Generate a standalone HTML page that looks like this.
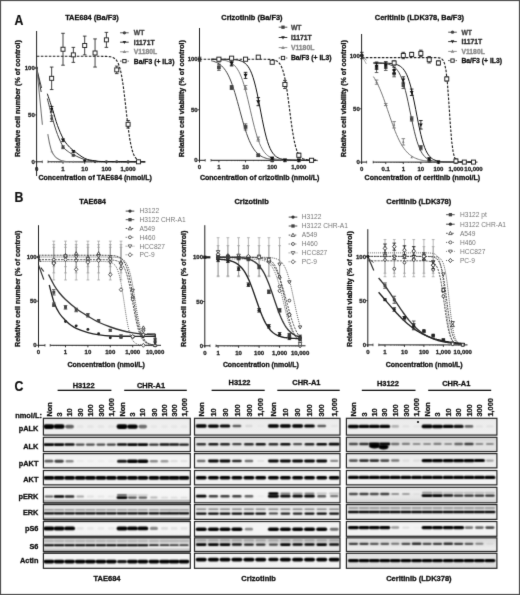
<!DOCTYPE html>
<html><head><meta charset="utf-8"><title>Figure</title>
<style>html,body{margin:0;padding:0;background:#fff;}svg{display:block;}</style>
</head><body>
<svg width="520" height="595" viewBox="0 0 520 595" font-family="'Liberation Sans', Arial, Helvetica, sans-serif">
<defs><filter id="bl" x="-20%" y="-50%" width="140%" height="200%" color-interpolation-filters="sRGB"><feConvolveMatrix order="3" kernelMatrix="0.04 0.12 0.04 0.12 0.36 0.12 0.04 0.12 0.04" edgeMode="none" preserveAlpha="false"/></filter><filter id="bl2" x="-20%" y="-50%" width="140%" height="200%"><feGaussianBlur stdDeviation="0.9"/></filter></defs>
<filter id="gb" color-interpolation-filters="sRGB" filterUnits="userSpaceOnUse" x="0" y="0" width="520" height="595"><feConvolveMatrix order="3" kernelMatrix="0.0081 0.0738 0.0081 0.0738 0.6724 0.0738 0.0081 0.0738 0.0081" edgeMode="duplicate" preserveAlpha="true"/></filter>
<g filter="url(#gb)">
<rect x="0" y="0" width="520" height="595" fill="#fff" stroke="none" stroke-width="0"/>
<text transform="translate(14.4 25) scale(0.86 1)" font-size="14.3" font-weight="bold" fill="#111" stroke="#111" stroke-width="0.2">A</text>
<text x="92" y="20.25" font-size="7.4" font-weight="bold" stroke="#111" stroke-width="0.3" text-anchor="middle" fill="#111">TAE684 (Ba/F3)</text>
<line x1="36.6" y1="31" x2="36.6" y2="176" stroke="#222" stroke-width="1"/>
<line x1="34.6" y1="161.8" x2="36.6" y2="161.8" stroke="#222" stroke-width="0.8"/>
<text x="34.8" y="163.96" font-size="6" font-weight="bold" stroke="#222" stroke-width="0.3" text-anchor="end" fill="#222">0</text>
<line x1="34.6" y1="114.9" x2="36.6" y2="114.9" stroke="#222" stroke-width="0.8"/>
<text x="34.8" y="117.06" font-size="6" font-weight="bold" stroke="#222" stroke-width="0.3" text-anchor="end" fill="#222">50</text>
<line x1="34.6" y1="68" x2="36.6" y2="68" stroke="#222" stroke-width="0.8"/>
<text x="34.8" y="70.16" font-size="6" font-weight="bold" stroke="#222" stroke-width="0.3" text-anchor="end" fill="#222">100</text>
<line x1="36.6" y1="161.8" x2="42.3" y2="161.8" stroke="#222" stroke-width="1"/>
<line x1="42.3" y1="160.5" x2="42.3" y2="163.1" stroke="#222" stroke-width="0.7"/>
<line x1="48" y1="161.8" x2="145.5" y2="161.8" stroke="#222" stroke-width="1"/>
<line x1="48" y1="160.5" x2="48" y2="163.1" stroke="#222" stroke-width="0.7"/>
<line x1="36.6" y1="161.8" x2="36.6" y2="163.4" stroke="#222" stroke-width="0.8"/>
<text x="36.6" y="170.96" font-size="6" font-weight="bold" stroke="#222" stroke-width="0.3" text-anchor="middle" fill="#222">0</text>
<line x1="63" y1="161.8" x2="63" y2="163.8" stroke="#222" stroke-width="0.9"/>
<text x="63" y="170.96" font-size="6" font-weight="bold" stroke="#222" stroke-width="0.3" text-anchor="middle" fill="#222">1</text>
<line x1="84.7" y1="161.8" x2="84.7" y2="163.8" stroke="#222" stroke-width="0.9"/>
<text x="84.7" y="170.96" font-size="6" font-weight="bold" stroke="#222" stroke-width="0.3" text-anchor="middle" fill="#222">10</text>
<line x1="106.4" y1="161.8" x2="106.4" y2="163.8" stroke="#222" stroke-width="0.9"/>
<text x="106.4" y="170.96" font-size="6" font-weight="bold" stroke="#222" stroke-width="0.3" text-anchor="middle" fill="#222">100</text>
<line x1="128.1" y1="161.8" x2="128.1" y2="163.8" stroke="#222" stroke-width="0.9"/>
<text x="128.1" y="170.96" font-size="6" font-weight="bold" stroke="#222" stroke-width="0.3" text-anchor="middle" fill="#222">1,000</text>
<line x1="51.65" y1="161.8" x2="51.65" y2="162.7" stroke="#222" stroke-width="0.4"/>
<line x1="54.36" y1="161.8" x2="54.36" y2="162.7" stroke="#222" stroke-width="0.4"/>
<line x1="56.47" y1="161.8" x2="56.47" y2="162.7" stroke="#222" stroke-width="0.4"/>
<line x1="58.19" y1="161.8" x2="58.19" y2="162.7" stroke="#222" stroke-width="0.4"/>
<line x1="59.64" y1="161.8" x2="59.64" y2="162.7" stroke="#222" stroke-width="0.4"/>
<line x1="60.9" y1="161.8" x2="60.9" y2="162.7" stroke="#222" stroke-width="0.4"/>
<line x1="62.01" y1="161.8" x2="62.01" y2="162.7" stroke="#222" stroke-width="0.4"/>
<line x1="69.53" y1="161.8" x2="69.53" y2="162.7" stroke="#222" stroke-width="0.4"/>
<line x1="73.35" y1="161.8" x2="73.35" y2="162.7" stroke="#222" stroke-width="0.4"/>
<line x1="76.06" y1="161.8" x2="76.06" y2="162.7" stroke="#222" stroke-width="0.4"/>
<line x1="78.17" y1="161.8" x2="78.17" y2="162.7" stroke="#222" stroke-width="0.4"/>
<line x1="79.89" y1="161.8" x2="79.89" y2="162.7" stroke="#222" stroke-width="0.4"/>
<line x1="81.34" y1="161.8" x2="81.34" y2="162.7" stroke="#222" stroke-width="0.4"/>
<line x1="82.6" y1="161.8" x2="82.6" y2="162.7" stroke="#222" stroke-width="0.4"/>
<line x1="83.71" y1="161.8" x2="83.71" y2="162.7" stroke="#222" stroke-width="0.4"/>
<line x1="91.23" y1="161.8" x2="91.23" y2="162.7" stroke="#222" stroke-width="0.4"/>
<line x1="95.05" y1="161.8" x2="95.05" y2="162.7" stroke="#222" stroke-width="0.4"/>
<line x1="97.76" y1="161.8" x2="97.76" y2="162.7" stroke="#222" stroke-width="0.4"/>
<line x1="99.87" y1="161.8" x2="99.87" y2="162.7" stroke="#222" stroke-width="0.4"/>
<line x1="101.59" y1="161.8" x2="101.59" y2="162.7" stroke="#222" stroke-width="0.4"/>
<line x1="103.04" y1="161.8" x2="103.04" y2="162.7" stroke="#222" stroke-width="0.4"/>
<line x1="104.3" y1="161.8" x2="104.3" y2="162.7" stroke="#222" stroke-width="0.4"/>
<line x1="105.41" y1="161.8" x2="105.41" y2="162.7" stroke="#222" stroke-width="0.4"/>
<line x1="112.93" y1="161.8" x2="112.93" y2="162.7" stroke="#222" stroke-width="0.4"/>
<line x1="116.75" y1="161.8" x2="116.75" y2="162.7" stroke="#222" stroke-width="0.4"/>
<line x1="119.46" y1="161.8" x2="119.46" y2="162.7" stroke="#222" stroke-width="0.4"/>
<line x1="121.57" y1="161.8" x2="121.57" y2="162.7" stroke="#222" stroke-width="0.4"/>
<line x1="123.29" y1="161.8" x2="123.29" y2="162.7" stroke="#222" stroke-width="0.4"/>
<line x1="124.74" y1="161.8" x2="124.74" y2="162.7" stroke="#222" stroke-width="0.4"/>
<line x1="126" y1="161.8" x2="126" y2="162.7" stroke="#222" stroke-width="0.4"/>
<line x1="127.11" y1="161.8" x2="127.11" y2="162.7" stroke="#222" stroke-width="0.4"/>
<line x1="134.63" y1="161.8" x2="134.63" y2="162.7" stroke="#222" stroke-width="0.4"/>
<line x1="138.45" y1="161.8" x2="138.45" y2="162.7" stroke="#222" stroke-width="0.4"/>
<line x1="141.16" y1="161.8" x2="141.16" y2="162.7" stroke="#222" stroke-width="0.4"/>
<line x1="143.27" y1="161.8" x2="143.27" y2="162.7" stroke="#222" stroke-width="0.4"/>
<line x1="144.99" y1="161.8" x2="144.99" y2="162.7" stroke="#222" stroke-width="0.4"/>
<text x="19.6" y="98.65" font-size="7.12" font-weight="bold" stroke="#111" stroke-width="0.3" text-anchor="middle" fill="#111" transform="rotate(-90 19.6 98.65)">Relative cell number (% of control)</text>
<text x="95.1" y="180" font-size="7.05" font-weight="bold" stroke="#111" stroke-width="0.3" text-anchor="middle" fill="#111">Concentration of TAE684 (nmol/L)</text>
<line x1="36.6" y1="68" x2="41.6" y2="88" stroke="#333" stroke-width="0.9"/>
<line x1="36.6" y1="68" x2="41.2" y2="92" stroke="#222" stroke-width="0.9"/>
<line x1="36.8" y1="68" x2="42.4" y2="124.7" stroke="#777" stroke-width="1.1"/>
<path d="M47.3 98.5 C48.17 101.85 50.8 112.6 52.5 118.6 C54.2 124.6 55.7 129.78 57.5 134.5 C59.3 139.22 61.47 144.02 63.3 146.9 C65.13 149.78 66.72 150.45 68.5 151.8 C70.28 153.15 71.28 153.7 74 155 C76.72 156.3 81.3 158.57 84.8 159.6 C88.3 160.63 91.47 160.85 95 161.2 C98.53 161.55 97.67 161.6 106 161.7 C114.33 161.8 138.5 161.78 145 161.8" stroke="#444" stroke-width="1" fill="none" stroke-linejoin="round"/>
<path d="M47.3 93.7 C48.17 96.28 50.8 103.9 52.5 109.2 C54.2 114.5 55.7 120.57 57.5 125.5 C59.3 130.43 61.47 135.38 63.3 138.8 C65.13 142.22 66.72 143.98 68.5 146 C70.28 148.02 71.28 148.83 74 150.9 C76.72 152.97 81.3 156.75 84.8 158.4 C88.3 160.05 91.47 160.27 95 160.8 C98.53 161.33 97.67 161.43 106 161.6 C114.33 161.77 138.5 161.77 145 161.8" stroke="#111" stroke-width="1" fill="none" stroke-linejoin="round"/>
<path d="M47.8 134.1 C48.13 135.83 49.13 141.6 49.8 144.5 C50.47 147.4 50.93 149.5 51.8 151.5 C52.67 153.5 53.87 155.22 55 156.5 C56.13 157.78 57.22 158.43 58.6 159.2 C59.98 159.97 61.4 160.68 63.3 161.1 C65.2 161.52 65.55 161.58 70 161.7 C74.45 161.82 86.67 161.78 90 161.8" stroke="#777" stroke-width="1.1" fill="none" stroke-linejoin="round"/>
<path d="M36.8 56.28 L38.09 56.28 L39.38 56.28 L40.67 56.28 L41.96 56.28 L43.25 56.28 L44.54 56.28 L45.83 56.28 L47.12 56.28 L48.41 56.28 L49.7 56.28 L50.99 56.28 L52.28 56.28 L53.57 56.28 L54.86 56.28 L56.15 56.28 L57.44 56.28 L58.73 56.28 L60.02 56.28 L61.31 56.28 L62.6 56.28 L63.89 56.28 L65.18 56.28 L66.47 56.28 L67.76 56.28 L69.05 56.28 L70.34 56.28 L71.63 56.28 L72.92 56.28 L74.21 56.28 L75.5 56.28 L76.79 56.28 L78.08 56.28 L79.37 56.28 L80.66 56.28 L81.95 56.28 L83.24 56.28 L84.53 56.28 L85.82 56.28 L87.11 56.28 L88.4 56.28 L89.69 56.28 L90.98 56.28 L92.27 56.28 L93.56 56.28 L94.85 56.28 L96.14 56.28 L97.43 56.28 L98.72 56.29 L100.01 56.29 L101.3 56.3 L102.59 56.31 L103.88 56.33 L105.17 56.36 L106.46 56.41 L107.75 56.49 L109.04 56.61 L110.33 56.79 L111.62 57.07 L112.91 57.5 L114.2 58.16 L115.49 59.17 L116.78 60.7 L118.07 62.97 L119.36 66.3 L120.65 71.04 L121.94 77.53 L123.23 85.93 L124.52 96.08 L125.81 107.36 L127.1 118.8 L128.39 129.37 L129.68 138.31 L130.97 145.34 L132.26 150.56 L133.55 154.26 L134.84 156.81 L136.13 158.52 L137.42 159.66 L138.71 160.41 L140 160.9" stroke="#222" stroke-width="1.15" fill="none" stroke-dasharray="2.6,1.4" stroke-linejoin="round"/>
<line x1="51.65" y1="115.84" x2="51.65" y2="121.47" stroke="#444" stroke-width="0.85"/>
<line x1="49.85" y1="115.84" x2="53.45" y2="115.84" stroke="#444" stroke-width="0.85"/>
<line x1="49.85" y1="121.47" x2="53.45" y2="121.47" stroke="#444" stroke-width="0.85"/>
<circle cx="51.65" cy="118.65" r="1.45" fill="#444"/>
<line x1="63" y1="145.85" x2="63" y2="148.67" stroke="#444" stroke-width="0.85"/>
<line x1="61.2" y1="145.85" x2="64.8" y2="145.85" stroke="#444" stroke-width="0.85"/>
<line x1="61.2" y1="148.67" x2="64.8" y2="148.67" stroke="#444" stroke-width="0.85"/>
<circle cx="63" cy="147.26" r="1.45" fill="#444"/>
<line x1="73.35" y1="154.3" x2="73.35" y2="156.17" stroke="#444" stroke-width="0.85"/>
<line x1="71.55" y1="154.3" x2="75.15" y2="154.3" stroke="#444" stroke-width="0.85"/>
<line x1="71.55" y1="156.17" x2="75.15" y2="156.17" stroke="#444" stroke-width="0.85"/>
<circle cx="73.35" cy="155.23" r="1.45" fill="#444"/>
<circle cx="84.7" cy="160.86" r="1.45" fill="#444"/>
<circle cx="95.05" cy="161.8" r="1.45" fill="#444"/>
<circle cx="106.4" cy="161.8" r="1.45" fill="#444"/>
<circle cx="116.75" cy="161.8" r="1.45" fill="#444"/>
<circle cx="128.1" cy="161.8" r="1.45" fill="#444"/>
<circle cx="138.45" cy="161.8" r="1.45" fill="#444"/>
<line x1="51.65" y1="106.46" x2="51.65" y2="112.09" stroke="#111" stroke-width="0.85"/>
<line x1="49.85" y1="106.46" x2="53.45" y2="106.46" stroke="#111" stroke-width="0.85"/>
<line x1="49.85" y1="112.09" x2="53.45" y2="112.09" stroke="#111" stroke-width="0.85"/>
<path d="M51.65 111L53.3 108.07L50 108.07Z" stroke="none" stroke-width="0" fill="#111"/>
<line x1="63" y1="138.82" x2="63" y2="141.63" stroke="#111" stroke-width="0.85"/>
<line x1="61.2" y1="138.82" x2="64.8" y2="138.82" stroke="#111" stroke-width="0.85"/>
<line x1="61.2" y1="141.63" x2="64.8" y2="141.63" stroke="#111" stroke-width="0.85"/>
<path d="M63 141.95L64.65 139.03L61.35 139.03Z" stroke="none" stroke-width="0" fill="#111"/>
<line x1="73.35" y1="150.54" x2="73.35" y2="152.42" stroke="#111" stroke-width="0.85"/>
<line x1="71.55" y1="150.54" x2="75.15" y2="150.54" stroke="#111" stroke-width="0.85"/>
<line x1="71.55" y1="152.42" x2="75.15" y2="152.42" stroke="#111" stroke-width="0.85"/>
<path d="M73.35 153.21L75 150.28L71.7 150.28Z" stroke="none" stroke-width="0" fill="#111"/>
<path d="M84.7 162.59L86.35 159.66L83.05 159.66Z" stroke="none" stroke-width="0" fill="#111"/>
<path d="M51.65 150.22L52.86 152.36L50.44 152.36Z" stroke="none" stroke-width="0" fill="#888"/>
<path d="M63 160.07L64.21 162.21L61.79 162.21Z" stroke="none" stroke-width="0" fill="#888"/>
<path d="M73.35 160.54L74.56 162.68L72.14 162.68Z" stroke="none" stroke-width="0" fill="#888"/>
<circle cx="36.6" cy="68" r="1.4" fill="#444"/>
<line x1="51.65" y1="67.06" x2="51.65" y2="89.57" stroke="#222" stroke-width="0.85"/>
<line x1="49.85" y1="67.06" x2="53.45" y2="67.06" stroke="#222" stroke-width="0.85"/>
<line x1="49.85" y1="89.57" x2="53.45" y2="89.57" stroke="#222" stroke-width="0.85"/>
<rect x="49.65" y="76.32" width="4" height="4" fill="#fff" stroke="#222" stroke-width="0.95"/>
<line x1="63" y1="33.29" x2="63" y2="65.19" stroke="#222" stroke-width="0.85"/>
<line x1="61.2" y1="33.29" x2="64.8" y2="33.29" stroke="#222" stroke-width="0.85"/>
<line x1="61.2" y1="65.19" x2="64.8" y2="65.19" stroke="#222" stroke-width="0.85"/>
<rect x="61" y="47.24" width="4" height="4" fill="#fff" stroke="#222" stroke-width="0.95"/>
<line x1="73.35" y1="47.36" x2="73.35" y2="62.37" stroke="#222" stroke-width="0.85"/>
<line x1="71.55" y1="47.36" x2="75.15" y2="47.36" stroke="#222" stroke-width="0.85"/>
<line x1="71.55" y1="62.37" x2="75.15" y2="62.37" stroke="#222" stroke-width="0.85"/>
<rect x="71.35" y="52.87" width="4" height="4" fill="#fff" stroke="#222" stroke-width="0.95"/>
<line x1="84.7" y1="36.11" x2="84.7" y2="54.87" stroke="#222" stroke-width="0.85"/>
<line x1="82.9" y1="36.11" x2="86.5" y2="36.11" stroke="#222" stroke-width="0.85"/>
<line x1="82.9" y1="54.87" x2="86.5" y2="54.87" stroke="#222" stroke-width="0.85"/>
<rect x="82.7" y="43.49" width="4" height="4" fill="#fff" stroke="#222" stroke-width="0.95"/>
<line x1="95.05" y1="38.92" x2="95.05" y2="67.06" stroke="#222" stroke-width="0.85"/>
<line x1="93.25" y1="38.92" x2="96.85" y2="38.92" stroke="#222" stroke-width="0.85"/>
<line x1="93.25" y1="67.06" x2="96.85" y2="67.06" stroke="#222" stroke-width="0.85"/>
<rect x="93.05" y="50.99" width="4" height="4" fill="#fff" stroke="#222" stroke-width="0.95"/>
<line x1="106.4" y1="32.36" x2="106.4" y2="47.36" stroke="#222" stroke-width="0.85"/>
<line x1="104.6" y1="32.36" x2="108.2" y2="32.36" stroke="#222" stroke-width="0.85"/>
<line x1="104.6" y1="47.36" x2="108.2" y2="47.36" stroke="#222" stroke-width="0.85"/>
<rect x="104.4" y="37.86" width="4" height="4" fill="#fff" stroke="#222" stroke-width="0.95"/>
<line x1="116.75" y1="66.12" x2="116.75" y2="73.63" stroke="#222" stroke-width="0.85"/>
<line x1="114.95" y1="66.12" x2="118.55" y2="66.12" stroke="#222" stroke-width="0.85"/>
<line x1="114.95" y1="73.63" x2="118.55" y2="73.63" stroke="#222" stroke-width="0.85"/>
<rect x="114.75" y="67.88" width="4" height="4" fill="#fff" stroke="#222" stroke-width="0.95"/>
<line x1="128.1" y1="120.53" x2="128.1" y2="128.03" stroke="#222" stroke-width="0.85"/>
<line x1="126.3" y1="120.53" x2="129.9" y2="120.53" stroke="#222" stroke-width="0.85"/>
<line x1="126.3" y1="128.03" x2="129.9" y2="128.03" stroke="#222" stroke-width="0.85"/>
<rect x="126.1" y="122.28" width="4" height="4" fill="#fff" stroke="#222" stroke-width="0.95"/>
<rect x="136.45" y="159.8" width="4" height="4" fill="#fff" stroke="#222" stroke-width="0.95"/>
<line x1="120.1" y1="32.8" x2="128.7" y2="32.8" stroke="#444" stroke-width="0.9"/>
<circle cx="124.4" cy="32.8" r="1.65" fill="#444"/>
<text x="133.8" y="35.25" font-size="6.8" font-weight="bold" stroke="#444" stroke-width="0.3" fill="#444">WT</text>
<line x1="120.1" y1="42.2" x2="128.7" y2="42.2" stroke="#222" stroke-width="0.9"/>
<path d="M124.4 44.1L126.22 40.88L122.59 40.88Z" stroke="none" stroke-width="0" fill="#222"/>
<text x="133.8" y="44.65" font-size="6.8" font-weight="bold" stroke="#2a2a2a" stroke-width="0.3" fill="#2a2a2a">I1171T</text>
<line x1="120.1" y1="51.8" x2="128.7" y2="51.8" stroke="#888" stroke-width="0.9"/>
<path d="M124.4 49.9L126.22 53.12L122.59 53.12Z" stroke="none" stroke-width="0" fill="#888"/>
<text x="133.8" y="54.25" font-size="6.8" font-weight="bold" stroke="#888" stroke-width="0.3" fill="#888">V1180L</text>
<line x1="120.1" y1="61.1" x2="128.7" y2="61.1" stroke="#222" stroke-width="0.9" stroke-dasharray="1.5,1"/>
<rect x="122.75" y="59.45" width="3.3" height="3.3" fill="#fff" stroke="#222" stroke-width="0.95"/>
<text x="133.8" y="63.55" font-size="6.8" font-weight="bold" stroke="#111" stroke-width="0.3" fill="#111">Ba/F3 (+ IL3)</text>
<text x="251.9" y="20.25" font-size="7.4" font-weight="bold" stroke="#111" stroke-width="0.3" text-anchor="middle" fill="#111">Crizotinib (Ba/F3)</text>
<line x1="199.5" y1="28" x2="199.5" y2="162.5" stroke="#222" stroke-width="1"/>
<line x1="197.5" y1="160.3" x2="199.5" y2="160.3" stroke="#222" stroke-width="0.8"/>
<text x="197.7" y="162.46" font-size="6" font-weight="bold" stroke="#222" stroke-width="0.3" text-anchor="end" fill="#222">0</text>
<line x1="197.5" y1="109.75" x2="199.5" y2="109.75" stroke="#222" stroke-width="0.8"/>
<text x="197.7" y="111.91" font-size="6" font-weight="bold" stroke="#222" stroke-width="0.3" text-anchor="end" fill="#222">50</text>
<line x1="197.5" y1="59.2" x2="199.5" y2="59.2" stroke="#222" stroke-width="0.8"/>
<text x="197.7" y="61.36" font-size="6" font-weight="bold" stroke="#222" stroke-width="0.3" text-anchor="end" fill="#222">100</text>
<line x1="199.5" y1="160.3" x2="205.2" y2="160.3" stroke="#222" stroke-width="1"/>
<line x1="205.2" y1="159" x2="205.2" y2="161.6" stroke="#222" stroke-width="0.7"/>
<line x1="211" y1="160.3" x2="317.5" y2="160.3" stroke="#222" stroke-width="1"/>
<line x1="211" y1="159" x2="211" y2="161.6" stroke="#222" stroke-width="0.7"/>
<line x1="199.5" y1="160.3" x2="199.5" y2="161.9" stroke="#222" stroke-width="0.8"/>
<text x="199.5" y="169.46" font-size="6" font-weight="bold" stroke="#222" stroke-width="0.3" text-anchor="middle" fill="#222">0</text>
<line x1="218.9" y1="160.3" x2="218.9" y2="162.3" stroke="#222" stroke-width="0.9"/>
<text x="218.9" y="169.46" font-size="6" font-weight="bold" stroke="#222" stroke-width="0.3" text-anchor="middle" fill="#222">1</text>
<line x1="245.55" y1="160.3" x2="245.55" y2="162.3" stroke="#222" stroke-width="0.9"/>
<text x="245.55" y="169.46" font-size="6" font-weight="bold" stroke="#222" stroke-width="0.3" text-anchor="middle" fill="#222">10</text>
<line x1="272.2" y1="160.3" x2="272.2" y2="162.3" stroke="#222" stroke-width="0.9"/>
<text x="272.2" y="169.46" font-size="6" font-weight="bold" stroke="#222" stroke-width="0.3" text-anchor="middle" fill="#222">100</text>
<line x1="298.85" y1="160.3" x2="298.85" y2="162.3" stroke="#222" stroke-width="0.9"/>
<text x="298.85" y="169.46" font-size="6" font-weight="bold" stroke="#222" stroke-width="0.3" text-anchor="middle" fill="#222">1,000</text>
<line x1="212.99" y1="160.3" x2="212.99" y2="161.2" stroke="#222" stroke-width="0.4"/>
<line x1="214.77" y1="160.3" x2="214.77" y2="161.2" stroke="#222" stroke-width="0.4"/>
<line x1="216.32" y1="160.3" x2="216.32" y2="161.2" stroke="#222" stroke-width="0.4"/>
<line x1="217.68" y1="160.3" x2="217.68" y2="161.2" stroke="#222" stroke-width="0.4"/>
<line x1="226.92" y1="160.3" x2="226.92" y2="161.2" stroke="#222" stroke-width="0.4"/>
<line x1="231.62" y1="160.3" x2="231.62" y2="161.2" stroke="#222" stroke-width="0.4"/>
<line x1="234.94" y1="160.3" x2="234.94" y2="161.2" stroke="#222" stroke-width="0.4"/>
<line x1="237.53" y1="160.3" x2="237.53" y2="161.2" stroke="#222" stroke-width="0.4"/>
<line x1="239.64" y1="160.3" x2="239.64" y2="161.2" stroke="#222" stroke-width="0.4"/>
<line x1="241.42" y1="160.3" x2="241.42" y2="161.2" stroke="#222" stroke-width="0.4"/>
<line x1="242.97" y1="160.3" x2="242.97" y2="161.2" stroke="#222" stroke-width="0.4"/>
<line x1="244.33" y1="160.3" x2="244.33" y2="161.2" stroke="#222" stroke-width="0.4"/>
<line x1="253.57" y1="160.3" x2="253.57" y2="161.2" stroke="#222" stroke-width="0.4"/>
<line x1="258.27" y1="160.3" x2="258.27" y2="161.2" stroke="#222" stroke-width="0.4"/>
<line x1="261.59" y1="160.3" x2="261.59" y2="161.2" stroke="#222" stroke-width="0.4"/>
<line x1="264.18" y1="160.3" x2="264.18" y2="161.2" stroke="#222" stroke-width="0.4"/>
<line x1="266.29" y1="160.3" x2="266.29" y2="161.2" stroke="#222" stroke-width="0.4"/>
<line x1="268.07" y1="160.3" x2="268.07" y2="161.2" stroke="#222" stroke-width="0.4"/>
<line x1="269.62" y1="160.3" x2="269.62" y2="161.2" stroke="#222" stroke-width="0.4"/>
<line x1="270.98" y1="160.3" x2="270.98" y2="161.2" stroke="#222" stroke-width="0.4"/>
<line x1="280.22" y1="160.3" x2="280.22" y2="161.2" stroke="#222" stroke-width="0.4"/>
<line x1="284.92" y1="160.3" x2="284.92" y2="161.2" stroke="#222" stroke-width="0.4"/>
<line x1="288.24" y1="160.3" x2="288.24" y2="161.2" stroke="#222" stroke-width="0.4"/>
<line x1="290.83" y1="160.3" x2="290.83" y2="161.2" stroke="#222" stroke-width="0.4"/>
<line x1="292.94" y1="160.3" x2="292.94" y2="161.2" stroke="#222" stroke-width="0.4"/>
<line x1="294.72" y1="160.3" x2="294.72" y2="161.2" stroke="#222" stroke-width="0.4"/>
<line x1="296.27" y1="160.3" x2="296.27" y2="161.2" stroke="#222" stroke-width="0.4"/>
<line x1="297.63" y1="160.3" x2="297.63" y2="161.2" stroke="#222" stroke-width="0.4"/>
<line x1="306.87" y1="160.3" x2="306.87" y2="161.2" stroke="#222" stroke-width="0.4"/>
<line x1="311.57" y1="160.3" x2="311.57" y2="161.2" stroke="#222" stroke-width="0.4"/>
<line x1="314.89" y1="160.3" x2="314.89" y2="161.2" stroke="#222" stroke-width="0.4"/>
<line x1="317.48" y1="160.3" x2="317.48" y2="161.2" stroke="#222" stroke-width="0.4"/>
<text x="184.4" y="98.65" font-size="7.1" font-weight="bold" stroke="#111" stroke-width="0.3" text-anchor="middle" fill="#111" transform="rotate(-90 184.4 98.65)">Relative cell viability (% of control)</text>
<text x="259.6" y="180" font-size="7.05" font-weight="bold" stroke="#111" stroke-width="0.3" text-anchor="middle" fill="#111">Concentration of crizotinib (nmol/L)</text>
<path d="M211.2 60.73 L212.51 61.05 L213.82 61.43 L215.13 61.89 L216.44 62.44 L217.75 63.1 L219.06 63.89 L220.37 64.83 L221.68 65.95 L222.99 67.27 L224.3 68.82 L225.61 70.62 L226.92 72.72 L228.23 75.14 L229.54 77.9 L230.85 81.01 L232.16 84.48 L233.47 88.3 L234.78 92.44 L236.09 96.87 L237.4 101.52 L238.71 106.31 L240.02 111.17 L241.33 116 L242.64 120.72 L243.95 125.24 L245.26 129.51 L246.57 133.47 L247.88 137.09 L249.19 140.35 L250.5 143.25 L251.81 145.81 L253.12 148.04 L254.43 149.96 L255.74 151.62 L257.05 153.03 L258.36 154.22 L259.67 155.24 L260.98 156.08 L262.29 156.8 L263.6 157.39 L264.91 157.89 L266.22 158.3 L267.53 158.65 L268.84 158.93 L270.15 159.17 L271.46 159.37 L272.77 159.53 L274.08 159.66 L275.39 159.77 L276.7 159.86 L278.01 159.94 L279.32 160 L280.63 160.06 L281.94 160.1 L283.25 160.13 L284.56 160.16 L285.87 160.19 L287.18 160.21 L288.49 160.22 L289.8 160.24 L291.11 160.25 L292.42 160.26 L293.73 160.26 L295.04 160.27 L296.35 160.28 L297.66 160.28 L298.97 160.28 L300.28 160.29 L301.59 160.29 L302.9 160.29 L304.21 160.29 L305.52 160.29 L306.83 160.29 L308.14 160.3 L309.45 160.3 L310.76 160.3 L312.07 160.3 L313.38 160.3 L314.69 160.3 L316 160.3" stroke="#444" stroke-width="1" fill="none" stroke-linejoin="round"/>
<path d="M211.2 59.32 L212.51 59.35 L213.82 59.39 L215.13 59.43 L216.44 59.49 L217.75 59.57 L219.06 59.66 L220.37 59.78 L221.68 59.92 L222.99 60.1 L224.3 60.33 L225.61 60.61 L226.92 60.97 L228.23 61.4 L229.54 61.95 L230.85 62.62 L232.16 63.46 L233.47 64.48 L234.78 65.74 L236.09 67.26 L237.4 69.11 L238.71 71.33 L240.02 73.96 L241.33 77.05 L242.64 80.62 L243.95 84.69 L245.26 89.24 L246.57 94.23 L247.88 99.57 L249.19 105.16 L250.5 110.87 L251.81 116.55 L253.12 122.06 L254.43 127.28 L255.74 132.1 L257.05 136.47 L258.36 140.34 L259.67 143.72 L260.98 146.63 L262.29 149.09 L263.6 151.16 L264.91 152.87 L266.22 154.29 L267.53 155.45 L268.84 156.39 L270.15 157.16 L271.46 157.78 L272.77 158.28 L274.08 158.68 L275.39 159.01 L276.7 159.27 L278.01 159.47 L279.32 159.64 L280.63 159.77 L281.94 159.88 L283.25 159.96 L284.56 160.03 L285.87 160.09 L287.18 160.13 L288.49 160.16 L289.8 160.19 L291.11 160.21 L292.42 160.23 L293.73 160.24 L295.04 160.26 L296.35 160.26 L297.66 160.27 L298.97 160.28 L300.28 160.28 L301.59 160.29 L302.9 160.29 L304.21 160.29 L305.52 160.29 L306.83 160.29 L308.14 160.3 L309.45 160.3 L310.76 160.3 L312.07 160.3 L313.38 160.3 L314.69 160.3 L316 160.3" stroke="#777" stroke-width="1" fill="none" stroke-linejoin="round"/>
<path d="M211.2 59.2 L212.51 59.2 L213.82 59.21 L215.13 59.21 L216.44 59.21 L217.75 59.21 L219.06 59.22 L220.37 59.23 L221.68 59.23 L222.99 59.24 L224.3 59.26 L225.61 59.27 L226.92 59.3 L228.23 59.33 L229.54 59.37 L230.85 59.42 L232.16 59.49 L233.47 59.58 L234.78 59.7 L236.09 59.85 L237.4 60.06 L238.71 60.32 L240.02 60.66 L241.33 61.11 L242.64 61.69 L243.95 62.45 L245.26 63.42 L246.57 64.66 L247.88 66.25 L249.19 68.25 L250.5 70.75 L251.81 73.84 L253.12 77.58 L254.43 82.02 L255.74 87.17 L257.05 92.98 L258.36 99.34 L259.67 106.06 L260.98 112.91 L262.29 119.65 L263.6 126.05 L264.91 131.91 L266.22 137.11 L267.53 141.61 L268.84 145.4 L270.15 148.53 L271.46 151.08 L272.77 153.11 L274.08 154.73 L275.39 156 L276.7 156.99 L278.01 157.76 L279.32 158.35 L280.63 158.81 L281.94 159.16 L283.25 159.43 L284.56 159.63 L285.87 159.79 L287.18 159.91 L288.49 160 L289.8 160.07 L291.11 160.13 L292.42 160.17 L293.73 160.2 L295.04 160.22 L296.35 160.24 L297.66 160.26 L298.97 160.27 L300.28 160.27 L301.59 160.28 L302.9 160.29 L304.21 160.29 L305.52 160.29 L306.83 160.29 L308.14 160.29 L309.45 160.3 L310.76 160.3 L312.07 160.3 L313.38 160.3 L314.69 160.3 L316 160.3" stroke="#111" stroke-width="1" fill="none" stroke-linejoin="round"/>
<path d="M199.6 59.2 L201.06 59.2 L202.51 59.2 L203.97 59.2 L205.42 59.2 L206.88 59.2 L208.33 59.2 L209.78 59.2 L211.24 59.2 L212.69 59.2 L214.15 59.2 L215.6 59.2 L217.06 59.2 L218.51 59.2 L219.97 59.2 L221.42 59.2 L222.88 59.2 L224.34 59.2 L225.79 59.2 L227.25 59.2 L228.7 59.2 L230.16 59.2 L231.61 59.2 L233.06 59.2 L234.52 59.2 L235.97 59.2 L237.43 59.2 L238.88 59.2 L240.34 59.2 L241.8 59.2 L243.25 59.2 L244.7 59.2 L246.16 59.2 L247.62 59.2 L249.07 59.2 L250.52 59.2 L251.98 59.2 L253.44 59.2 L254.89 59.2 L256.35 59.2 L257.8 59.21 L259.25 59.21 L260.71 59.21 L262.16 59.22 L263.62 59.23 L265.07 59.25 L266.53 59.28 L267.99 59.32 L269.44 59.39 L270.89 59.5 L272.35 59.67 L273.81 59.94 L275.26 60.35 L276.72 61 L278.17 62 L279.62 63.54 L281.08 65.86 L282.53 69.28 L283.99 74.2 L285.44 80.94 L286.9 89.64 L288.36 100.02 L289.81 111.34 L291.26 122.49 L292.72 132.47 L294.18 140.63 L295.63 146.83 L297.08 151.3 L298.54 154.38 L300 156.46 L301.45 157.82 L302.9 158.71 L304.36 159.28 L305.81 159.65 L307.27 159.89 L308.73 160.04 L310.18 160.13 L311.63 160.19 L313.09 160.23 L314.55 160.26 L316 160.27" stroke="#222" stroke-width="1.15" fill="none" stroke-dasharray="2.6,1.4" stroke-linejoin="round"/>
<line x1="218.9" y1="64.26" x2="218.9" y2="70.32" stroke="#444" stroke-width="0.85"/>
<line x1="217.1" y1="64.26" x2="220.7" y2="64.26" stroke="#444" stroke-width="0.85"/>
<line x1="217.1" y1="70.32" x2="220.7" y2="70.32" stroke="#444" stroke-width="0.85"/>
<rect x="217.05" y="65.44" width="3.7" height="3.7" fill="#444" stroke="none" stroke-width="0"/>
<line x1="231.62" y1="85.49" x2="231.62" y2="89.53" stroke="#444" stroke-width="0.85"/>
<line x1="229.82" y1="85.49" x2="233.42" y2="85.49" stroke="#444" stroke-width="0.85"/>
<line x1="229.82" y1="89.53" x2="233.42" y2="89.53" stroke="#444" stroke-width="0.85"/>
<rect x="229.77" y="85.66" width="3.7" height="3.7" fill="#444" stroke="none" stroke-width="0"/>
<line x1="245.55" y1="123.9" x2="245.55" y2="129.97" stroke="#444" stroke-width="0.85"/>
<line x1="243.75" y1="123.9" x2="247.35" y2="123.9" stroke="#444" stroke-width="0.85"/>
<line x1="243.75" y1="129.97" x2="247.35" y2="129.97" stroke="#444" stroke-width="0.85"/>
<rect x="243.7" y="125.09" width="3.7" height="3.7" fill="#444" stroke="none" stroke-width="0"/>
<line x1="258.27" y1="154.23" x2="258.27" y2="156.26" stroke="#444" stroke-width="0.85"/>
<line x1="256.47" y1="154.23" x2="260.07" y2="154.23" stroke="#444" stroke-width="0.85"/>
<line x1="256.47" y1="156.26" x2="260.07" y2="156.26" stroke="#444" stroke-width="0.85"/>
<rect x="256.42" y="153.4" width="3.7" height="3.7" fill="#444" stroke="none" stroke-width="0"/>
<rect x="270.35" y="158.45" width="3.7" height="3.7" fill="#444" stroke="none" stroke-width="0"/>
<rect x="283.07" y="158.45" width="3.7" height="3.7" fill="#444" stroke="none" stroke-width="0"/>
<rect x="297" y="158.45" width="3.7" height="3.7" fill="#444" stroke="none" stroke-width="0"/>
<rect x="309.72" y="158.45" width="3.7" height="3.7" fill="#444" stroke="none" stroke-width="0"/>
<line x1="218.9" y1="58.19" x2="218.9" y2="62.23" stroke="#777" stroke-width="0.85"/>
<line x1="217.1" y1="58.19" x2="220.7" y2="58.19" stroke="#777" stroke-width="0.85"/>
<line x1="217.1" y1="62.23" x2="220.7" y2="62.23" stroke="#777" stroke-width="0.85"/>
<path d="M218.9 58.37L220.66 61.49L217.14 61.49Z" stroke="none" stroke-width="0" fill="#777"/>
<line x1="231.62" y1="62.23" x2="231.62" y2="66.28" stroke="#777" stroke-width="0.85"/>
<line x1="229.82" y1="62.23" x2="233.42" y2="62.23" stroke="#777" stroke-width="0.85"/>
<line x1="229.82" y1="66.28" x2="233.42" y2="66.28" stroke="#777" stroke-width="0.85"/>
<path d="M231.62 62.42L233.38 65.54L229.86 65.54Z" stroke="none" stroke-width="0" fill="#777"/>
<line x1="245.55" y1="85.49" x2="245.55" y2="89.53" stroke="#777" stroke-width="0.85"/>
<line x1="243.75" y1="85.49" x2="247.35" y2="85.49" stroke="#777" stroke-width="0.85"/>
<line x1="243.75" y1="89.53" x2="247.35" y2="89.53" stroke="#777" stroke-width="0.85"/>
<path d="M245.55 85.67L247.31 88.79L243.79 88.79Z" stroke="none" stroke-width="0" fill="#777"/>
<line x1="258.27" y1="137.05" x2="258.27" y2="141.09" stroke="#777" stroke-width="0.85"/>
<line x1="256.47" y1="137.05" x2="260.07" y2="137.05" stroke="#777" stroke-width="0.85"/>
<line x1="256.47" y1="141.09" x2="260.07" y2="141.09" stroke="#777" stroke-width="0.85"/>
<path d="M258.27 137.23L260.03 140.35L256.51 140.35Z" stroke="none" stroke-width="0" fill="#777"/>
<path d="M272.2 156.44L273.96 159.56L270.44 159.56Z" stroke="none" stroke-width="0" fill="#777"/>
<path d="M284.92 158.46L286.68 161.58L283.16 161.58Z" stroke="none" stroke-width="0" fill="#777"/>
<line x1="218.9" y1="58.19" x2="218.9" y2="60.21" stroke="#111" stroke-width="0.85"/>
<line x1="217.1" y1="58.19" x2="220.7" y2="58.19" stroke="#111" stroke-width="0.85"/>
<line x1="217.1" y1="60.21" x2="220.7" y2="60.21" stroke="#111" stroke-width="0.85"/>
<path d="M218.9 61.39L220.99 57.68L216.81 57.68Z" stroke="none" stroke-width="0" fill="#111"/>
<line x1="231.62" y1="61.22" x2="231.62" y2="65.27" stroke="#111" stroke-width="0.85"/>
<line x1="229.82" y1="61.22" x2="233.42" y2="61.22" stroke="#111" stroke-width="0.85"/>
<line x1="229.82" y1="65.27" x2="233.42" y2="65.27" stroke="#111" stroke-width="0.85"/>
<path d="M231.62 65.43L233.71 61.72L229.53 61.72Z" stroke="none" stroke-width="0" fill="#111"/>
<line x1="245.55" y1="72.34" x2="245.55" y2="78.41" stroke="#111" stroke-width="0.85"/>
<line x1="243.75" y1="72.34" x2="247.35" y2="72.34" stroke="#111" stroke-width="0.85"/>
<line x1="243.75" y1="78.41" x2="247.35" y2="78.41" stroke="#111" stroke-width="0.85"/>
<path d="M245.55 77.56L247.64 73.86L243.46 73.86Z" stroke="none" stroke-width="0" fill="#111"/>
<line x1="258.27" y1="97.62" x2="258.27" y2="105.71" stroke="#111" stroke-width="0.85"/>
<line x1="256.47" y1="97.62" x2="260.07" y2="97.62" stroke="#111" stroke-width="0.85"/>
<line x1="256.47" y1="105.71" x2="260.07" y2="105.71" stroke="#111" stroke-width="0.85"/>
<path d="M258.27 103.85L260.36 100.14L256.18 100.14Z" stroke="none" stroke-width="0" fill="#111"/>
<line x1="272.2" y1="157.27" x2="272.2" y2="159.29" stroke="#111" stroke-width="0.85"/>
<line x1="270.4" y1="157.27" x2="274" y2="157.27" stroke="#111" stroke-width="0.85"/>
<line x1="270.4" y1="159.29" x2="274" y2="159.29" stroke="#111" stroke-width="0.85"/>
<path d="M272.2 160.46L274.29 156.76L270.11 156.76Z" stroke="none" stroke-width="0" fill="#111"/>
<path d="M284.92 162.49L287.01 158.78L282.83 158.78Z" stroke="none" stroke-width="0" fill="#111"/>
<path d="M298.85 162.49L300.94 158.78L296.76 158.78Z" stroke="none" stroke-width="0" fill="#111"/>
<path d="M311.57 162.49L313.66 158.78L309.48 158.78Z" stroke="none" stroke-width="0" fill="#111"/>
<rect x="216.85" y="57.15" width="4.1" height="4.1" fill="#fff" stroke="#222" stroke-width="0.95"/>
<rect x="229.57" y="56.14" width="4.1" height="4.1" fill="#fff" stroke="#222" stroke-width="0.95"/>
<rect x="243.5" y="57.15" width="4.1" height="4.1" fill="#fff" stroke="#222" stroke-width="0.95"/>
<rect x="256.22" y="55.13" width="4.1" height="4.1" fill="#fff" stroke="#222" stroke-width="0.95"/>
<rect x="270.15" y="60.18" width="4.1" height="4.1" fill="#fff" stroke="#222" stroke-width="0.95"/>
<line x1="284.92" y1="80.43" x2="284.92" y2="88.52" stroke="#222" stroke-width="0.85"/>
<line x1="283.12" y1="80.43" x2="286.72" y2="80.43" stroke="#222" stroke-width="0.85"/>
<line x1="283.12" y1="88.52" x2="286.72" y2="88.52" stroke="#222" stroke-width="0.85"/>
<rect x="282.87" y="82.43" width="4.1" height="4.1" fill="#fff" stroke="#222" stroke-width="0.95"/>
<line x1="298.85" y1="153.22" x2="298.85" y2="157.27" stroke="#222" stroke-width="0.85"/>
<line x1="297.05" y1="153.22" x2="300.65" y2="153.22" stroke="#222" stroke-width="0.85"/>
<line x1="297.05" y1="157.27" x2="300.65" y2="157.27" stroke="#222" stroke-width="0.85"/>
<rect x="296.8" y="153.19" width="4.1" height="4.1" fill="#fff" stroke="#222" stroke-width="0.95"/>
<rect x="309.52" y="158.25" width="4.1" height="4.1" fill="#fff" stroke="#222" stroke-width="0.95"/>
<line x1="199.6" y1="57.18" x2="199.6" y2="61.22" stroke="#333" stroke-width="0.85"/>
<line x1="197.8" y1="57.18" x2="201.4" y2="57.18" stroke="#333" stroke-width="0.85"/>
<line x1="197.8" y1="61.22" x2="201.4" y2="61.22" stroke="#333" stroke-width="0.85"/>
<rect x="198" y="57.6" width="3.2" height="3.2" fill="#333" stroke="none" stroke-width="0"/>
<line x1="278.7" y1="27.2" x2="287.3" y2="27.2" stroke="#444" stroke-width="0.9"/>
<rect x="281.35" y="25.55" width="3.3" height="3.3" fill="#444" stroke="none" stroke-width="0"/>
<text x="290.9" y="29.65" font-size="6.8" font-weight="bold" stroke="#444" stroke-width="0.3" fill="#444">WT</text>
<line x1="278.7" y1="37.5" x2="287.3" y2="37.5" stroke="#222" stroke-width="0.9"/>
<path d="M283 39.4L284.81 36.18L281.19 36.18Z" stroke="none" stroke-width="0" fill="#222"/>
<text x="290.9" y="39.95" font-size="6.8" font-weight="bold" stroke="#2a2a2a" stroke-width="0.3" fill="#2a2a2a">I1171T</text>
<line x1="278.7" y1="47.6" x2="287.3" y2="47.6" stroke="#888" stroke-width="0.9"/>
<path d="M283 45.7L284.81 48.92L281.19 48.92Z" stroke="none" stroke-width="0" fill="#888"/>
<text x="290.9" y="50.05" font-size="6.8" font-weight="bold" stroke="#888" stroke-width="0.3" fill="#888">V1180L</text>
<line x1="278.7" y1="58" x2="287.3" y2="58" stroke="#222" stroke-width="0.9" stroke-dasharray="1.5,1"/>
<rect x="281.35" y="56.35" width="3.3" height="3.3" fill="#fff" stroke="#222" stroke-width="0.95"/>
<text x="290.9" y="60.45" font-size="6.8" font-weight="bold" stroke="#111" stroke-width="0.3" fill="#111">Ba/F3 (+ IL3)</text>
<text x="419.4" y="20.25" font-size="7.45" font-weight="bold" stroke="#111" stroke-width="0.3" text-anchor="middle" fill="#111">Ceritinib (LDK378, Ba/F3)</text>
<line x1="361.6" y1="34" x2="361.6" y2="164" stroke="#222" stroke-width="1"/>
<line x1="359.6" y1="162.1" x2="361.6" y2="162.1" stroke="#222" stroke-width="0.8"/>
<text x="359.8" y="164.26" font-size="6" font-weight="bold" stroke="#222" stroke-width="0.3" text-anchor="end" fill="#222">0</text>
<line x1="359.6" y1="108.8" x2="361.6" y2="108.8" stroke="#222" stroke-width="0.8"/>
<text x="359.8" y="110.96" font-size="6" font-weight="bold" stroke="#222" stroke-width="0.3" text-anchor="end" fill="#222">50</text>
<line x1="359.6" y1="55.5" x2="361.6" y2="55.5" stroke="#222" stroke-width="0.8"/>
<text x="359.8" y="57.66" font-size="6" font-weight="bold" stroke="#222" stroke-width="0.3" text-anchor="end" fill="#222">100</text>
<line x1="361.6" y1="162.1" x2="366.6" y2="162.1" stroke="#222" stroke-width="1"/>
<line x1="366.6" y1="160.8" x2="366.6" y2="163.4" stroke="#222" stroke-width="0.7"/>
<line x1="373.2" y1="162.1" x2="477.5" y2="162.1" stroke="#222" stroke-width="1"/>
<line x1="373.2" y1="160.8" x2="373.2" y2="163.4" stroke="#222" stroke-width="0.7"/>
<line x1="361.6" y1="162.1" x2="361.6" y2="163.7" stroke="#222" stroke-width="0.8"/>
<text x="361.6" y="171.26" font-size="6" font-weight="bold" stroke="#222" stroke-width="0.3" text-anchor="middle" fill="#222">0</text>
<line x1="385.75" y1="162.1" x2="385.75" y2="164.1" stroke="#222" stroke-width="0.9"/>
<text x="385.75" y="171.26" font-size="6" font-weight="bold" stroke="#222" stroke-width="0.3" text-anchor="middle" fill="#222">0.1</text>
<line x1="403.3" y1="162.1" x2="403.3" y2="164.1" stroke="#222" stroke-width="0.9"/>
<text x="403.3" y="171.26" font-size="6" font-weight="bold" stroke="#222" stroke-width="0.3" text-anchor="middle" fill="#222">1</text>
<line x1="420.85" y1="162.1" x2="420.85" y2="164.1" stroke="#222" stroke-width="0.9"/>
<text x="420.85" y="171.26" font-size="6" font-weight="bold" stroke="#222" stroke-width="0.3" text-anchor="middle" fill="#222">10</text>
<line x1="438.4" y1="162.1" x2="438.4" y2="164.1" stroke="#222" stroke-width="0.9"/>
<text x="438.4" y="171.26" font-size="6" font-weight="bold" stroke="#222" stroke-width="0.3" text-anchor="middle" fill="#222">100</text>
<line x1="455.95" y1="162.1" x2="455.95" y2="164.1" stroke="#222" stroke-width="0.9"/>
<text x="455.95" y="171.26" font-size="6" font-weight="bold" stroke="#222" stroke-width="0.3" text-anchor="middle" fill="#222">1,000</text>
<line x1="473.5" y1="162.1" x2="473.5" y2="164.1" stroke="#222" stroke-width="0.9"/>
<text x="473.5" y="171.26" font-size="6" font-weight="bold" stroke="#222" stroke-width="0.3" text-anchor="middle" fill="#222">10,000</text>
<line x1="373.48" y1="162.1" x2="373.48" y2="163" stroke="#222" stroke-width="0.4"/>
<line x1="376.57" y1="162.1" x2="376.57" y2="163" stroke="#222" stroke-width="0.4"/>
<line x1="378.77" y1="162.1" x2="378.77" y2="163" stroke="#222" stroke-width="0.4"/>
<line x1="380.47" y1="162.1" x2="380.47" y2="163" stroke="#222" stroke-width="0.4"/>
<line x1="381.86" y1="162.1" x2="381.86" y2="163" stroke="#222" stroke-width="0.4"/>
<line x1="383.03" y1="162.1" x2="383.03" y2="163" stroke="#222" stroke-width="0.4"/>
<line x1="384.05" y1="162.1" x2="384.05" y2="163" stroke="#222" stroke-width="0.4"/>
<line x1="384.95" y1="162.1" x2="384.95" y2="163" stroke="#222" stroke-width="0.4"/>
<line x1="391.03" y1="162.1" x2="391.03" y2="163" stroke="#222" stroke-width="0.4"/>
<line x1="394.12" y1="162.1" x2="394.12" y2="163" stroke="#222" stroke-width="0.4"/>
<line x1="396.32" y1="162.1" x2="396.32" y2="163" stroke="#222" stroke-width="0.4"/>
<line x1="398.02" y1="162.1" x2="398.02" y2="163" stroke="#222" stroke-width="0.4"/>
<line x1="399.41" y1="162.1" x2="399.41" y2="163" stroke="#222" stroke-width="0.4"/>
<line x1="400.58" y1="162.1" x2="400.58" y2="163" stroke="#222" stroke-width="0.4"/>
<line x1="401.6" y1="162.1" x2="401.6" y2="163" stroke="#222" stroke-width="0.4"/>
<line x1="402.5" y1="162.1" x2="402.5" y2="163" stroke="#222" stroke-width="0.4"/>
<line x1="408.58" y1="162.1" x2="408.58" y2="163" stroke="#222" stroke-width="0.4"/>
<line x1="411.67" y1="162.1" x2="411.67" y2="163" stroke="#222" stroke-width="0.4"/>
<line x1="413.87" y1="162.1" x2="413.87" y2="163" stroke="#222" stroke-width="0.4"/>
<line x1="415.57" y1="162.1" x2="415.57" y2="163" stroke="#222" stroke-width="0.4"/>
<line x1="416.96" y1="162.1" x2="416.96" y2="163" stroke="#222" stroke-width="0.4"/>
<line x1="418.13" y1="162.1" x2="418.13" y2="163" stroke="#222" stroke-width="0.4"/>
<line x1="419.15" y1="162.1" x2="419.15" y2="163" stroke="#222" stroke-width="0.4"/>
<line x1="420.05" y1="162.1" x2="420.05" y2="163" stroke="#222" stroke-width="0.4"/>
<line x1="426.13" y1="162.1" x2="426.13" y2="163" stroke="#222" stroke-width="0.4"/>
<line x1="429.22" y1="162.1" x2="429.22" y2="163" stroke="#222" stroke-width="0.4"/>
<line x1="431.42" y1="162.1" x2="431.42" y2="163" stroke="#222" stroke-width="0.4"/>
<line x1="433.12" y1="162.1" x2="433.12" y2="163" stroke="#222" stroke-width="0.4"/>
<line x1="434.51" y1="162.1" x2="434.51" y2="163" stroke="#222" stroke-width="0.4"/>
<line x1="435.68" y1="162.1" x2="435.68" y2="163" stroke="#222" stroke-width="0.4"/>
<line x1="436.7" y1="162.1" x2="436.7" y2="163" stroke="#222" stroke-width="0.4"/>
<line x1="437.6" y1="162.1" x2="437.6" y2="163" stroke="#222" stroke-width="0.4"/>
<line x1="443.68" y1="162.1" x2="443.68" y2="163" stroke="#222" stroke-width="0.4"/>
<line x1="446.77" y1="162.1" x2="446.77" y2="163" stroke="#222" stroke-width="0.4"/>
<line x1="448.97" y1="162.1" x2="448.97" y2="163" stroke="#222" stroke-width="0.4"/>
<line x1="450.67" y1="162.1" x2="450.67" y2="163" stroke="#222" stroke-width="0.4"/>
<line x1="452.06" y1="162.1" x2="452.06" y2="163" stroke="#222" stroke-width="0.4"/>
<line x1="453.23" y1="162.1" x2="453.23" y2="163" stroke="#222" stroke-width="0.4"/>
<line x1="454.25" y1="162.1" x2="454.25" y2="163" stroke="#222" stroke-width="0.4"/>
<line x1="455.15" y1="162.1" x2="455.15" y2="163" stroke="#222" stroke-width="0.4"/>
<line x1="461.23" y1="162.1" x2="461.23" y2="163" stroke="#222" stroke-width="0.4"/>
<line x1="464.32" y1="162.1" x2="464.32" y2="163" stroke="#222" stroke-width="0.4"/>
<line x1="466.52" y1="162.1" x2="466.52" y2="163" stroke="#222" stroke-width="0.4"/>
<line x1="468.22" y1="162.1" x2="468.22" y2="163" stroke="#222" stroke-width="0.4"/>
<line x1="469.61" y1="162.1" x2="469.61" y2="163" stroke="#222" stroke-width="0.4"/>
<line x1="470.78" y1="162.1" x2="470.78" y2="163" stroke="#222" stroke-width="0.4"/>
<line x1="471.8" y1="162.1" x2="471.8" y2="163" stroke="#222" stroke-width="0.4"/>
<line x1="472.7" y1="162.1" x2="472.7" y2="163" stroke="#222" stroke-width="0.4"/>
<text x="346" y="98.65" font-size="7.1" font-weight="bold" stroke="#111" stroke-width="0.3" text-anchor="middle" fill="#111" transform="rotate(-90 346 98.65)">Relative cell viability (% of control)</text>
<text x="422.3" y="180" font-size="7.05" font-weight="bold" stroke="#111" stroke-width="0.3" text-anchor="middle" fill="#111">Concentration of ceritinib (nmol/L)</text>
<path d="M373.4 63.03 L374.68 63.05 L375.96 63.08 L377.25 63.11 L378.53 63.15 L379.81 63.21 L381.09 63.28 L382.38 63.37 L383.66 63.48 L384.94 63.63 L386.22 63.83 L387.51 64.07 L388.79 64.38 L390.07 64.78 L391.35 65.3 L392.64 65.95 L393.92 66.77 L395.2 67.81 L396.48 69.11 L397.77 70.74 L399.05 72.75 L400.33 75.22 L401.62 78.2 L402.9 81.74 L404.18 85.89 L405.46 90.63 L406.75 95.94 L408.03 101.7 L409.31 107.8 L410.59 114.04 L411.88 120.23 L413.16 126.19 L414.44 131.74 L415.72 136.79 L417 141.25 L418.29 145.1 L419.57 148.37 L420.85 151.09 L422.13 153.33 L423.42 155.15 L424.7 156.61 L425.98 157.78 L427.26 158.71 L428.55 159.45 L429.83 160.03 L431.11 160.48 L432.39 160.84 L433.68 161.12 L434.96 161.33 L436.24 161.5 L437.52 161.64 L438.81 161.74 L440.09 161.82 L441.37 161.88 L442.65 161.93 L443.94 161.97 L445.22 162 L446.5 162.02 L447.78 162.04 L449.07 162.05 L450.35 162.06 L451.63 162.07 L452.91 162.08 L454.2 162.08 L455.48 162.09 L456.76 162.09 L458.04 162.09 L459.33 162.09 L460.61 162.1 L461.89 162.1 L463.18 162.1 L464.46 162.1 L465.74 162.1 L467.02 162.1 L468.31 162.1 L469.59 162.1 L470.87 162.1 L472.15 162.1 L473.44 162.1 L474.72 162.1 L476 162.1" stroke="#444" stroke-width="1" fill="none" stroke-linejoin="round"/>
<path d="M373.4 62.97 L374.68 62.98 L375.96 62.98 L377.25 62.99 L378.53 63 L379.81 63.01 L381.09 63.02 L382.38 63.04 L383.66 63.07 L384.94 63.1 L386.22 63.14 L387.51 63.2 L388.79 63.27 L390.07 63.36 L391.35 63.49 L392.64 63.65 L393.92 63.86 L395.2 64.13 L396.48 64.49 L397.77 64.95 L399.05 65.55 L400.33 66.32 L401.62 67.31 L402.9 68.58 L404.18 70.19 L405.46 72.21 L406.75 74.73 L408.03 77.83 L409.31 81.56 L410.59 85.97 L411.88 91.06 L413.16 96.78 L414.44 103.01 L415.72 109.56 L417 116.23 L418.29 122.76 L419.57 128.94 L420.85 134.59 L422.13 139.61 L423.42 143.95 L424.7 147.61 L425.98 150.63 L427.26 153.09 L428.55 155.07 L429.83 156.64 L431.11 157.87 L432.39 158.84 L433.68 159.59 L434.96 160.17 L436.24 160.62 L437.52 160.96 L438.81 161.23 L440.09 161.43 L441.37 161.59 L442.65 161.71 L443.94 161.8 L445.22 161.87 L446.5 161.93 L447.78 161.97 L449.07 162 L450.35 162.02 L451.63 162.04 L452.91 162.05 L454.2 162.07 L455.48 162.07 L456.76 162.08 L458.04 162.08 L459.33 162.09 L460.61 162.09 L461.89 162.09 L463.18 162.09 L464.46 162.1 L465.74 162.1 L467.02 162.1 L468.31 162.1 L469.59 162.1 L470.87 162.1 L472.15 162.1 L473.44 162.1 L474.72 162.1 L476 162.1" stroke="#111" stroke-width="1" fill="none" stroke-linejoin="round"/>
<path d="M373.4 76.59 L374.68 78.59 L375.96 80.81 L377.25 83.24 L378.53 85.9 L379.81 88.77 L381.09 91.85 L382.38 95.12 L383.66 98.57 L384.94 102.15 L386.22 105.85 L387.51 109.61 L388.79 113.4 L390.07 117.18 L391.35 120.9 L392.64 124.51 L393.92 128 L395.2 131.32 L396.48 134.45 L397.77 137.38 L399.05 140.09 L400.33 142.58 L401.62 144.85 L402.9 146.91 L404.18 148.76 L405.46 150.41 L406.75 151.89 L408.03 153.2 L409.31 154.35 L410.59 155.37 L411.88 156.26 L413.16 157.04 L414.44 157.72 L415.72 158.31 L417 158.83 L418.29 159.27 L419.57 159.66 L420.85 160 L422.13 160.29 L423.42 160.54 L424.7 160.75 L425.98 160.94 L427.26 161.1 L428.55 161.24 L429.83 161.36 L431.11 161.46 L432.39 161.55 L433.68 161.63 L434.96 161.7 L436.24 161.75 L437.52 161.8 L438.81 161.84 L440.09 161.88 L441.37 161.91 L442.65 161.94 L443.94 161.96 L445.22 161.98 L446.5 162 L447.78 162.01 L449.07 162.02 L450.35 162.03 L451.63 162.04 L452.91 162.05 L454.2 162.06 L455.48 162.06 L456.76 162.07 L458.04 162.07 L459.33 162.08 L460.61 162.08 L461.89 162.08 L463.18 162.09 L464.46 162.09 L465.74 162.09 L467.02 162.09 L468.31 162.09 L469.59 162.09 L470.87 162.09 L472.15 162.09 L473.44 162.1 L474.72 162.1 L476 162.1" stroke="#777" stroke-width="1" fill="none" stroke-linejoin="round"/>
<path d="M361.8 57.63 L363.23 57.63 L364.66 57.63 L366.08 57.63 L367.51 57.63 L368.94 57.63 L370.37 57.63 L371.79 57.63 L373.22 57.63 L374.65 57.63 L376.07 57.63 L377.5 57.63 L378.93 57.63 L380.36 57.63 L381.79 57.63 L383.21 57.63 L384.64 57.63 L386.07 57.63 L387.5 57.63 L388.92 57.63 L390.35 57.63 L391.78 57.63 L393.2 57.63 L394.63 57.63 L396.06 57.63 L397.49 57.63 L398.92 57.63 L400.34 57.63 L401.77 57.63 L403.2 57.63 L404.62 57.63 L406.05 57.63 L407.48 57.63 L408.91 57.63 L410.34 57.63 L411.76 57.63 L413.19 57.63 L414.62 57.63 L416.05 57.63 L417.47 57.63 L418.9 57.63 L420.33 57.63 L421.75 57.63 L423.18 57.63 L424.61 57.63 L426.04 57.63 L427.47 57.63 L428.89 57.63 L430.32 57.63 L431.75 57.64 L433.18 57.64 L434.6 57.65 L436.03 57.67 L437.46 57.73 L438.88 57.85 L440.31 58.14 L441.74 58.8 L443.17 60.3 L444.6 63.62 L446.02 70.56 L447.45 83.44 L448.88 102.81 L450.31 124.38 L451.73 141.66 L453.16 152.2 L454.59 157.59 L456.01 160.11 L457.44 161.23 L458.87 161.73 L460.3 161.94 L461.73 162.03 L463.15 162.07 L464.58 162.09 L466.01 162.09 L467.44 162.1 L468.86 162.1 L470.29 162.1 L471.72 162.1 L473.14 162.1 L474.57 162.1 L476 162.1" stroke="#222" stroke-width="1.15" fill="none" stroke-dasharray="2.6,1.4" stroke-linejoin="round"/>
<line x1="361.6" y1="55.5" x2="366.4" y2="60" stroke="#444" stroke-width="0.7"/>
<line x1="361.6" y1="55.5" x2="366.4" y2="64" stroke="#888" stroke-width="0.7"/>
<line x1="376.57" y1="61.9" x2="376.57" y2="72.56" stroke="#444" stroke-width="0.85"/>
<line x1="374.77" y1="61.9" x2="378.37" y2="61.9" stroke="#444" stroke-width="0.85"/>
<line x1="374.77" y1="72.56" x2="378.37" y2="72.56" stroke="#444" stroke-width="0.85"/>
<rect x="374.87" y="65.53" width="3.4" height="3.4" fill="#444" stroke="none" stroke-width="0"/>
<line x1="385.75" y1="61.9" x2="385.75" y2="70.42" stroke="#444" stroke-width="0.85"/>
<line x1="383.95" y1="61.9" x2="387.55" y2="61.9" stroke="#444" stroke-width="0.85"/>
<line x1="383.95" y1="70.42" x2="387.55" y2="70.42" stroke="#444" stroke-width="0.85"/>
<rect x="384.05" y="64.46" width="3.4" height="3.4" fill="#444" stroke="none" stroke-width="0"/>
<line x1="394.12" y1="70.42" x2="394.12" y2="76.82" stroke="#444" stroke-width="0.85"/>
<line x1="392.32" y1="70.42" x2="395.92" y2="70.42" stroke="#444" stroke-width="0.85"/>
<line x1="392.32" y1="76.82" x2="395.92" y2="76.82" stroke="#444" stroke-width="0.85"/>
<rect x="392.42" y="71.92" width="3.4" height="3.4" fill="#444" stroke="none" stroke-width="0"/>
<line x1="403.3" y1="82.15" x2="403.3" y2="88.55" stroke="#444" stroke-width="0.85"/>
<line x1="401.5" y1="82.15" x2="405.1" y2="82.15" stroke="#444" stroke-width="0.85"/>
<line x1="401.5" y1="88.55" x2="405.1" y2="88.55" stroke="#444" stroke-width="0.85"/>
<rect x="401.6" y="83.65" width="3.4" height="3.4" fill="#444" stroke="none" stroke-width="0"/>
<line x1="411.67" y1="116.79" x2="411.67" y2="121.06" stroke="#444" stroke-width="0.85"/>
<line x1="409.87" y1="116.79" x2="413.47" y2="116.79" stroke="#444" stroke-width="0.85"/>
<line x1="409.87" y1="121.06" x2="413.47" y2="121.06" stroke="#444" stroke-width="0.85"/>
<rect x="409.97" y="117.23" width="3.4" height="3.4" fill="#444" stroke="none" stroke-width="0"/>
<line x1="420.85" y1="145.58" x2="420.85" y2="149.84" stroke="#444" stroke-width="0.85"/>
<line x1="419.05" y1="145.58" x2="422.65" y2="145.58" stroke="#444" stroke-width="0.85"/>
<line x1="419.05" y1="149.84" x2="422.65" y2="149.84" stroke="#444" stroke-width="0.85"/>
<rect x="419.15" y="146.01" width="3.4" height="3.4" fill="#444" stroke="none" stroke-width="0"/>
<rect x="427.52" y="159.33" width="3.4" height="3.4" fill="#444" stroke="none" stroke-width="0"/>
<rect x="436.7" y="160.4" width="3.4" height="3.4" fill="#444" stroke="none" stroke-width="0"/>
<line x1="376.57" y1="62.96" x2="376.57" y2="69.36" stroke="#111" stroke-width="0.85"/>
<line x1="374.77" y1="62.96" x2="378.37" y2="62.96" stroke="#111" stroke-width="0.85"/>
<line x1="374.77" y1="69.36" x2="378.37" y2="69.36" stroke="#111" stroke-width="0.85"/>
<path d="M376.57 68.17L378.5 64.76L374.65 64.76Z" stroke="none" stroke-width="0" fill="#111"/>
<line x1="385.75" y1="61.9" x2="385.75" y2="68.29" stroke="#111" stroke-width="0.85"/>
<line x1="383.95" y1="61.9" x2="387.55" y2="61.9" stroke="#111" stroke-width="0.85"/>
<line x1="383.95" y1="68.29" x2="387.55" y2="68.29" stroke="#111" stroke-width="0.85"/>
<path d="M385.75 67.11L387.68 63.69L383.82 63.69Z" stroke="none" stroke-width="0" fill="#111"/>
<line x1="394.12" y1="67.23" x2="394.12" y2="73.62" stroke="#111" stroke-width="0.85"/>
<line x1="392.32" y1="67.23" x2="395.92" y2="67.23" stroke="#111" stroke-width="0.85"/>
<line x1="392.32" y1="73.62" x2="395.92" y2="73.62" stroke="#111" stroke-width="0.85"/>
<path d="M394.12 72.44L396.05 69.02L392.2 69.02Z" stroke="none" stroke-width="0" fill="#111"/>
<line x1="403.3" y1="76.82" x2="403.3" y2="83.22" stroke="#111" stroke-width="0.85"/>
<line x1="401.5" y1="76.82" x2="405.1" y2="76.82" stroke="#111" stroke-width="0.85"/>
<line x1="401.5" y1="83.22" x2="405.1" y2="83.22" stroke="#111" stroke-width="0.85"/>
<path d="M403.3 82.03L405.23 78.62L401.38 78.62Z" stroke="none" stroke-width="0" fill="#111"/>
<line x1="411.67" y1="89.08" x2="411.67" y2="95.47" stroke="#111" stroke-width="0.85"/>
<line x1="409.87" y1="89.08" x2="413.47" y2="89.08" stroke="#111" stroke-width="0.85"/>
<line x1="409.87" y1="95.47" x2="413.47" y2="95.47" stroke="#111" stroke-width="0.85"/>
<path d="M411.67 94.29L413.6 90.88L409.75 90.88Z" stroke="none" stroke-width="0" fill="#111"/>
<line x1="420.85" y1="120.53" x2="420.85" y2="129.05" stroke="#111" stroke-width="0.85"/>
<line x1="419.05" y1="120.53" x2="422.65" y2="120.53" stroke="#111" stroke-width="0.85"/>
<line x1="419.05" y1="129.05" x2="422.65" y2="129.05" stroke="#111" stroke-width="0.85"/>
<path d="M420.85 126.8L422.78 123.39L418.93 123.39Z" stroke="none" stroke-width="0" fill="#111"/>
<line x1="429.22" y1="157.84" x2="429.22" y2="159.97" stroke="#111" stroke-width="0.85"/>
<line x1="427.42" y1="157.84" x2="431.02" y2="157.84" stroke="#111" stroke-width="0.85"/>
<line x1="427.42" y1="159.97" x2="431.02" y2="159.97" stroke="#111" stroke-width="0.85"/>
<path d="M429.22 160.91L431.15 157.5L427.3 157.5Z" stroke="none" stroke-width="0" fill="#111"/>
<path d="M438.4 164.11L440.33 160.7L436.48 160.7Z" stroke="none" stroke-width="0" fill="#111"/>
<line x1="376.57" y1="80.02" x2="376.57" y2="84.28" stroke="#777" stroke-width="0.85"/>
<line x1="374.77" y1="80.02" x2="378.37" y2="80.02" stroke="#777" stroke-width="0.85"/>
<line x1="374.77" y1="84.28" x2="378.37" y2="84.28" stroke="#777" stroke-width="0.85"/>
<path d="M376.57 80.88L377.78 83.03L375.36 83.03Z" stroke="none" stroke-width="0" fill="#777"/>
<line x1="385.75" y1="103.47" x2="385.75" y2="105.6" stroke="#777" stroke-width="0.85"/>
<line x1="383.95" y1="103.47" x2="387.55" y2="103.47" stroke="#777" stroke-width="0.85"/>
<line x1="383.95" y1="105.6" x2="387.55" y2="105.6" stroke="#777" stroke-width="0.85"/>
<path d="M385.75 103.27L386.96 105.42L384.54 105.42Z" stroke="none" stroke-width="0" fill="#777"/>
<line x1="394.12" y1="121.59" x2="394.12" y2="127.99" stroke="#777" stroke-width="0.85"/>
<line x1="392.32" y1="121.59" x2="395.92" y2="121.59" stroke="#777" stroke-width="0.85"/>
<line x1="392.32" y1="127.99" x2="395.92" y2="127.99" stroke="#777" stroke-width="0.85"/>
<path d="M394.12 123.52L395.33 125.67L392.91 125.67Z" stroke="none" stroke-width="0" fill="#777"/>
<line x1="403.3" y1="138.65" x2="403.3" y2="145.04" stroke="#777" stroke-width="0.85"/>
<line x1="401.5" y1="138.65" x2="405.1" y2="138.65" stroke="#777" stroke-width="0.85"/>
<line x1="401.5" y1="145.04" x2="405.1" y2="145.04" stroke="#777" stroke-width="0.85"/>
<path d="M403.3 140.58L404.51 142.73L402.09 142.73Z" stroke="none" stroke-width="0" fill="#777"/>
<path d="M411.67 156.04L412.88 158.18L410.46 158.18Z" stroke="none" stroke-width="0" fill="#777"/>
<line x1="394.12" y1="60.83" x2="394.12" y2="65.09" stroke="#222" stroke-width="0.85"/>
<line x1="392.32" y1="60.83" x2="395.92" y2="60.83" stroke="#222" stroke-width="0.85"/>
<line x1="392.32" y1="65.09" x2="395.92" y2="65.09" stroke="#222" stroke-width="0.85"/>
<rect x="392.12" y="60.96" width="4" height="4" fill="#fff" stroke="#222" stroke-width="0.95"/>
<line x1="403.3" y1="52.3" x2="403.3" y2="58.7" stroke="#222" stroke-width="0.85"/>
<line x1="401.5" y1="52.3" x2="405.1" y2="52.3" stroke="#222" stroke-width="0.85"/>
<line x1="401.5" y1="58.7" x2="405.1" y2="58.7" stroke="#222" stroke-width="0.85"/>
<rect x="401.3" y="53.5" width="4" height="4" fill="#fff" stroke="#222" stroke-width="0.95"/>
<line x1="411.67" y1="52.3" x2="411.67" y2="56.57" stroke="#222" stroke-width="0.85"/>
<line x1="409.87" y1="52.3" x2="413.47" y2="52.3" stroke="#222" stroke-width="0.85"/>
<line x1="409.87" y1="56.57" x2="413.47" y2="56.57" stroke="#222" stroke-width="0.85"/>
<rect x="409.67" y="52.43" width="4" height="4" fill="#fff" stroke="#222" stroke-width="0.95"/>
<line x1="420.85" y1="50.17" x2="420.85" y2="56.57" stroke="#222" stroke-width="0.85"/>
<line x1="419.05" y1="50.17" x2="422.65" y2="50.17" stroke="#222" stroke-width="0.85"/>
<line x1="419.05" y1="56.57" x2="422.65" y2="56.57" stroke="#222" stroke-width="0.85"/>
<rect x="418.85" y="51.37" width="4" height="4" fill="#fff" stroke="#222" stroke-width="0.95"/>
<line x1="429.22" y1="56.57" x2="429.22" y2="62.96" stroke="#222" stroke-width="0.85"/>
<line x1="427.42" y1="56.57" x2="431.02" y2="56.57" stroke="#222" stroke-width="0.85"/>
<line x1="427.42" y1="62.96" x2="431.02" y2="62.96" stroke="#222" stroke-width="0.85"/>
<rect x="427.22" y="57.76" width="4" height="4" fill="#fff" stroke="#222" stroke-width="0.95"/>
<line x1="438.4" y1="60.83" x2="438.4" y2="65.09" stroke="#222" stroke-width="0.85"/>
<line x1="436.6" y1="60.83" x2="440.2" y2="60.83" stroke="#222" stroke-width="0.85"/>
<line x1="436.6" y1="65.09" x2="440.2" y2="65.09" stroke="#222" stroke-width="0.85"/>
<rect x="436.4" y="60.96" width="4" height="4" fill="#fff" stroke="#222" stroke-width="0.95"/>
<line x1="446.77" y1="76.82" x2="446.77" y2="81.08" stroke="#222" stroke-width="0.85"/>
<line x1="444.97" y1="76.82" x2="448.57" y2="76.82" stroke="#222" stroke-width="0.85"/>
<line x1="444.97" y1="81.08" x2="448.57" y2="81.08" stroke="#222" stroke-width="0.85"/>
<rect x="444.77" y="76.95" width="4" height="4" fill="#fff" stroke="#222" stroke-width="0.95"/>
<line x1="455.95" y1="158.9" x2="455.95" y2="163.17" stroke="#222" stroke-width="0.85"/>
<line x1="454.15" y1="158.9" x2="457.75" y2="158.9" stroke="#222" stroke-width="0.85"/>
<line x1="454.15" y1="163.17" x2="457.75" y2="163.17" stroke="#222" stroke-width="0.85"/>
<rect x="453.95" y="159.03" width="4" height="4" fill="#fff" stroke="#222" stroke-width="0.95"/>
<rect x="462.32" y="160.1" width="4" height="4" fill="#fff" stroke="#222" stroke-width="0.95"/>
<rect x="471.5" y="160.1" width="4" height="4" fill="#fff" stroke="#222" stroke-width="0.95"/>
<line x1="361.8" y1="52.3" x2="361.8" y2="58.7" stroke="#222" stroke-width="0.85"/>
<line x1="360" y1="52.3" x2="363.6" y2="52.3" stroke="#222" stroke-width="0.85"/>
<line x1="360" y1="58.7" x2="363.6" y2="58.7" stroke="#222" stroke-width="0.85"/>
<circle cx="361.8" cy="55.5" r="1.9" fill="#222"/>
<line x1="448.2" y1="32.2" x2="456.8" y2="32.2" stroke="#444" stroke-width="0.9"/>
<circle cx="452.5" cy="32.2" r="1.65" fill="#444"/>
<text x="461.4" y="34.65" font-size="6.8" font-weight="bold" stroke="#444" stroke-width="0.3" fill="#444">WT</text>
<line x1="448.2" y1="41.6" x2="456.8" y2="41.6" stroke="#222" stroke-width="0.9"/>
<path d="M452.5 43.5L454.31 40.28L450.69 40.28Z" stroke="none" stroke-width="0" fill="#222"/>
<text x="461.4" y="44.05" font-size="6.8" font-weight="bold" stroke="#2a2a2a" stroke-width="0.3" fill="#2a2a2a">I1171T</text>
<line x1="448.2" y1="51.4" x2="456.8" y2="51.4" stroke="#888" stroke-width="0.9"/>
<path d="M452.5 49.5L454.31 52.72L450.69 52.72Z" stroke="none" stroke-width="0" fill="#888"/>
<text x="461.4" y="53.85" font-size="6.8" font-weight="bold" stroke="#888" stroke-width="0.3" fill="#888">V1180L</text>
<line x1="448.2" y1="60.6" x2="456.8" y2="60.6" stroke="#222" stroke-width="0.9" stroke-dasharray="1.5,1"/>
<rect x="450.85" y="58.95" width="3.3" height="3.3" fill="#fff" stroke="#222" stroke-width="0.95"/>
<text x="461.4" y="63.05" font-size="6.8" font-weight="bold" stroke="#111" stroke-width="0.3" fill="#111">Ba/F3 (+ IL3)</text>
<text transform="translate(14.6 201.6) scale(0.86 1)" font-size="14.3" font-weight="bold" fill="#111" stroke="#111" stroke-width="0.2">B</text>
<text x="92.6" y="204.1" font-size="7.45" font-weight="bold" stroke="#111" stroke-width="0.3" text-anchor="middle" fill="#111">TAE684</text>
<line x1="38.5" y1="225.2" x2="38.5" y2="347.5" stroke="#222" stroke-width="1"/>
<line x1="36.5" y1="345.3" x2="38.5" y2="345.3" stroke="#222" stroke-width="0.8"/>
<text x="36.7" y="347.46" font-size="6" font-weight="bold" stroke="#222" stroke-width="0.3" text-anchor="end" fill="#222">0</text>
<line x1="36.5" y1="301.15" x2="38.5" y2="301.15" stroke="#222" stroke-width="0.8"/>
<text x="36.7" y="303.31" font-size="6" font-weight="bold" stroke="#222" stroke-width="0.3" text-anchor="end" fill="#222">50</text>
<line x1="36.5" y1="257" x2="38.5" y2="257" stroke="#222" stroke-width="0.8"/>
<text x="36.7" y="259.16" font-size="6" font-weight="bold" stroke="#222" stroke-width="0.3" text-anchor="end" fill="#222">100</text>
<line x1="38.5" y1="345.3" x2="45" y2="345.3" stroke="#222" stroke-width="1"/>
<line x1="45" y1="344" x2="45" y2="346.6" stroke="#222" stroke-width="0.7"/>
<line x1="50.2" y1="345.3" x2="161" y2="345.3" stroke="#222" stroke-width="1"/>
<line x1="50.2" y1="344" x2="50.2" y2="346.6" stroke="#222" stroke-width="0.7"/>
<line x1="38.5" y1="345.3" x2="38.5" y2="346.9" stroke="#222" stroke-width="0.8"/>
<text x="38.5" y="354.46" font-size="6" font-weight="bold" stroke="#222" stroke-width="0.3" text-anchor="middle" fill="#222">0</text>
<line x1="65.5" y1="345.3" x2="65.5" y2="347.3" stroke="#222" stroke-width="0.9"/>
<text x="65.5" y="354.46" font-size="6" font-weight="bold" stroke="#222" stroke-width="0.3" text-anchor="middle" fill="#222">1</text>
<line x1="87.9" y1="345.3" x2="87.9" y2="347.3" stroke="#222" stroke-width="0.9"/>
<text x="87.9" y="354.46" font-size="6" font-weight="bold" stroke="#222" stroke-width="0.3" text-anchor="middle" fill="#222">10</text>
<line x1="110.3" y1="345.3" x2="110.3" y2="347.3" stroke="#222" stroke-width="0.9"/>
<text x="110.3" y="354.46" font-size="6" font-weight="bold" stroke="#222" stroke-width="0.3" text-anchor="middle" fill="#222">100</text>
<line x1="132.7" y1="345.3" x2="132.7" y2="347.3" stroke="#222" stroke-width="0.9"/>
<text x="132.7" y="354.46" font-size="6" font-weight="bold" stroke="#222" stroke-width="0.3" text-anchor="middle" fill="#222">1,000</text>
<line x1="155.1" y1="345.3" x2="155.1" y2="347.3" stroke="#222" stroke-width="0.9"/>
<text x="155.1" y="354.46" font-size="6" font-weight="bold" stroke="#222" stroke-width="0.3" text-anchor="middle" fill="#222">10,000</text>
<line x1="53.79" y1="345.3" x2="53.79" y2="346.2" stroke="#222" stroke-width="0.4"/>
<line x1="56.59" y1="345.3" x2="56.59" y2="346.2" stroke="#222" stroke-width="0.4"/>
<line x1="58.76" y1="345.3" x2="58.76" y2="346.2" stroke="#222" stroke-width="0.4"/>
<line x1="60.53" y1="345.3" x2="60.53" y2="346.2" stroke="#222" stroke-width="0.4"/>
<line x1="62.03" y1="345.3" x2="62.03" y2="346.2" stroke="#222" stroke-width="0.4"/>
<line x1="63.33" y1="345.3" x2="63.33" y2="346.2" stroke="#222" stroke-width="0.4"/>
<line x1="64.48" y1="345.3" x2="64.48" y2="346.2" stroke="#222" stroke-width="0.4"/>
<line x1="72.24" y1="345.3" x2="72.24" y2="346.2" stroke="#222" stroke-width="0.4"/>
<line x1="76.19" y1="345.3" x2="76.19" y2="346.2" stroke="#222" stroke-width="0.4"/>
<line x1="78.99" y1="345.3" x2="78.99" y2="346.2" stroke="#222" stroke-width="0.4"/>
<line x1="81.16" y1="345.3" x2="81.16" y2="346.2" stroke="#222" stroke-width="0.4"/>
<line x1="82.93" y1="345.3" x2="82.93" y2="346.2" stroke="#222" stroke-width="0.4"/>
<line x1="84.43" y1="345.3" x2="84.43" y2="346.2" stroke="#222" stroke-width="0.4"/>
<line x1="85.73" y1="345.3" x2="85.73" y2="346.2" stroke="#222" stroke-width="0.4"/>
<line x1="86.88" y1="345.3" x2="86.88" y2="346.2" stroke="#222" stroke-width="0.4"/>
<line x1="94.64" y1="345.3" x2="94.64" y2="346.2" stroke="#222" stroke-width="0.4"/>
<line x1="98.59" y1="345.3" x2="98.59" y2="346.2" stroke="#222" stroke-width="0.4"/>
<line x1="101.39" y1="345.3" x2="101.39" y2="346.2" stroke="#222" stroke-width="0.4"/>
<line x1="103.56" y1="345.3" x2="103.56" y2="346.2" stroke="#222" stroke-width="0.4"/>
<line x1="105.33" y1="345.3" x2="105.33" y2="346.2" stroke="#222" stroke-width="0.4"/>
<line x1="106.83" y1="345.3" x2="106.83" y2="346.2" stroke="#222" stroke-width="0.4"/>
<line x1="108.13" y1="345.3" x2="108.13" y2="346.2" stroke="#222" stroke-width="0.4"/>
<line x1="109.28" y1="345.3" x2="109.28" y2="346.2" stroke="#222" stroke-width="0.4"/>
<line x1="117.04" y1="345.3" x2="117.04" y2="346.2" stroke="#222" stroke-width="0.4"/>
<line x1="120.99" y1="345.3" x2="120.99" y2="346.2" stroke="#222" stroke-width="0.4"/>
<line x1="123.79" y1="345.3" x2="123.79" y2="346.2" stroke="#222" stroke-width="0.4"/>
<line x1="125.96" y1="345.3" x2="125.96" y2="346.2" stroke="#222" stroke-width="0.4"/>
<line x1="127.73" y1="345.3" x2="127.73" y2="346.2" stroke="#222" stroke-width="0.4"/>
<line x1="129.23" y1="345.3" x2="129.23" y2="346.2" stroke="#222" stroke-width="0.4"/>
<line x1="130.53" y1="345.3" x2="130.53" y2="346.2" stroke="#222" stroke-width="0.4"/>
<line x1="131.68" y1="345.3" x2="131.68" y2="346.2" stroke="#222" stroke-width="0.4"/>
<line x1="139.44" y1="345.3" x2="139.44" y2="346.2" stroke="#222" stroke-width="0.4"/>
<line x1="143.39" y1="345.3" x2="143.39" y2="346.2" stroke="#222" stroke-width="0.4"/>
<line x1="146.19" y1="345.3" x2="146.19" y2="346.2" stroke="#222" stroke-width="0.4"/>
<line x1="148.36" y1="345.3" x2="148.36" y2="346.2" stroke="#222" stroke-width="0.4"/>
<line x1="150.13" y1="345.3" x2="150.13" y2="346.2" stroke="#222" stroke-width="0.4"/>
<line x1="151.63" y1="345.3" x2="151.63" y2="346.2" stroke="#222" stroke-width="0.4"/>
<line x1="152.93" y1="345.3" x2="152.93" y2="346.2" stroke="#222" stroke-width="0.4"/>
<line x1="154.08" y1="345.3" x2="154.08" y2="346.2" stroke="#222" stroke-width="0.4"/>
<text x="20" y="288.8" font-size="7.07" font-weight="bold" stroke="#111" stroke-width="0.3" text-anchor="middle" fill="#111" transform="rotate(-90 20 288.8)">Relative cell number (% of control)</text>
<text x="106.2" y="367.4" font-size="7.05" font-weight="bold" stroke="#111" stroke-width="0.3" text-anchor="middle" fill="#111">Concentration (nmol/L)</text>
<line x1="53.79" y1="244.64" x2="53.79" y2="272.89" stroke="#999" stroke-width="0.7"/>
<line x1="52.39" y1="244.64" x2="55.19" y2="244.64" stroke="#999" stroke-width="0.7"/>
<line x1="52.39" y1="272.89" x2="55.19" y2="272.89" stroke="#999" stroke-width="0.7"/>
<circle cx="53.79" cy="258.77" r="0.01" fill="#999"/>
<line x1="53.79" y1="241.11" x2="53.79" y2="279.96" stroke="#999" stroke-width="0.7"/>
<line x1="52.39" y1="241.11" x2="55.19" y2="241.11" stroke="#999" stroke-width="0.7"/>
<line x1="52.39" y1="279.96" x2="55.19" y2="279.96" stroke="#999" stroke-width="0.7"/>
<circle cx="53.79" cy="260.53" r="0.01" fill="#999"/>
<line x1="53.79" y1="247.29" x2="53.79" y2="266.71" stroke="#999" stroke-width="0.7"/>
<line x1="52.39" y1="247.29" x2="55.19" y2="247.29" stroke="#999" stroke-width="0.7"/>
<line x1="52.39" y1="266.71" x2="55.19" y2="266.71" stroke="#999" stroke-width="0.7"/>
<circle cx="53.79" cy="257" r="0.01" fill="#999"/>
<line x1="65.5" y1="244.64" x2="65.5" y2="272.89" stroke="#999" stroke-width="0.7"/>
<line x1="64.1" y1="244.64" x2="66.9" y2="244.64" stroke="#999" stroke-width="0.7"/>
<line x1="64.1" y1="272.89" x2="66.9" y2="272.89" stroke="#999" stroke-width="0.7"/>
<circle cx="65.5" cy="258.77" r="0.01" fill="#999"/>
<line x1="65.5" y1="241.11" x2="65.5" y2="279.96" stroke="#999" stroke-width="0.7"/>
<line x1="64.1" y1="241.11" x2="66.9" y2="241.11" stroke="#999" stroke-width="0.7"/>
<line x1="64.1" y1="279.96" x2="66.9" y2="279.96" stroke="#999" stroke-width="0.7"/>
<circle cx="65.5" cy="260.53" r="0.01" fill="#999"/>
<line x1="65.5" y1="247.29" x2="65.5" y2="266.71" stroke="#999" stroke-width="0.7"/>
<line x1="64.1" y1="247.29" x2="66.9" y2="247.29" stroke="#999" stroke-width="0.7"/>
<line x1="64.1" y1="266.71" x2="66.9" y2="266.71" stroke="#999" stroke-width="0.7"/>
<circle cx="65.5" cy="257" r="0.01" fill="#999"/>
<line x1="76.19" y1="244.64" x2="76.19" y2="272.89" stroke="#999" stroke-width="0.7"/>
<line x1="74.79" y1="244.64" x2="77.59" y2="244.64" stroke="#999" stroke-width="0.7"/>
<line x1="74.79" y1="272.89" x2="77.59" y2="272.89" stroke="#999" stroke-width="0.7"/>
<circle cx="76.19" cy="258.77" r="0.01" fill="#999"/>
<line x1="76.19" y1="241.11" x2="76.19" y2="279.96" stroke="#999" stroke-width="0.7"/>
<line x1="74.79" y1="241.11" x2="77.59" y2="241.11" stroke="#999" stroke-width="0.7"/>
<line x1="74.79" y1="279.96" x2="77.59" y2="279.96" stroke="#999" stroke-width="0.7"/>
<circle cx="76.19" cy="260.53" r="0.01" fill="#999"/>
<line x1="76.19" y1="247.29" x2="76.19" y2="266.71" stroke="#999" stroke-width="0.7"/>
<line x1="74.79" y1="247.29" x2="77.59" y2="247.29" stroke="#999" stroke-width="0.7"/>
<line x1="74.79" y1="266.71" x2="77.59" y2="266.71" stroke="#999" stroke-width="0.7"/>
<circle cx="76.19" cy="257" r="0.01" fill="#999"/>
<line x1="87.9" y1="244.64" x2="87.9" y2="272.89" stroke="#999" stroke-width="0.7"/>
<line x1="86.5" y1="244.64" x2="89.3" y2="244.64" stroke="#999" stroke-width="0.7"/>
<line x1="86.5" y1="272.89" x2="89.3" y2="272.89" stroke="#999" stroke-width="0.7"/>
<circle cx="87.9" cy="258.77" r="0.01" fill="#999"/>
<line x1="87.9" y1="241.11" x2="87.9" y2="279.96" stroke="#999" stroke-width="0.7"/>
<line x1="86.5" y1="241.11" x2="89.3" y2="241.11" stroke="#999" stroke-width="0.7"/>
<line x1="86.5" y1="279.96" x2="89.3" y2="279.96" stroke="#999" stroke-width="0.7"/>
<circle cx="87.9" cy="260.53" r="0.01" fill="#999"/>
<line x1="87.9" y1="247.29" x2="87.9" y2="266.71" stroke="#999" stroke-width="0.7"/>
<line x1="86.5" y1="247.29" x2="89.3" y2="247.29" stroke="#999" stroke-width="0.7"/>
<line x1="86.5" y1="266.71" x2="89.3" y2="266.71" stroke="#999" stroke-width="0.7"/>
<circle cx="87.9" cy="257" r="0.01" fill="#999"/>
<line x1="98.59" y1="244.64" x2="98.59" y2="272.89" stroke="#999" stroke-width="0.7"/>
<line x1="97.19" y1="244.64" x2="99.99" y2="244.64" stroke="#999" stroke-width="0.7"/>
<line x1="97.19" y1="272.89" x2="99.99" y2="272.89" stroke="#999" stroke-width="0.7"/>
<circle cx="98.59" cy="258.77" r="0.01" fill="#999"/>
<line x1="98.59" y1="241.11" x2="98.59" y2="279.96" stroke="#999" stroke-width="0.7"/>
<line x1="97.19" y1="241.11" x2="99.99" y2="241.11" stroke="#999" stroke-width="0.7"/>
<line x1="97.19" y1="279.96" x2="99.99" y2="279.96" stroke="#999" stroke-width="0.7"/>
<circle cx="98.59" cy="260.53" r="0.01" fill="#999"/>
<line x1="98.59" y1="247.29" x2="98.59" y2="266.71" stroke="#999" stroke-width="0.7"/>
<line x1="97.19" y1="247.29" x2="99.99" y2="247.29" stroke="#999" stroke-width="0.7"/>
<line x1="97.19" y1="266.71" x2="99.99" y2="266.71" stroke="#999" stroke-width="0.7"/>
<circle cx="98.59" cy="257" r="0.01" fill="#999"/>
<line x1="110.3" y1="244.64" x2="110.3" y2="272.89" stroke="#999" stroke-width="0.7"/>
<line x1="108.9" y1="244.64" x2="111.7" y2="244.64" stroke="#999" stroke-width="0.7"/>
<line x1="108.9" y1="272.89" x2="111.7" y2="272.89" stroke="#999" stroke-width="0.7"/>
<circle cx="110.3" cy="258.77" r="0.01" fill="#999"/>
<line x1="110.3" y1="241.11" x2="110.3" y2="279.96" stroke="#999" stroke-width="0.7"/>
<line x1="108.9" y1="241.11" x2="111.7" y2="241.11" stroke="#999" stroke-width="0.7"/>
<line x1="108.9" y1="279.96" x2="111.7" y2="279.96" stroke="#999" stroke-width="0.7"/>
<circle cx="110.3" cy="260.53" r="0.01" fill="#999"/>
<line x1="110.3" y1="247.29" x2="110.3" y2="266.71" stroke="#999" stroke-width="0.7"/>
<line x1="108.9" y1="247.29" x2="111.7" y2="247.29" stroke="#999" stroke-width="0.7"/>
<line x1="108.9" y1="266.71" x2="111.7" y2="266.71" stroke="#999" stroke-width="0.7"/>
<circle cx="110.3" cy="257" r="0.01" fill="#999"/>
<line x1="120.99" y1="244.64" x2="120.99" y2="272.89" stroke="#999" stroke-width="0.7"/>
<line x1="119.59" y1="244.64" x2="122.39" y2="244.64" stroke="#999" stroke-width="0.7"/>
<line x1="119.59" y1="272.89" x2="122.39" y2="272.89" stroke="#999" stroke-width="0.7"/>
<circle cx="120.99" cy="258.77" r="0.01" fill="#999"/>
<line x1="120.99" y1="241.11" x2="120.99" y2="279.96" stroke="#999" stroke-width="0.7"/>
<line x1="119.59" y1="241.11" x2="122.39" y2="241.11" stroke="#999" stroke-width="0.7"/>
<line x1="119.59" y1="279.96" x2="122.39" y2="279.96" stroke="#999" stroke-width="0.7"/>
<circle cx="120.99" cy="260.53" r="0.01" fill="#999"/>
<line x1="120.99" y1="247.29" x2="120.99" y2="266.71" stroke="#999" stroke-width="0.7"/>
<line x1="119.59" y1="247.29" x2="122.39" y2="247.29" stroke="#999" stroke-width="0.7"/>
<line x1="119.59" y1="266.71" x2="122.39" y2="266.71" stroke="#999" stroke-width="0.7"/>
<circle cx="120.99" cy="257" r="0.01" fill="#999"/>
<path d="M38.6 255.23 L40.07 255.23 L41.54 255.23 L43 255.23 L44.47 255.23 L45.94 255.23 L47.41 255.23 L48.87 255.23 L50.34 255.23 L51.81 255.23 L53.28 255.23 L54.74 255.23 L56.21 255.23 L57.68 255.23 L59.15 255.23 L60.61 255.23 L62.08 255.23 L63.55 255.23 L65.02 255.23 L66.48 255.23 L67.95 255.23 L69.42 255.23 L70.89 255.23 L72.35 255.23 L73.82 255.23 L75.29 255.23 L76.75 255.23 L78.22 255.23 L79.69 255.23 L81.16 255.23 L82.62 255.23 L84.09 255.23 L85.56 255.23 L87.03 255.23 L88.5 255.23 L89.96 255.23 L91.43 255.24 L92.9 255.24 L94.37 255.24 L95.83 255.24 L97.3 255.24 L98.77 255.24 L100.24 255.25 L101.7 255.25 L103.17 255.26 L104.64 255.27 L106.11 255.29 L107.57 255.32 L109.04 255.36 L110.51 255.42 L111.97 255.51 L113.44 255.64 L114.91 255.84 L116.38 256.12 L117.84 256.54 L119.31 257.16 L120.78 258.05 L122.25 259.34 L123.72 261.18 L125.18 263.77 L126.65 267.32 L128.12 272.04 L129.59 278.06 L131.05 285.36 L132.52 293.65 L133.99 302.43 L135.46 311.05 L136.92 318.91 L138.39 325.6 L139.86 330.97 L141.32 335.09 L142.79 338.14 L144.26 340.34 L145.73 341.89 L147.19 342.96 L148.66 343.71 L150.13 344.22 L151.6 344.57 L153.06 344.8 L154.53 344.96 L156 345.07" stroke="#333" stroke-width="0.9" fill="none" stroke-dasharray="2,1" stroke-linejoin="round"/>
<path d="M38.6 259.65 L40.07 259.65 L41.54 259.65 L43 259.65 L44.47 259.65 L45.94 259.65 L47.41 259.65 L48.87 259.65 L50.34 259.65 L51.81 259.65 L53.28 259.65 L54.74 259.65 L56.21 259.65 L57.68 259.65 L59.15 259.65 L60.61 259.65 L62.08 259.65 L63.55 259.65 L65.02 259.65 L66.48 259.65 L67.95 259.65 L69.42 259.65 L70.89 259.65 L72.35 259.65 L73.82 259.65 L75.29 259.65 L76.75 259.65 L78.22 259.65 L79.69 259.65 L81.16 259.65 L82.62 259.65 L84.09 259.65 L85.56 259.65 L87.03 259.65 L88.5 259.65 L89.96 259.65 L91.43 259.65 L92.9 259.65 L94.37 259.65 L95.83 259.65 L97.3 259.66 L98.77 259.66 L100.24 259.66 L101.7 259.67 L103.17 259.68 L104.64 259.7 L106.11 259.72 L107.57 259.75 L109.04 259.8 L110.51 259.88 L111.97 259.98 L113.44 260.14 L114.91 260.38 L116.38 260.73 L117.84 261.24 L119.31 261.98 L120.78 263.05 L122.25 264.59 L123.72 266.76 L125.18 269.78 L126.65 273.84 L128.12 279.1 L129.59 285.61 L131.05 293.2 L132.52 301.44 L133.99 309.77 L135.46 317.57 L136.92 324.36 L138.39 329.94 L139.86 334.28 L141.32 337.53 L142.79 339.89 L144.26 341.57 L145.73 342.74 L147.19 343.56 L148.66 344.11 L150.13 344.5 L151.6 344.75 L153.06 344.93 L154.53 345.05 L156 345.13" stroke="#444" stroke-width="0.9" fill="none" stroke-dasharray="2.2,1" stroke-linejoin="round"/>
<path d="M38.6 257 L40.07 257 L41.54 257 L43 257 L44.47 257 L45.94 257 L47.41 257 L48.87 257 L50.34 257 L51.81 257 L53.28 257 L54.74 257 L56.21 257 L57.68 257 L59.15 257 L60.61 257 L62.08 257 L63.55 257 L65.02 257 L66.48 257 L67.95 257 L69.42 257 L70.89 257 L72.35 257 L73.82 257 L75.29 257 L76.75 257 L78.22 257 L79.69 257 L81.16 257 L82.62 257 L84.09 257 L85.56 257 L87.03 257 L88.5 257 L89.96 257 L91.43 257 L92.9 257 L94.37 257 L95.83 257 L97.3 257 L98.77 257 L100.24 257 L101.7 257.01 L103.17 257.01 L104.64 257.01 L106.11 257.02 L107.57 257.03 L109.04 257.05 L110.51 257.07 L111.97 257.11 L113.44 257.17 L114.91 257.25 L116.38 257.38 L117.84 257.59 L119.31 257.89 L120.78 258.35 L122.25 259.04 L123.72 260.08 L125.18 261.61 L126.65 263.85 L128.12 267.04 L129.59 271.45 L131.05 277.3 L132.52 284.63 L133.99 293.2 L135.46 302.44 L136.92 311.56 L138.39 319.83 L139.86 326.77 L141.32 332.2 L142.79 336.25 L144.26 339.15 L145.73 341.17 L147.19 342.55 L148.66 343.48 L150.13 344.1 L151.6 344.51 L153.06 344.78 L154.53 344.96 L156 345.08" stroke="#444" stroke-width="0.9" fill="none" stroke-dasharray="1,1" stroke-linejoin="round"/>
<path d="M38.6 261.42 L40.07 261.42 L41.54 261.42 L43 261.42 L44.47 261.42 L45.94 261.42 L47.41 261.42 L48.87 261.42 L50.34 261.42 L51.81 261.42 L53.28 261.42 L54.74 261.42 L56.21 261.42 L57.68 261.42 L59.15 261.42 L60.61 261.42 L62.08 261.42 L63.55 261.42 L65.02 261.42 L66.48 261.42 L67.95 261.42 L69.42 261.42 L70.89 261.42 L72.35 261.42 L73.82 261.42 L75.29 261.42 L76.75 261.42 L78.22 261.42 L79.69 261.42 L81.16 261.42 L82.62 261.42 L84.09 261.42 L85.56 261.42 L87.03 261.42 L88.5 261.42 L89.96 261.42 L91.43 261.42 L92.9 261.42 L94.37 261.42 L95.83 261.42 L97.3 261.43 L98.77 261.43 L100.24 261.45 L101.7 261.47 L103.17 261.5 L104.64 261.55 L106.11 261.63 L107.57 261.76 L109.04 261.97 L110.51 262.32 L111.97 262.86 L113.44 263.74 L114.91 265.12 L116.38 267.25 L117.84 270.48 L119.31 275.18 L120.78 281.67 L122.25 289.96 L123.72 299.6 L125.18 309.67 L126.65 319.04 L128.12 326.89 L129.59 332.9 L131.05 337.19 L132.52 340.1 L133.99 342.01 L135.46 343.24 L136.92 344.02 L138.39 344.5 L139.86 344.81 L141.32 344.99 L142.79 345.11 L144.26 345.18 L145.73 345.23 L147.19 345.26 L148.66 345.27 L150.13 345.28 L151.6 345.29 L153.06 345.29 L154.53 345.3 L156 345.3" stroke="#555" stroke-width="0.9" fill="none" stroke-dasharray="1,1" stroke-linejoin="round"/>
<path d="M49.25 285 C50.08 288 52.54 298.25 54.25 303 C55.96 307.75 57.62 310.58 59.5 313.5 C61.38 316.42 63.58 318.53 65.5 320.5 C67.42 322.47 69.12 323.95 71 325.3 C72.88 326.65 73.92 327.38 76.75 328.6 C79.58 329.82 84.25 331.55 88 332.6 C91.75 333.65 95.5 334.33 99.25 334.9 C103 335.47 104.88 335.77 110.5 336 C116.12 336.23 125.42 336.25 133 336.3 C140.58 336.35 152.17 336.3 156 336.3" stroke="#222" stroke-width="1.35" fill="none" stroke-linejoin="round"/>
<path d="M48.5 274.5 C49.46 276.33 52.42 282.42 54.25 285.5 C56.08 288.58 57.62 290.67 59.5 293 C61.38 295.33 62.62 296.83 65.5 299.5 C68.38 302.17 73 306.21 76.75 309 C80.5 311.79 84.25 314 88 316.25 C91.75 318.5 95.5 320.71 99.25 322.5 C103 324.29 106.75 325.67 110.5 327 C114.25 328.33 118 329.53 121.75 330.5 C125.5 331.47 129.29 332.18 133 332.8 C136.71 333.42 140.17 333.83 144 334.2 C147.83 334.57 154 334.87 156 335" stroke="#333" stroke-width="1.35" fill="none" stroke-linejoin="round"/>
<line x1="38.5" y1="265" x2="43.8" y2="279.6" stroke="#333" stroke-width="1.2"/>
<line x1="40.8" y1="267.7" x2="43.8" y2="271.5" stroke="#333" stroke-width="1.2"/>
<line x1="38.5" y1="257" x2="40.5" y2="262" stroke="#333" stroke-width="1"/>
<circle cx="53.79" cy="305.12" r="1.45" fill="#222"/>
<circle cx="65.5" cy="321.46" r="1.45" fill="#222"/>
<circle cx="76.19" cy="325.87" r="1.45" fill="#222"/>
<circle cx="87.9" cy="329.41" r="1.45" fill="#222"/>
<circle cx="98.59" cy="333.82" r="1.45" fill="#222"/>
<circle cx="110.3" cy="337.79" r="1.45" fill="#222"/>
<circle cx="120.99" cy="337.35" r="1.45" fill="#222"/>
<circle cx="132.7" cy="337.35" r="1.45" fill="#222"/>
<circle cx="143.39" cy="336.47" r="1.45" fill="#222"/>
<circle cx="155.1" cy="342.65" r="1.45" fill="#222"/>
<line x1="53.79" y1="289.67" x2="53.79" y2="294.97" stroke="#444" stroke-width="0.85"/>
<line x1="51.99" y1="289.67" x2="55.59" y2="289.67" stroke="#444" stroke-width="0.85"/>
<line x1="51.99" y1="294.97" x2="55.59" y2="294.97" stroke="#444" stroke-width="0.85"/>
<rect x="52.34" y="290.87" width="2.9" height="2.9" fill="#444" stroke="none" stroke-width="0"/>
<line x1="53.79" y1="302.92" x2="53.79" y2="306.45" stroke="#444" stroke-width="0.85"/>
<line x1="51.99" y1="302.92" x2="55.59" y2="302.92" stroke="#444" stroke-width="0.85"/>
<line x1="51.99" y1="306.45" x2="55.59" y2="306.45" stroke="#444" stroke-width="0.85"/>
<rect x="52.34" y="303.23" width="2.9" height="2.9" fill="#444" stroke="none" stroke-width="0"/>
<line x1="65.5" y1="305.56" x2="65.5" y2="309.1" stroke="#444" stroke-width="0.85"/>
<line x1="63.7" y1="305.56" x2="67.3" y2="305.56" stroke="#444" stroke-width="0.85"/>
<line x1="63.7" y1="309.1" x2="67.3" y2="309.1" stroke="#444" stroke-width="0.85"/>
<rect x="64.05" y="305.88" width="2.9" height="2.9" fill="#444" stroke="none" stroke-width="0"/>
<line x1="76.19" y1="308.21" x2="76.19" y2="311.75" stroke="#444" stroke-width="0.85"/>
<line x1="74.39" y1="308.21" x2="77.99" y2="308.21" stroke="#444" stroke-width="0.85"/>
<line x1="74.39" y1="311.75" x2="77.99" y2="311.75" stroke="#444" stroke-width="0.85"/>
<rect x="74.74" y="308.53" width="2.9" height="2.9" fill="#444" stroke="none" stroke-width="0"/>
<line x1="87.9" y1="313.51" x2="87.9" y2="317.04" stroke="#444" stroke-width="0.85"/>
<line x1="86.1" y1="313.51" x2="89.7" y2="313.51" stroke="#444" stroke-width="0.85"/>
<line x1="86.1" y1="317.04" x2="89.7" y2="317.04" stroke="#444" stroke-width="0.85"/>
<rect x="86.45" y="313.83" width="2.9" height="2.9" fill="#444" stroke="none" stroke-width="0"/>
<line x1="98.59" y1="319.69" x2="98.59" y2="321.46" stroke="#444" stroke-width="0.85"/>
<line x1="96.79" y1="319.69" x2="100.39" y2="319.69" stroke="#444" stroke-width="0.85"/>
<line x1="96.79" y1="321.46" x2="100.39" y2="321.46" stroke="#444" stroke-width="0.85"/>
<rect x="97.14" y="319.13" width="2.9" height="2.9" fill="#444" stroke="none" stroke-width="0"/>
<line x1="110.3" y1="329.41" x2="110.3" y2="331.17" stroke="#444" stroke-width="0.85"/>
<line x1="108.5" y1="329.41" x2="112.1" y2="329.41" stroke="#444" stroke-width="0.85"/>
<line x1="108.5" y1="331.17" x2="112.1" y2="331.17" stroke="#444" stroke-width="0.85"/>
<rect x="108.85" y="328.84" width="2.9" height="2.9" fill="#444" stroke="none" stroke-width="0"/>
<line x1="120.99" y1="334.7" x2="120.99" y2="338.24" stroke="#444" stroke-width="0.85"/>
<line x1="119.19" y1="334.7" x2="122.79" y2="334.7" stroke="#444" stroke-width="0.85"/>
<line x1="119.19" y1="338.24" x2="122.79" y2="338.24" stroke="#444" stroke-width="0.85"/>
<rect x="119.54" y="335.02" width="2.9" height="2.9" fill="#444" stroke="none" stroke-width="0"/>
<line x1="132.7" y1="335.59" x2="132.7" y2="337.35" stroke="#444" stroke-width="0.85"/>
<line x1="130.9" y1="335.59" x2="134.5" y2="335.59" stroke="#444" stroke-width="0.85"/>
<line x1="130.9" y1="337.35" x2="134.5" y2="337.35" stroke="#444" stroke-width="0.85"/>
<rect x="131.25" y="335.02" width="2.9" height="2.9" fill="#444" stroke="none" stroke-width="0"/>
<line x1="143.39" y1="334.7" x2="143.39" y2="336.47" stroke="#444" stroke-width="0.85"/>
<line x1="141.59" y1="334.7" x2="145.19" y2="334.7" stroke="#444" stroke-width="0.85"/>
<line x1="141.59" y1="336.47" x2="145.19" y2="336.47" stroke="#444" stroke-width="0.85"/>
<rect x="141.94" y="334.14" width="2.9" height="2.9" fill="#444" stroke="none" stroke-width="0"/>
<line x1="155.1" y1="338.24" x2="155.1" y2="341.77" stroke="#444" stroke-width="0.85"/>
<line x1="153.3" y1="338.24" x2="156.9" y2="338.24" stroke="#444" stroke-width="0.85"/>
<line x1="153.3" y1="341.77" x2="156.9" y2="341.77" stroke="#444" stroke-width="0.85"/>
<rect x="153.65" y="338.55" width="2.9" height="2.9" fill="#444" stroke="none" stroke-width="0"/>
<path d="M53.79 259.63L55.49 262.65L52.08 262.65Z" stroke="#333" stroke-width="0.85" fill="#fff"/>
<path d="M65.5 253.45L67.2 256.47L63.8 256.47Z" stroke="#333" stroke-width="0.85" fill="#fff"/>
<path d="M76.19 251.69L77.89 254.71L74.48 254.71Z" stroke="#333" stroke-width="0.85" fill="#fff"/>
<path d="M87.9 255.22L89.61 258.24L86.2 258.24Z" stroke="#333" stroke-width="0.85" fill="#fff"/>
<path d="M98.59 251.69L100.29 254.71L96.88 254.71Z" stroke="#333" stroke-width="0.85" fill="#fff"/>
<path d="M110.3 255.22L112 258.24L108.59 258.24Z" stroke="#333" stroke-width="0.85" fill="#fff"/>
<path d="M120.99 260.52L122.69 263.54L119.28 263.54Z" stroke="#333" stroke-width="0.85" fill="#fff"/>
<path d="M132.7 294.95L134.41 297.98L130.99 297.98Z" stroke="#333" stroke-width="0.85" fill="#fff"/>
<path d="M143.39 325.86L145.09 328.88L141.68 328.88Z" stroke="#333" stroke-width="0.85" fill="#fff"/>
<path d="M155.1 343.52L156.81 346.54L153.39 346.54Z" stroke="#333" stroke-width="0.85" fill="#fff"/>
<circle cx="53.79" cy="259.65" r="1.4" fill="#fff" stroke="#333" stroke-width="0.85"/>
<circle cx="65.5" cy="257" r="1.4" fill="#fff" stroke="#333" stroke-width="0.85"/>
<circle cx="76.19" cy="260.53" r="1.4" fill="#fff" stroke="#333" stroke-width="0.85"/>
<circle cx="87.9" cy="258.77" r="1.4" fill="#fff" stroke="#333" stroke-width="0.85"/>
<circle cx="98.59" cy="259.65" r="1.4" fill="#fff" stroke="#333" stroke-width="0.85"/>
<circle cx="110.3" cy="258.77" r="1.4" fill="#fff" stroke="#333" stroke-width="0.85"/>
<circle cx="120.99" cy="268.48" r="1.4" fill="#fff" stroke="#333" stroke-width="0.85"/>
<circle cx="132.7" cy="299.38" r="1.4" fill="#fff" stroke="#333" stroke-width="0.85"/>
<circle cx="143.39" cy="334.7" r="1.4" fill="#fff" stroke="#333" stroke-width="0.85"/>
<circle cx="155.1" cy="345.3" r="1.4" fill="#fff" stroke="#333" stroke-width="0.85"/>
<path d="M53.79 265.85L55.49 262.82L52.08 262.82Z" stroke="#3a3a3a" stroke-width="0.85" fill="#fff"/>
<path d="M65.5 257.9L67.2 254.88L63.8 254.88Z" stroke="#3a3a3a" stroke-width="0.85" fill="#fff"/>
<path d="M76.19 258.78L77.89 255.76L74.48 255.76Z" stroke="#3a3a3a" stroke-width="0.85" fill="#fff"/>
<path d="M87.9 263.2L89.61 260.17L86.2 260.17Z" stroke="#3a3a3a" stroke-width="0.85" fill="#fff"/>
<path d="M98.59 257.9L100.29 254.88L96.88 254.88Z" stroke="#3a3a3a" stroke-width="0.85" fill="#fff"/>
<path d="M110.3 264.08L112 261.06L108.59 261.06Z" stroke="#3a3a3a" stroke-width="0.85" fill="#fff"/>
<path d="M120.99 265.85L122.69 262.82L119.28 262.82Z" stroke="#3a3a3a" stroke-width="0.85" fill="#fff"/>
<path d="M132.7 292.34L134.41 289.31L130.99 289.31Z" stroke="#3a3a3a" stroke-width="0.85" fill="#fff"/>
<path d="M143.39 332.95L145.09 329.93L141.68 329.93Z" stroke="#3a3a3a" stroke-width="0.85" fill="#fff"/>
<path d="M53.79 261.17L55.49 263.18L53.79 265.2L52.08 263.18Z" stroke="#3a3a3a" stroke-width="0.85" fill="#fff"/>
<path d="M65.5 257.63L67.2 259.65L65.5 261.66L63.8 259.65Z" stroke="#3a3a3a" stroke-width="0.85" fill="#fff"/>
<path d="M76.19 267.35L77.89 269.36L76.19 271.38L74.48 269.36Z" stroke="#3a3a3a" stroke-width="0.85" fill="#fff"/>
<path d="M87.9 260.28L89.61 262.3L87.9 264.31L86.2 262.3Z" stroke="#3a3a3a" stroke-width="0.85" fill="#fff"/>
<path d="M98.59 258.52L100.29 260.53L98.59 262.55L96.88 260.53Z" stroke="#3a3a3a" stroke-width="0.85" fill="#fff"/>
<path d="M110.3 272.64L112 274.66L110.3 276.67L108.59 274.66Z" stroke="#3a3a3a" stroke-width="0.85" fill="#fff"/>
<path d="M120.99 287.66L122.69 289.67L120.99 291.69L119.28 289.67Z" stroke="#3a3a3a" stroke-width="0.85" fill="#fff"/>
<path d="M132.7 334.46L134.41 336.47L132.7 338.49L130.99 336.47Z" stroke="#3a3a3a" stroke-width="0.85" fill="#fff"/>
<path d="M143.39 343.29L145.09 345.3L143.39 347.31L141.68 345.3Z" stroke="#3a3a3a" stroke-width="0.85" fill="#fff"/>
<line x1="155.2" y1="333.8" x2="155.2" y2="345.3" stroke="#333" stroke-width="1.2"/>
<line x1="147" y1="333.8" x2="155.2" y2="333.8" stroke="#444" stroke-width="1"/>
<circle cx="38.5" cy="257" r="1.5" fill="#333"/>
<line x1="125.7" y1="211.1" x2="134.3" y2="211.1" stroke="#333" stroke-width="0.9"/>
<circle cx="130" cy="211.1" r="1.65" fill="#333"/>
<text x="139.5" y="213.49" font-size="6.65" fill="#777">H3122</text>
<line x1="125.7" y1="219.7" x2="134.3" y2="219.7" stroke="#444" stroke-width="0.9"/>
<rect x="128.35" y="218.05" width="3.3" height="3.3" fill="#444" stroke="none" stroke-width="0"/>
<text x="139.5" y="222.09" font-size="6.65" fill="#777">H3122 CHR-A1</text>
<line x1="125.7" y1="228.5" x2="134.3" y2="228.5" stroke="#444" stroke-width="0.9" stroke-dasharray="1.6,1.4"/>
<path d="M130 226.6L131.81 229.82L128.19 229.82Z" stroke="#444" stroke-width="0.85" fill="#fff"/>
<text x="139.5" y="230.89" font-size="6.65" fill="#777">A549</text>
<line x1="125.7" y1="237.3" x2="134.3" y2="237.3" stroke="#444" stroke-width="0.9" stroke-dasharray="1,1.2"/>
<circle cx="130" cy="237.3" r="1.48" fill="#fff" stroke="#444" stroke-width="0.85"/>
<text x="139.5" y="239.69" font-size="6.65" fill="#777">H460</text>
<line x1="125.7" y1="246.2" x2="134.3" y2="246.2" stroke="#555" stroke-width="0.9" stroke-dasharray="0.8,1.2"/>
<path d="M130 248.1L131.81 244.88L128.19 244.88Z" stroke="#555" stroke-width="0.85" fill="#fff"/>
<text x="139.5" y="248.59" font-size="6.65" fill="#777">HCC827</text>
<line x1="125.7" y1="254.8" x2="134.3" y2="254.8" stroke="#555" stroke-width="0.9" stroke-dasharray="0.8,1.4"/>
<path d="M130 252.66L131.81 254.8L130 256.94L128.19 254.8Z" stroke="#555" stroke-width="0.85" fill="#fff"/>
<text x="139.5" y="257.19" font-size="6.65" fill="#777">PC-9</text>
<text x="251.6" y="203.9" font-size="7.45" font-weight="bold" stroke="#111" stroke-width="0.3" text-anchor="middle" fill="#111">Crizotinib</text>
<line x1="204.8" y1="225.2" x2="204.8" y2="347.5" stroke="#222" stroke-width="1"/>
<line x1="202.8" y1="345.8" x2="204.8" y2="345.8" stroke="#222" stroke-width="0.8"/>
<text x="203" y="347.96" font-size="6" font-weight="bold" stroke="#222" stroke-width="0.3" text-anchor="end" fill="#222">0</text>
<line x1="202.8" y1="301.5" x2="204.8" y2="301.5" stroke="#222" stroke-width="0.8"/>
<text x="203" y="303.66" font-size="6" font-weight="bold" stroke="#222" stroke-width="0.3" text-anchor="end" fill="#222">50</text>
<line x1="202.8" y1="257.2" x2="204.8" y2="257.2" stroke="#222" stroke-width="0.8"/>
<text x="203" y="259.36" font-size="6" font-weight="bold" stroke="#222" stroke-width="0.3" text-anchor="end" fill="#222">100</text>
<line x1="204.8" y1="345.8" x2="210" y2="345.8" stroke="#222" stroke-width="1"/>
<line x1="210" y1="344.5" x2="210" y2="347.1" stroke="#222" stroke-width="0.7"/>
<line x1="216" y1="345.8" x2="305.5" y2="345.8" stroke="#222" stroke-width="1"/>
<line x1="216" y1="344.5" x2="216" y2="347.1" stroke="#222" stroke-width="0.7"/>
<line x1="204.8" y1="345.8" x2="204.8" y2="347.4" stroke="#222" stroke-width="0.8"/>
<text x="204.8" y="354.96" font-size="6" font-weight="bold" stroke="#222" stroke-width="0.3" text-anchor="middle" fill="#222">0</text>
<line x1="218.1" y1="345.8" x2="218.1" y2="347.8" stroke="#222" stroke-width="0.9"/>
<text x="218.1" y="354.96" font-size="6" font-weight="bold" stroke="#222" stroke-width="0.3" text-anchor="middle" fill="#222">1</text>
<line x1="238.6" y1="345.8" x2="238.6" y2="347.8" stroke="#222" stroke-width="0.9"/>
<text x="238.6" y="354.96" font-size="6" font-weight="bold" stroke="#222" stroke-width="0.3" text-anchor="middle" fill="#222">10</text>
<line x1="259.1" y1="345.8" x2="259.1" y2="347.8" stroke="#222" stroke-width="0.9"/>
<text x="259.1" y="354.96" font-size="6" font-weight="bold" stroke="#222" stroke-width="0.3" text-anchor="middle" fill="#222">100</text>
<line x1="279.6" y1="345.8" x2="279.6" y2="347.8" stroke="#222" stroke-width="0.9"/>
<text x="279.6" y="354.96" font-size="6" font-weight="bold" stroke="#222" stroke-width="0.3" text-anchor="middle" fill="#222">1,000</text>
<line x1="300.1" y1="345.8" x2="300.1" y2="347.8" stroke="#222" stroke-width="0.9"/>
<text x="300.1" y="354.96" font-size="6" font-weight="bold" stroke="#222" stroke-width="0.3" text-anchor="middle" fill="#222">10,000</text>
<line x1="216.11" y1="345.8" x2="216.11" y2="346.7" stroke="#222" stroke-width="0.4"/>
<line x1="217.16" y1="345.8" x2="217.16" y2="346.7" stroke="#222" stroke-width="0.4"/>
<line x1="224.27" y1="345.8" x2="224.27" y2="346.7" stroke="#222" stroke-width="0.4"/>
<line x1="227.88" y1="345.8" x2="227.88" y2="346.7" stroke="#222" stroke-width="0.4"/>
<line x1="230.44" y1="345.8" x2="230.44" y2="346.7" stroke="#222" stroke-width="0.4"/>
<line x1="232.43" y1="345.8" x2="232.43" y2="346.7" stroke="#222" stroke-width="0.4"/>
<line x1="234.05" y1="345.8" x2="234.05" y2="346.7" stroke="#222" stroke-width="0.4"/>
<line x1="235.42" y1="345.8" x2="235.42" y2="346.7" stroke="#222" stroke-width="0.4"/>
<line x1="236.61" y1="345.8" x2="236.61" y2="346.7" stroke="#222" stroke-width="0.4"/>
<line x1="237.66" y1="345.8" x2="237.66" y2="346.7" stroke="#222" stroke-width="0.4"/>
<line x1="244.77" y1="345.8" x2="244.77" y2="346.7" stroke="#222" stroke-width="0.4"/>
<line x1="248.38" y1="345.8" x2="248.38" y2="346.7" stroke="#222" stroke-width="0.4"/>
<line x1="250.94" y1="345.8" x2="250.94" y2="346.7" stroke="#222" stroke-width="0.4"/>
<line x1="252.93" y1="345.8" x2="252.93" y2="346.7" stroke="#222" stroke-width="0.4"/>
<line x1="254.55" y1="345.8" x2="254.55" y2="346.7" stroke="#222" stroke-width="0.4"/>
<line x1="255.92" y1="345.8" x2="255.92" y2="346.7" stroke="#222" stroke-width="0.4"/>
<line x1="257.11" y1="345.8" x2="257.11" y2="346.7" stroke="#222" stroke-width="0.4"/>
<line x1="258.16" y1="345.8" x2="258.16" y2="346.7" stroke="#222" stroke-width="0.4"/>
<line x1="265.27" y1="345.8" x2="265.27" y2="346.7" stroke="#222" stroke-width="0.4"/>
<line x1="268.88" y1="345.8" x2="268.88" y2="346.7" stroke="#222" stroke-width="0.4"/>
<line x1="271.44" y1="345.8" x2="271.44" y2="346.7" stroke="#222" stroke-width="0.4"/>
<line x1="273.43" y1="345.8" x2="273.43" y2="346.7" stroke="#222" stroke-width="0.4"/>
<line x1="275.05" y1="345.8" x2="275.05" y2="346.7" stroke="#222" stroke-width="0.4"/>
<line x1="276.42" y1="345.8" x2="276.42" y2="346.7" stroke="#222" stroke-width="0.4"/>
<line x1="277.61" y1="345.8" x2="277.61" y2="346.7" stroke="#222" stroke-width="0.4"/>
<line x1="278.66" y1="345.8" x2="278.66" y2="346.7" stroke="#222" stroke-width="0.4"/>
<line x1="285.77" y1="345.8" x2="285.77" y2="346.7" stroke="#222" stroke-width="0.4"/>
<line x1="289.38" y1="345.8" x2="289.38" y2="346.7" stroke="#222" stroke-width="0.4"/>
<line x1="291.94" y1="345.8" x2="291.94" y2="346.7" stroke="#222" stroke-width="0.4"/>
<line x1="293.93" y1="345.8" x2="293.93" y2="346.7" stroke="#222" stroke-width="0.4"/>
<line x1="295.55" y1="345.8" x2="295.55" y2="346.7" stroke="#222" stroke-width="0.4"/>
<line x1="296.92" y1="345.8" x2="296.92" y2="346.7" stroke="#222" stroke-width="0.4"/>
<line x1="298.11" y1="345.8" x2="298.11" y2="346.7" stroke="#222" stroke-width="0.4"/>
<line x1="299.16" y1="345.8" x2="299.16" y2="346.7" stroke="#222" stroke-width="0.4"/>
<text x="186.4" y="288.8" font-size="7.07" font-weight="bold" stroke="#111" stroke-width="0.3" text-anchor="middle" fill="#111" transform="rotate(-90 186.4 288.8)">Relative cell number (% of control)</text>
<text x="260.8" y="367.4" font-size="6.9" font-weight="bold" stroke="#111" stroke-width="0.3" text-anchor="middle" fill="#111">Concentration (nmol/L)</text>
<line x1="218.1" y1="237.71" x2="218.1" y2="276.69" stroke="#999" stroke-width="0.7"/>
<line x1="216.7" y1="237.71" x2="219.5" y2="237.71" stroke="#999" stroke-width="0.7"/>
<line x1="216.7" y1="276.69" x2="219.5" y2="276.69" stroke="#999" stroke-width="0.7"/>
<circle cx="218.1" cy="257.2" r="0.01" fill="#999"/>
<line x1="218.1" y1="245.68" x2="218.1" y2="275.81" stroke="#999" stroke-width="0.7"/>
<line x1="216.7" y1="245.68" x2="219.5" y2="245.68" stroke="#999" stroke-width="0.7"/>
<line x1="216.7" y1="275.81" x2="219.5" y2="275.81" stroke="#999" stroke-width="0.7"/>
<circle cx="218.1" cy="260.74" r="0.01" fill="#999"/>
<line x1="227.88" y1="237.71" x2="227.88" y2="276.69" stroke="#999" stroke-width="0.7"/>
<line x1="226.48" y1="237.71" x2="229.28" y2="237.71" stroke="#999" stroke-width="0.7"/>
<line x1="226.48" y1="276.69" x2="229.28" y2="276.69" stroke="#999" stroke-width="0.7"/>
<circle cx="227.88" cy="257.2" r="0.01" fill="#999"/>
<line x1="227.88" y1="245.68" x2="227.88" y2="275.81" stroke="#999" stroke-width="0.7"/>
<line x1="226.48" y1="245.68" x2="229.28" y2="245.68" stroke="#999" stroke-width="0.7"/>
<line x1="226.48" y1="275.81" x2="229.28" y2="275.81" stroke="#999" stroke-width="0.7"/>
<circle cx="227.88" cy="260.74" r="0.01" fill="#999"/>
<line x1="238.6" y1="237.71" x2="238.6" y2="276.69" stroke="#999" stroke-width="0.7"/>
<line x1="237.2" y1="237.71" x2="240" y2="237.71" stroke="#999" stroke-width="0.7"/>
<line x1="237.2" y1="276.69" x2="240" y2="276.69" stroke="#999" stroke-width="0.7"/>
<circle cx="238.6" cy="257.2" r="0.01" fill="#999"/>
<line x1="238.6" y1="245.68" x2="238.6" y2="275.81" stroke="#999" stroke-width="0.7"/>
<line x1="237.2" y1="245.68" x2="240" y2="245.68" stroke="#999" stroke-width="0.7"/>
<line x1="237.2" y1="275.81" x2="240" y2="275.81" stroke="#999" stroke-width="0.7"/>
<circle cx="238.6" cy="260.74" r="0.01" fill="#999"/>
<line x1="248.38" y1="237.71" x2="248.38" y2="276.69" stroke="#999" stroke-width="0.7"/>
<line x1="246.98" y1="237.71" x2="249.78" y2="237.71" stroke="#999" stroke-width="0.7"/>
<line x1="246.98" y1="276.69" x2="249.78" y2="276.69" stroke="#999" stroke-width="0.7"/>
<circle cx="248.38" cy="257.2" r="0.01" fill="#999"/>
<line x1="248.38" y1="245.68" x2="248.38" y2="275.81" stroke="#999" stroke-width="0.7"/>
<line x1="246.98" y1="245.68" x2="249.78" y2="245.68" stroke="#999" stroke-width="0.7"/>
<line x1="246.98" y1="275.81" x2="249.78" y2="275.81" stroke="#999" stroke-width="0.7"/>
<circle cx="248.38" cy="260.74" r="0.01" fill="#999"/>
<line x1="259.1" y1="237.71" x2="259.1" y2="276.69" stroke="#999" stroke-width="0.7"/>
<line x1="257.7" y1="237.71" x2="260.5" y2="237.71" stroke="#999" stroke-width="0.7"/>
<line x1="257.7" y1="276.69" x2="260.5" y2="276.69" stroke="#999" stroke-width="0.7"/>
<circle cx="259.1" cy="257.2" r="0.01" fill="#999"/>
<line x1="259.1" y1="245.68" x2="259.1" y2="275.81" stroke="#999" stroke-width="0.7"/>
<line x1="257.7" y1="245.68" x2="260.5" y2="245.68" stroke="#999" stroke-width="0.7"/>
<line x1="257.7" y1="275.81" x2="260.5" y2="275.81" stroke="#999" stroke-width="0.7"/>
<circle cx="259.1" cy="260.74" r="0.01" fill="#999"/>
<line x1="268.88" y1="237.71" x2="268.88" y2="276.69" stroke="#999" stroke-width="0.7"/>
<line x1="267.48" y1="237.71" x2="270.28" y2="237.71" stroke="#999" stroke-width="0.7"/>
<line x1="267.48" y1="276.69" x2="270.28" y2="276.69" stroke="#999" stroke-width="0.7"/>
<circle cx="268.88" cy="257.2" r="0.01" fill="#999"/>
<line x1="268.88" y1="245.68" x2="268.88" y2="275.81" stroke="#999" stroke-width="0.7"/>
<line x1="267.48" y1="245.68" x2="270.28" y2="245.68" stroke="#999" stroke-width="0.7"/>
<line x1="267.48" y1="275.81" x2="270.28" y2="275.81" stroke="#999" stroke-width="0.7"/>
<circle cx="268.88" cy="260.74" r="0.01" fill="#999"/>
<line x1="279.6" y1="237.71" x2="279.6" y2="276.69" stroke="#999" stroke-width="0.7"/>
<line x1="278.2" y1="237.71" x2="281" y2="237.71" stroke="#999" stroke-width="0.7"/>
<line x1="278.2" y1="276.69" x2="281" y2="276.69" stroke="#999" stroke-width="0.7"/>
<circle cx="279.6" cy="257.2" r="0.01" fill="#999"/>
<line x1="279.6" y1="245.68" x2="279.6" y2="275.81" stroke="#999" stroke-width="0.7"/>
<line x1="278.2" y1="245.68" x2="281" y2="245.68" stroke="#999" stroke-width="0.7"/>
<line x1="278.2" y1="275.81" x2="281" y2="275.81" stroke="#999" stroke-width="0.7"/>
<circle cx="279.6" cy="260.74" r="0.01" fill="#999"/>
<path d="M216.3 257.2 L217.35 257.2 L218.39 257.2 L219.44 257.2 L220.49 257.2 L221.53 257.2 L222.58 257.2 L223.62 257.2 L224.67 257.2 L225.72 257.2 L226.76 257.2 L227.81 257.2 L228.86 257.2 L229.9 257.2 L230.95 257.2 L231.99 257.2 L233.04 257.2 L234.09 257.2 L235.13 257.2 L236.18 257.2 L237.23 257.2 L238.27 257.2 L239.32 257.2 L240.36 257.2 L241.41 257.2 L242.46 257.21 L243.5 257.21 L244.55 257.21 L245.59 257.21 L246.64 257.22 L247.69 257.22 L248.73 257.23 L249.78 257.23 L250.83 257.24 L251.87 257.25 L252.92 257.27 L253.97 257.28 L255.01 257.31 L256.06 257.33 L257.1 257.37 L258.15 257.41 L259.2 257.47 L260.24 257.54 L261.29 257.63 L262.33 257.75 L263.38 257.89 L264.43 258.07 L265.47 258.3 L266.52 258.58 L267.57 258.94 L268.61 259.39 L269.66 259.95 L270.7 260.65 L271.75 261.52 L272.8 262.59 L273.84 263.91 L274.89 265.52 L275.94 267.46 L276.98 269.78 L278.03 272.52 L279.07 275.7 L280.12 279.34 L281.17 283.42 L282.21 287.88 L283.26 292.66 L284.31 297.63 L285.35 302.68 L286.4 307.65 L287.44 312.43 L288.49 316.9 L289.54 320.98 L290.58 324.62 L291.63 327.81 L292.68 330.55 L293.72 332.87 L294.77 334.81 L295.81 336.42 L296.86 337.74 L297.91 338.81 L298.95 339.68 L300 340.39" stroke="#333" stroke-width="0.9" fill="none" stroke-dasharray="2,1" stroke-linejoin="round"/>
<path d="M216.3 257.2 L217.35 257.2 L218.39 257.2 L219.44 257.2 L220.49 257.2 L221.53 257.2 L222.58 257.2 L223.62 257.2 L224.67 257.2 L225.72 257.2 L226.76 257.2 L227.81 257.2 L228.86 257.21 L229.9 257.21 L230.95 257.21 L231.99 257.21 L233.04 257.21 L234.09 257.21 L235.13 257.22 L236.18 257.22 L237.23 257.22 L238.27 257.23 L239.32 257.23 L240.36 257.24 L241.41 257.24 L242.46 257.25 L243.5 257.26 L244.55 257.27 L245.59 257.29 L246.64 257.31 L247.69 257.33 L248.73 257.35 L249.78 257.38 L250.83 257.41 L251.87 257.45 L252.92 257.5 L253.97 257.56 L255.01 257.63 L256.06 257.71 L257.1 257.81 L258.15 257.93 L259.2 258.06 L260.24 258.23 L261.29 258.42 L262.33 258.66 L263.38 258.93 L264.43 259.26 L265.47 259.64 L266.52 260.1 L267.57 260.64 L268.61 261.27 L269.66 262.01 L270.7 262.88 L271.75 263.89 L272.8 265.06 L273.84 266.42 L274.89 267.98 L275.94 269.77 L276.98 271.79 L278.03 274.07 L279.07 276.61 L280.12 279.41 L281.17 282.47 L282.21 285.77 L283.26 289.29 L284.31 292.97 L285.35 296.79 L286.4 300.68 L287.44 304.58 L288.49 308.43 L289.54 312.17 L290.58 315.77 L291.63 319.16 L292.68 322.33 L293.72 325.24 L294.77 327.89 L295.81 330.28 L296.86 332.41 L297.91 334.29 L298.95 335.94 L300 337.39" stroke="#444" stroke-width="0.9" fill="none" stroke-dasharray="2.2,1" stroke-linejoin="round"/>
<path d="M216.3 257.2 L217.35 257.2 L218.39 257.2 L219.44 257.2 L220.49 257.2 L221.53 257.2 L222.58 257.2 L223.62 257.2 L224.67 257.2 L225.72 257.2 L226.76 257.2 L227.81 257.2 L228.86 257.2 L229.9 257.2 L230.95 257.2 L231.99 257.2 L233.04 257.2 L234.09 257.2 L235.13 257.2 L236.18 257.2 L237.23 257.2 L238.27 257.2 L239.32 257.2 L240.36 257.2 L241.41 257.2 L242.46 257.2 L243.5 257.2 L244.55 257.2 L245.59 257.2 L246.64 257.2 L247.69 257.2 L248.73 257.2 L249.78 257.2 L250.83 257.21 L251.87 257.21 L252.92 257.21 L253.97 257.21 L255.01 257.21 L256.06 257.22 L257.1 257.22 L258.15 257.23 L259.2 257.24 L260.24 257.24 L261.29 257.26 L262.33 257.27 L263.38 257.29 L264.43 257.31 L265.47 257.34 L266.52 257.38 L267.57 257.43 L268.61 257.49 L269.66 257.57 L270.7 257.66 L271.75 257.79 L272.8 257.94 L273.84 258.13 L274.89 258.38 L275.94 258.68 L276.98 259.07 L278.03 259.55 L279.07 260.15 L280.12 260.9 L281.17 261.83 L282.21 262.97 L283.26 264.37 L284.31 266.07 L285.35 268.13 L286.4 270.57 L287.44 273.44 L288.49 276.77 L289.54 280.54 L290.58 284.74 L291.63 289.32 L292.68 294.16 L293.72 299.18 L294.77 304.21 L295.81 309.14 L296.86 313.83 L297.91 318.19 L298.95 322.14 L300 325.64" stroke="#444" stroke-width="0.9" fill="none" stroke-dasharray="1,1" stroke-linejoin="round"/>
<path d="M216.3 258.97 L217.35 258.97 L218.39 258.97 L219.44 258.97 L220.49 258.97 L221.53 258.97 L222.58 258.97 L223.62 258.97 L224.67 258.97 L225.72 258.97 L226.76 258.97 L227.81 258.97 L228.86 258.97 L229.9 258.97 L230.95 258.97 L231.99 258.97 L233.04 258.98 L234.09 258.98 L235.13 258.98 L236.18 258.98 L237.23 258.98 L238.27 258.98 L239.32 258.98 L240.36 258.99 L241.41 258.99 L242.46 258.99 L243.5 259 L244.55 259.01 L245.59 259.01 L246.64 259.02 L247.69 259.04 L248.73 259.05 L249.78 259.07 L250.83 259.09 L251.87 259.12 L252.92 259.16 L253.97 259.2 L255.01 259.25 L256.06 259.32 L257.1 259.4 L258.15 259.5 L259.2 259.62 L260.24 259.77 L261.29 259.96 L262.33 260.19 L263.38 260.47 L264.43 260.82 L265.47 261.24 L266.52 261.76 L267.57 262.39 L268.61 263.15 L269.66 264.08 L270.7 265.19 L271.75 266.53 L272.8 268.11 L273.84 269.98 L274.89 272.17 L275.94 274.7 L276.98 277.59 L278.03 280.83 L279.07 284.42 L280.12 288.33 L281.17 292.49 L282.21 296.83 L283.26 301.27 L284.31 305.7 L285.35 310.03 L286.4 314.17 L287.44 318.05 L288.49 321.61 L289.54 324.82 L290.58 327.67 L291.63 330.17 L292.68 332.32 L293.72 334.17 L294.77 335.73 L295.81 337.04 L296.86 338.13 L297.91 339.04 L298.95 339.79 L300 340.41" stroke="#555" stroke-width="0.9" fill="none" stroke-dasharray="1,1" stroke-linejoin="round"/>
<path d="M216.3 259.22 L217.35 259.26 L218.39 259.3 L219.44 259.36 L220.49 259.42 L221.53 259.49 L222.58 259.58 L223.62 259.68 L224.67 259.79 L225.72 259.93 L226.76 260.08 L227.81 260.27 L228.86 260.47 L229.9 260.72 L230.95 261 L231.99 261.32 L233.04 261.7 L234.09 262.13 L235.13 262.63 L236.18 263.2 L237.23 263.85 L238.27 264.6 L239.32 265.45 L240.36 266.42 L241.41 267.52 L242.46 268.76 L243.5 270.15 L244.55 271.7 L245.59 273.42 L246.64 275.32 L247.69 277.39 L248.73 279.64 L249.78 282.07 L250.83 284.65 L251.87 287.38 L252.92 290.23 L253.97 293.18 L255.01 296.19 L256.06 299.23 L257.1 302.27 L258.15 305.26 L259.2 308.19 L260.24 311.01 L261.29 313.7 L262.33 316.25 L263.38 318.63 L264.43 320.84 L265.47 322.87 L266.52 324.72 L267.57 326.39 L268.61 327.9 L269.66 329.25 L270.7 330.45 L271.75 331.52 L272.8 332.46 L273.84 333.28 L274.89 334.01 L275.94 334.64 L276.98 335.19 L278.03 335.67 L279.07 336.09 L280.12 336.45 L281.17 336.76 L282.21 337.03 L283.26 337.27 L284.31 337.47 L285.35 337.64 L286.4 337.79 L287.44 337.92 L288.49 338.03 L289.54 338.13 L290.58 338.21 L291.63 338.28 L292.68 338.34 L293.72 338.39 L294.77 338.44 L295.81 338.48 L296.86 338.51 L297.91 338.54 L298.95 338.56 L300 338.58" stroke="#222" stroke-width="1.35" fill="none" stroke-linejoin="round"/>
<path d="M216.3 257.22 L217.35 257.22 L218.39 257.23 L219.44 257.23 L220.49 257.23 L221.53 257.24 L222.58 257.25 L223.62 257.25 L224.67 257.26 L225.72 257.27 L226.76 257.28 L227.81 257.3 L228.86 257.32 L229.9 257.33 L230.95 257.36 L231.99 257.38 L233.04 257.41 L234.09 257.45 L235.13 257.49 L236.18 257.54 L237.23 257.59 L238.27 257.65 L239.32 257.73 L240.36 257.82 L241.41 257.92 L242.46 258.03 L243.5 258.17 L244.55 258.33 L245.59 258.51 L246.64 258.72 L247.69 258.97 L248.73 259.25 L249.78 259.58 L250.83 259.96 L251.87 260.4 L252.92 260.9 L253.97 261.48 L255.01 262.14 L256.06 262.9 L257.1 263.77 L258.15 264.75 L259.2 265.86 L260.24 267.12 L261.29 268.53 L262.33 270.1 L263.38 271.85 L264.43 273.78 L265.47 275.89 L266.52 278.18 L267.57 280.64 L268.61 283.28 L269.66 286.06 L270.7 288.96 L271.75 291.97 L272.8 295.04 L273.84 298.15 L274.89 301.26 L275.94 304.33 L276.98 307.32 L278.03 310.21 L279.07 312.98 L280.12 315.59 L281.17 318.03 L282.21 320.3 L283.26 322.39 L284.31 324.29 L285.35 326.02 L286.4 327.57 L287.44 328.96 L288.49 330.2 L289.54 331.29 L290.58 332.26 L291.63 333.11 L292.68 333.86 L293.72 334.51 L294.77 335.08 L295.81 335.57 L296.86 336 L297.91 336.38 L298.95 336.7 L300 336.98" stroke="#333" stroke-width="1.35" fill="none" stroke-linejoin="round"/>
<path d="M218.1 251.87L219.81 254.9L216.39 254.9Z" stroke="#333" stroke-width="0.85" fill="#fff"/>
<path d="M227.88 253.65L229.59 256.67L226.18 256.67Z" stroke="#333" stroke-width="0.85" fill="#fff"/>
<path d="M238.6 254.53L240.31 257.55L236.89 257.55Z" stroke="#333" stroke-width="0.85" fill="#fff"/>
<path d="M248.38 255.42L250.09 258.44L246.68 258.44Z" stroke="#333" stroke-width="0.85" fill="#fff"/>
<path d="M259.1 255.42L260.81 258.44L257.4 258.44Z" stroke="#333" stroke-width="0.85" fill="#fff"/>
<path d="M268.88 258.96L270.59 261.98L267.18 261.98Z" stroke="#333" stroke-width="0.85" fill="#fff"/>
<path d="M279.6 274.91L281.31 277.93L277.9 277.93Z" stroke="#333" stroke-width="0.85" fill="#fff"/>
<path d="M289.38 312.12L291.09 315.14L287.68 315.14Z" stroke="#333" stroke-width="0.85" fill="#fff"/>
<path d="M300.1 339.59L301.81 342.61L298.4 342.61Z" stroke="#333" stroke-width="0.85" fill="#fff"/>
<circle cx="218.1" cy="256.31" r="1.4" fill="#fff" stroke="#333" stroke-width="0.85"/>
<circle cx="227.88" cy="257.2" r="1.4" fill="#fff" stroke="#333" stroke-width="0.85"/>
<circle cx="238.6" cy="257.2" r="1.4" fill="#fff" stroke="#333" stroke-width="0.85"/>
<circle cx="248.38" cy="258.09" r="1.4" fill="#fff" stroke="#333" stroke-width="0.85"/>
<circle cx="259.1" cy="257.2" r="1.4" fill="#fff" stroke="#333" stroke-width="0.85"/>
<circle cx="268.88" cy="261.63" r="1.4" fill="#fff" stroke="#333" stroke-width="0.85"/>
<circle cx="279.6" cy="286.44" r="1.4" fill="#fff" stroke="#333" stroke-width="0.85"/>
<circle cx="289.38" cy="300.61" r="1.4" fill="#fff" stroke="#333" stroke-width="0.85"/>
<circle cx="300.1" cy="345.8" r="1.4" fill="#fff" stroke="#333" stroke-width="0.85"/>
<path d="M218.1 253.67L219.81 250.64L216.39 250.64Z" stroke="#3a3a3a" stroke-width="0.85" fill="#fff"/>
<path d="M227.88 258.1L229.59 255.07L226.18 255.07Z" stroke="#3a3a3a" stroke-width="0.85" fill="#fff"/>
<path d="M238.6 257.21L240.31 254.19L236.89 254.19Z" stroke="#3a3a3a" stroke-width="0.85" fill="#fff"/>
<path d="M248.38 258.98L250.09 255.96L246.68 255.96Z" stroke="#3a3a3a" stroke-width="0.85" fill="#fff"/>
<path d="M259.1 258.1L260.81 255.07L257.4 255.07Z" stroke="#3a3a3a" stroke-width="0.85" fill="#fff"/>
<path d="M268.88 260.75L270.59 257.73L267.18 257.73Z" stroke="#3a3a3a" stroke-width="0.85" fill="#fff"/>
<path d="M279.6 266.07L281.31 263.05L277.9 263.05Z" stroke="#3a3a3a" stroke-width="0.85" fill="#fff"/>
<path d="M289.38 283.79L291.09 280.77L287.68 280.77Z" stroke="#3a3a3a" stroke-width="0.85" fill="#fff"/>
<path d="M300.1 328.98L301.81 325.95L298.4 325.95Z" stroke="#3a3a3a" stroke-width="0.85" fill="#fff"/>
<path d="M218.1 252.53L219.81 254.54L218.1 256.56L216.39 254.54Z" stroke="#3a3a3a" stroke-width="0.85" fill="#fff"/>
<path d="M227.88 256.07L229.59 258.09L227.88 260.1L226.18 258.09Z" stroke="#3a3a3a" stroke-width="0.85" fill="#fff"/>
<path d="M238.6 256.07L240.31 258.09L238.6 260.1L236.89 258.09Z" stroke="#3a3a3a" stroke-width="0.85" fill="#fff"/>
<path d="M248.38 254.3L250.09 256.31L248.38 258.33L246.68 256.31Z" stroke="#3a3a3a" stroke-width="0.85" fill="#fff"/>
<path d="M259.1 255.19L260.81 257.2L259.1 259.21L257.4 257.2Z" stroke="#3a3a3a" stroke-width="0.85" fill="#fff"/>
<path d="M268.88 257.84L270.59 259.86L268.88 261.87L267.18 259.86Z" stroke="#3a3a3a" stroke-width="0.85" fill="#fff"/>
<path d="M279.6 288.85L281.31 290.87L279.6 292.88L277.9 290.87Z" stroke="#3a3a3a" stroke-width="0.85" fill="#fff"/>
<path d="M289.38 312.78L291.09 314.79L289.38 316.81L287.68 314.79Z" stroke="#3a3a3a" stroke-width="0.85" fill="#fff"/>
<path d="M300.1 342.01L301.81 344.03L300.1 346.04L298.4 344.03Z" stroke="#3a3a3a" stroke-width="0.85" fill="#fff"/>
<line x1="204.8" y1="257.3" x2="210.4" y2="257.3" stroke="#222" stroke-width="2.2"/>
<line x1="218.1" y1="258.09" x2="218.1" y2="261.63" stroke="#222" stroke-width="0.85"/>
<line x1="216.3" y1="258.09" x2="219.9" y2="258.09" stroke="#222" stroke-width="0.85"/>
<line x1="216.3" y1="261.63" x2="219.9" y2="261.63" stroke="#222" stroke-width="0.85"/>
<circle cx="218.1" cy="259.86" r="1.6" fill="#222"/>
<line x1="227.88" y1="258.97" x2="227.88" y2="262.52" stroke="#222" stroke-width="0.85"/>
<line x1="226.08" y1="258.97" x2="229.68" y2="258.97" stroke="#222" stroke-width="0.85"/>
<line x1="226.08" y1="262.52" x2="229.68" y2="262.52" stroke="#222" stroke-width="0.85"/>
<circle cx="227.88" cy="260.74" r="1.6" fill="#222"/>
<line x1="238.6" y1="266.95" x2="238.6" y2="270.49" stroke="#222" stroke-width="0.85"/>
<line x1="236.8" y1="266.95" x2="240.4" y2="266.95" stroke="#222" stroke-width="0.85"/>
<line x1="236.8" y1="270.49" x2="240.4" y2="270.49" stroke="#222" stroke-width="0.85"/>
<circle cx="238.6" cy="268.72" r="1.6" fill="#222"/>
<line x1="248.38" y1="282.89" x2="248.38" y2="286.44" stroke="#222" stroke-width="0.85"/>
<line x1="246.58" y1="282.89" x2="250.18" y2="282.89" stroke="#222" stroke-width="0.85"/>
<line x1="246.58" y1="286.44" x2="250.18" y2="286.44" stroke="#222" stroke-width="0.85"/>
<circle cx="248.38" cy="284.67" r="1.6" fill="#222"/>
<line x1="259.1" y1="308.59" x2="259.1" y2="312.13" stroke="#222" stroke-width="0.85"/>
<line x1="257.3" y1="308.59" x2="260.9" y2="308.59" stroke="#222" stroke-width="0.85"/>
<line x1="257.3" y1="312.13" x2="260.9" y2="312.13" stroke="#222" stroke-width="0.85"/>
<circle cx="259.1" cy="310.36" r="1.6" fill="#222"/>
<line x1="268.88" y1="324.54" x2="268.88" y2="328.08" stroke="#222" stroke-width="0.85"/>
<line x1="267.08" y1="324.54" x2="270.68" y2="324.54" stroke="#222" stroke-width="0.85"/>
<line x1="267.08" y1="328.08" x2="270.68" y2="328.08" stroke="#222" stroke-width="0.85"/>
<circle cx="268.88" cy="326.31" r="1.6" fill="#222"/>
<line x1="279.6" y1="332.51" x2="279.6" y2="336.05" stroke="#222" stroke-width="0.85"/>
<line x1="277.8" y1="332.51" x2="281.4" y2="332.51" stroke="#222" stroke-width="0.85"/>
<line x1="277.8" y1="336.05" x2="281.4" y2="336.05" stroke="#222" stroke-width="0.85"/>
<circle cx="279.6" cy="334.28" r="1.6" fill="#222"/>
<line x1="289.38" y1="336.05" x2="289.38" y2="339.6" stroke="#222" stroke-width="0.85"/>
<line x1="287.58" y1="336.05" x2="291.18" y2="336.05" stroke="#222" stroke-width="0.85"/>
<line x1="287.58" y1="339.6" x2="291.18" y2="339.6" stroke="#222" stroke-width="0.85"/>
<circle cx="289.38" cy="337.83" r="1.6" fill="#222"/>
<line x1="300.1" y1="335.17" x2="300.1" y2="338.71" stroke="#222" stroke-width="0.85"/>
<line x1="298.3" y1="335.17" x2="301.9" y2="335.17" stroke="#222" stroke-width="0.85"/>
<line x1="298.3" y1="338.71" x2="301.9" y2="338.71" stroke="#222" stroke-width="0.85"/>
<circle cx="300.1" cy="336.94" r="1.6" fill="#222"/>
<line x1="218.1" y1="255.43" x2="218.1" y2="258.97" stroke="#3a3a3a" stroke-width="0.85"/>
<line x1="216.3" y1="255.43" x2="219.9" y2="255.43" stroke="#3a3a3a" stroke-width="0.85"/>
<line x1="216.3" y1="258.97" x2="219.9" y2="258.97" stroke="#3a3a3a" stroke-width="0.85"/>
<rect x="216.4" y="255.5" width="3.4" height="3.4" fill="#3a3a3a" stroke="none" stroke-width="0"/>
<line x1="227.88" y1="255.43" x2="227.88" y2="258.97" stroke="#3a3a3a" stroke-width="0.85"/>
<line x1="226.08" y1="255.43" x2="229.68" y2="255.43" stroke="#3a3a3a" stroke-width="0.85"/>
<line x1="226.08" y1="258.97" x2="229.68" y2="258.97" stroke="#3a3a3a" stroke-width="0.85"/>
<rect x="226.18" y="255.5" width="3.4" height="3.4" fill="#3a3a3a" stroke="none" stroke-width="0"/>
<line x1="238.6" y1="256.31" x2="238.6" y2="259.86" stroke="#3a3a3a" stroke-width="0.85"/>
<line x1="236.8" y1="256.31" x2="240.4" y2="256.31" stroke="#3a3a3a" stroke-width="0.85"/>
<line x1="236.8" y1="259.86" x2="240.4" y2="259.86" stroke="#3a3a3a" stroke-width="0.85"/>
<rect x="236.9" y="256.39" width="3.4" height="3.4" fill="#3a3a3a" stroke="none" stroke-width="0"/>
<line x1="248.38" y1="257.2" x2="248.38" y2="260.74" stroke="#3a3a3a" stroke-width="0.85"/>
<line x1="246.58" y1="257.2" x2="250.18" y2="257.2" stroke="#3a3a3a" stroke-width="0.85"/>
<line x1="246.58" y1="260.74" x2="250.18" y2="260.74" stroke="#3a3a3a" stroke-width="0.85"/>
<rect x="246.68" y="257.27" width="3.4" height="3.4" fill="#3a3a3a" stroke="none" stroke-width="0"/>
<line x1="259.1" y1="265.17" x2="259.1" y2="268.72" stroke="#3a3a3a" stroke-width="0.85"/>
<line x1="257.3" y1="265.17" x2="260.9" y2="265.17" stroke="#3a3a3a" stroke-width="0.85"/>
<line x1="257.3" y1="268.72" x2="260.9" y2="268.72" stroke="#3a3a3a" stroke-width="0.85"/>
<rect x="257.4" y="265.25" width="3.4" height="3.4" fill="#3a3a3a" stroke="none" stroke-width="0"/>
<line x1="268.88" y1="289.98" x2="268.88" y2="293.53" stroke="#3a3a3a" stroke-width="0.85"/>
<line x1="267.08" y1="289.98" x2="270.68" y2="289.98" stroke="#3a3a3a" stroke-width="0.85"/>
<line x1="267.08" y1="293.53" x2="270.68" y2="293.53" stroke="#3a3a3a" stroke-width="0.85"/>
<rect x="267.18" y="290.05" width="3.4" height="3.4" fill="#3a3a3a" stroke="none" stroke-width="0"/>
<line x1="279.6" y1="308.59" x2="279.6" y2="312.13" stroke="#3a3a3a" stroke-width="0.85"/>
<line x1="277.8" y1="308.59" x2="281.4" y2="308.59" stroke="#3a3a3a" stroke-width="0.85"/>
<line x1="277.8" y1="312.13" x2="281.4" y2="312.13" stroke="#3a3a3a" stroke-width="0.85"/>
<rect x="277.9" y="308.66" width="3.4" height="3.4" fill="#3a3a3a" stroke="none" stroke-width="0"/>
<line x1="289.38" y1="333.4" x2="289.38" y2="336.94" stroke="#3a3a3a" stroke-width="0.85"/>
<line x1="287.58" y1="333.4" x2="291.18" y2="333.4" stroke="#3a3a3a" stroke-width="0.85"/>
<line x1="287.58" y1="336.94" x2="291.18" y2="336.94" stroke="#3a3a3a" stroke-width="0.85"/>
<rect x="287.68" y="333.47" width="3.4" height="3.4" fill="#3a3a3a" stroke="none" stroke-width="0"/>
<line x1="300.1" y1="336.94" x2="300.1" y2="340.48" stroke="#3a3a3a" stroke-width="0.85"/>
<line x1="298.3" y1="336.94" x2="301.9" y2="336.94" stroke="#3a3a3a" stroke-width="0.85"/>
<line x1="298.3" y1="340.48" x2="301.9" y2="340.48" stroke="#3a3a3a" stroke-width="0.85"/>
<rect x="298.4" y="337.01" width="3.4" height="3.4" fill="#3a3a3a" stroke="none" stroke-width="0"/>
<rect x="203.2" y="255.6" width="3.2" height="3.2" fill="#222" stroke="none" stroke-width="0"/>
<line x1="288.7" y1="217.1" x2="297.3" y2="217.1" stroke="#333" stroke-width="0.9"/>
<circle cx="293" cy="217.1" r="1.65" fill="#333"/>
<text x="301.8" y="219.49" font-size="6.65" fill="#777">H3122</text>
<line x1="288.7" y1="226" x2="297.3" y2="226" stroke="#444" stroke-width="0.9"/>
<rect x="291.35" y="224.35" width="3.3" height="3.3" fill="#444" stroke="none" stroke-width="0"/>
<text x="301.8" y="228.39" font-size="6.65" fill="#777">H3122 CHR-A1</text>
<line x1="288.7" y1="235.1" x2="297.3" y2="235.1" stroke="#444" stroke-width="0.9" stroke-dasharray="1.6,1.4"/>
<path d="M293 233.2L294.81 236.42L291.19 236.42Z" stroke="#444" stroke-width="0.85" fill="#fff"/>
<text x="301.8" y="237.49" font-size="6.65" fill="#777">A549</text>
<line x1="288.7" y1="244" x2="297.3" y2="244" stroke="#444" stroke-width="0.9" stroke-dasharray="1,1.2"/>
<circle cx="293" cy="244" r="1.48" fill="#fff" stroke="#444" stroke-width="0.85"/>
<text x="301.8" y="246.39" font-size="6.65" fill="#777">H460</text>
<line x1="288.7" y1="252.9" x2="297.3" y2="252.9" stroke="#555" stroke-width="0.9" stroke-dasharray="0.8,1.2"/>
<path d="M293 254.8L294.81 251.58L291.19 251.58Z" stroke="#555" stroke-width="0.85" fill="#fff"/>
<text x="301.8" y="255.29" font-size="6.65" fill="#777">HCC827</text>
<line x1="288.7" y1="261.8" x2="297.3" y2="261.8" stroke="#555" stroke-width="0.9" stroke-dasharray="0.8,1.4"/>
<path d="M293 259.66L294.81 261.8L293 263.94L291.19 261.8Z" stroke="#555" stroke-width="0.85" fill="#fff"/>
<text x="301.8" y="264.19" font-size="6.65" fill="#777">PC-9</text>
<text x="418.8" y="204.3" font-size="7.45" font-weight="bold" stroke="#111" stroke-width="0.3" text-anchor="middle" fill="#111">Ceritinib (LDK378)</text>
<line x1="367.8" y1="229.2" x2="367.8" y2="347" stroke="#222" stroke-width="1"/>
<line x1="365.8" y1="344.9" x2="367.8" y2="344.9" stroke="#222" stroke-width="0.8"/>
<text x="366" y="347.06" font-size="6" font-weight="bold" stroke="#222" stroke-width="0.3" text-anchor="end" fill="#222">0</text>
<line x1="365.8" y1="300.65" x2="367.8" y2="300.65" stroke="#222" stroke-width="0.8"/>
<text x="366" y="302.81" font-size="6" font-weight="bold" stroke="#222" stroke-width="0.3" text-anchor="end" fill="#222">50</text>
<line x1="365.8" y1="256.4" x2="367.8" y2="256.4" stroke="#222" stroke-width="0.8"/>
<text x="366" y="258.56" font-size="6" font-weight="bold" stroke="#222" stroke-width="0.3" text-anchor="end" fill="#222">100</text>
<line x1="367.8" y1="344.9" x2="373" y2="344.9" stroke="#222" stroke-width="1"/>
<line x1="373" y1="343.6" x2="373" y2="346.2" stroke="#222" stroke-width="0.7"/>
<line x1="378.8" y1="344.9" x2="467.5" y2="344.9" stroke="#222" stroke-width="1"/>
<line x1="378.8" y1="343.6" x2="378.8" y2="346.2" stroke="#222" stroke-width="0.7"/>
<line x1="367.8" y1="344.9" x2="367.8" y2="346.5" stroke="#222" stroke-width="0.8"/>
<text x="367.8" y="354.06" font-size="6" font-weight="bold" stroke="#222" stroke-width="0.3" text-anchor="middle" fill="#222">0</text>
<line x1="385" y1="344.9" x2="385" y2="346.9" stroke="#222" stroke-width="0.9"/>
<text x="385" y="354.06" font-size="6" font-weight="bold" stroke="#222" stroke-width="0.3" text-anchor="middle" fill="#222">1</text>
<line x1="404.45" y1="344.9" x2="404.45" y2="346.9" stroke="#222" stroke-width="0.9"/>
<text x="404.45" y="354.06" font-size="6" font-weight="bold" stroke="#222" stroke-width="0.3" text-anchor="middle" fill="#222">10</text>
<line x1="423.9" y1="344.9" x2="423.9" y2="346.9" stroke="#222" stroke-width="0.9"/>
<text x="423.9" y="354.06" font-size="6" font-weight="bold" stroke="#222" stroke-width="0.3" text-anchor="middle" fill="#222">100</text>
<line x1="443.35" y1="344.9" x2="443.35" y2="346.9" stroke="#222" stroke-width="0.9"/>
<text x="443.35" y="354.06" font-size="6" font-weight="bold" stroke="#222" stroke-width="0.3" text-anchor="middle" fill="#222">1,000</text>
<line x1="462.8" y1="344.9" x2="462.8" y2="346.9" stroke="#222" stroke-width="0.9"/>
<text x="462.8" y="354.06" font-size="6" font-weight="bold" stroke="#222" stroke-width="0.3" text-anchor="middle" fill="#222">10,000</text>
<line x1="379.14" y1="344.9" x2="379.14" y2="345.8" stroke="#222" stroke-width="0.4"/>
<line x1="380.69" y1="344.9" x2="380.69" y2="345.8" stroke="#222" stroke-width="0.4"/>
<line x1="381.99" y1="344.9" x2="381.99" y2="345.8" stroke="#222" stroke-width="0.4"/>
<line x1="383.12" y1="344.9" x2="383.12" y2="345.8" stroke="#222" stroke-width="0.4"/>
<line x1="384.11" y1="344.9" x2="384.11" y2="345.8" stroke="#222" stroke-width="0.4"/>
<line x1="390.86" y1="344.9" x2="390.86" y2="345.8" stroke="#222" stroke-width="0.4"/>
<line x1="394.28" y1="344.9" x2="394.28" y2="345.8" stroke="#222" stroke-width="0.4"/>
<line x1="396.71" y1="344.9" x2="396.71" y2="345.8" stroke="#222" stroke-width="0.4"/>
<line x1="398.59" y1="344.9" x2="398.59" y2="345.8" stroke="#222" stroke-width="0.4"/>
<line x1="400.14" y1="344.9" x2="400.14" y2="345.8" stroke="#222" stroke-width="0.4"/>
<line x1="401.44" y1="344.9" x2="401.44" y2="345.8" stroke="#222" stroke-width="0.4"/>
<line x1="402.57" y1="344.9" x2="402.57" y2="345.8" stroke="#222" stroke-width="0.4"/>
<line x1="403.56" y1="344.9" x2="403.56" y2="345.8" stroke="#222" stroke-width="0.4"/>
<line x1="410.31" y1="344.9" x2="410.31" y2="345.8" stroke="#222" stroke-width="0.4"/>
<line x1="413.73" y1="344.9" x2="413.73" y2="345.8" stroke="#222" stroke-width="0.4"/>
<line x1="416.16" y1="344.9" x2="416.16" y2="345.8" stroke="#222" stroke-width="0.4"/>
<line x1="418.04" y1="344.9" x2="418.04" y2="345.8" stroke="#222" stroke-width="0.4"/>
<line x1="419.59" y1="344.9" x2="419.59" y2="345.8" stroke="#222" stroke-width="0.4"/>
<line x1="420.89" y1="344.9" x2="420.89" y2="345.8" stroke="#222" stroke-width="0.4"/>
<line x1="422.02" y1="344.9" x2="422.02" y2="345.8" stroke="#222" stroke-width="0.4"/>
<line x1="423.01" y1="344.9" x2="423.01" y2="345.8" stroke="#222" stroke-width="0.4"/>
<line x1="429.76" y1="344.9" x2="429.76" y2="345.8" stroke="#222" stroke-width="0.4"/>
<line x1="433.18" y1="344.9" x2="433.18" y2="345.8" stroke="#222" stroke-width="0.4"/>
<line x1="435.61" y1="344.9" x2="435.61" y2="345.8" stroke="#222" stroke-width="0.4"/>
<line x1="437.49" y1="344.9" x2="437.49" y2="345.8" stroke="#222" stroke-width="0.4"/>
<line x1="439.04" y1="344.9" x2="439.04" y2="345.8" stroke="#222" stroke-width="0.4"/>
<line x1="440.34" y1="344.9" x2="440.34" y2="345.8" stroke="#222" stroke-width="0.4"/>
<line x1="441.47" y1="344.9" x2="441.47" y2="345.8" stroke="#222" stroke-width="0.4"/>
<line x1="442.46" y1="344.9" x2="442.46" y2="345.8" stroke="#222" stroke-width="0.4"/>
<line x1="449.21" y1="344.9" x2="449.21" y2="345.8" stroke="#222" stroke-width="0.4"/>
<line x1="452.63" y1="344.9" x2="452.63" y2="345.8" stroke="#222" stroke-width="0.4"/>
<line x1="455.06" y1="344.9" x2="455.06" y2="345.8" stroke="#222" stroke-width="0.4"/>
<line x1="456.94" y1="344.9" x2="456.94" y2="345.8" stroke="#222" stroke-width="0.4"/>
<line x1="458.49" y1="344.9" x2="458.49" y2="345.8" stroke="#222" stroke-width="0.4"/>
<line x1="459.79" y1="344.9" x2="459.79" y2="345.8" stroke="#222" stroke-width="0.4"/>
<line x1="460.92" y1="344.9" x2="460.92" y2="345.8" stroke="#222" stroke-width="0.4"/>
<line x1="461.91" y1="344.9" x2="461.91" y2="345.8" stroke="#222" stroke-width="0.4"/>
<text x="352" y="289" font-size="7.02" font-weight="bold" stroke="#111" stroke-width="0.3" text-anchor="middle" fill="#111" transform="rotate(-90 352 289)">Relative cell viability (% of control)</text>
<text x="424.2" y="367.4" font-size="7" font-weight="bold" stroke="#111" stroke-width="0.3" text-anchor="middle" fill="#111">Concentration (nmol/L)</text>
<line x1="385" y1="239.58" x2="385" y2="273.21" stroke="#999" stroke-width="0.7"/>
<line x1="383.6" y1="239.58" x2="386.4" y2="239.58" stroke="#999" stroke-width="0.7"/>
<line x1="383.6" y1="273.21" x2="386.4" y2="273.21" stroke="#999" stroke-width="0.7"/>
<circle cx="385" cy="256.4" r="0.01" fill="#999"/>
<line x1="385" y1="246.66" x2="385" y2="276.75" stroke="#999" stroke-width="0.7"/>
<line x1="383.6" y1="246.66" x2="386.4" y2="246.66" stroke="#999" stroke-width="0.7"/>
<line x1="383.6" y1="276.75" x2="386.4" y2="276.75" stroke="#999" stroke-width="0.7"/>
<circle cx="385" cy="261.71" r="0.01" fill="#999"/>
<line x1="394.28" y1="239.58" x2="394.28" y2="273.21" stroke="#999" stroke-width="0.7"/>
<line x1="392.88" y1="239.58" x2="395.68" y2="239.58" stroke="#999" stroke-width="0.7"/>
<line x1="392.88" y1="273.21" x2="395.68" y2="273.21" stroke="#999" stroke-width="0.7"/>
<circle cx="394.28" cy="256.4" r="0.01" fill="#999"/>
<line x1="394.28" y1="246.66" x2="394.28" y2="276.75" stroke="#999" stroke-width="0.7"/>
<line x1="392.88" y1="246.66" x2="395.68" y2="246.66" stroke="#999" stroke-width="0.7"/>
<line x1="392.88" y1="276.75" x2="395.68" y2="276.75" stroke="#999" stroke-width="0.7"/>
<circle cx="394.28" cy="261.71" r="0.01" fill="#999"/>
<line x1="404.45" y1="239.58" x2="404.45" y2="273.21" stroke="#999" stroke-width="0.7"/>
<line x1="403.05" y1="239.58" x2="405.85" y2="239.58" stroke="#999" stroke-width="0.7"/>
<line x1="403.05" y1="273.21" x2="405.85" y2="273.21" stroke="#999" stroke-width="0.7"/>
<circle cx="404.45" cy="256.4" r="0.01" fill="#999"/>
<line x1="404.45" y1="246.66" x2="404.45" y2="276.75" stroke="#999" stroke-width="0.7"/>
<line x1="403.05" y1="246.66" x2="405.85" y2="246.66" stroke="#999" stroke-width="0.7"/>
<line x1="403.05" y1="276.75" x2="405.85" y2="276.75" stroke="#999" stroke-width="0.7"/>
<circle cx="404.45" cy="261.71" r="0.01" fill="#999"/>
<line x1="413.73" y1="239.58" x2="413.73" y2="273.21" stroke="#999" stroke-width="0.7"/>
<line x1="412.33" y1="239.58" x2="415.13" y2="239.58" stroke="#999" stroke-width="0.7"/>
<line x1="412.33" y1="273.21" x2="415.13" y2="273.21" stroke="#999" stroke-width="0.7"/>
<circle cx="413.73" cy="256.4" r="0.01" fill="#999"/>
<line x1="413.73" y1="246.66" x2="413.73" y2="276.75" stroke="#999" stroke-width="0.7"/>
<line x1="412.33" y1="246.66" x2="415.13" y2="246.66" stroke="#999" stroke-width="0.7"/>
<line x1="412.33" y1="276.75" x2="415.13" y2="276.75" stroke="#999" stroke-width="0.7"/>
<circle cx="413.73" cy="261.71" r="0.01" fill="#999"/>
<line x1="423.9" y1="239.58" x2="423.9" y2="273.21" stroke="#999" stroke-width="0.7"/>
<line x1="422.5" y1="239.58" x2="425.3" y2="239.58" stroke="#999" stroke-width="0.7"/>
<line x1="422.5" y1="273.21" x2="425.3" y2="273.21" stroke="#999" stroke-width="0.7"/>
<circle cx="423.9" cy="256.4" r="0.01" fill="#999"/>
<line x1="423.9" y1="246.66" x2="423.9" y2="276.75" stroke="#999" stroke-width="0.7"/>
<line x1="422.5" y1="246.66" x2="425.3" y2="246.66" stroke="#999" stroke-width="0.7"/>
<line x1="422.5" y1="276.75" x2="425.3" y2="276.75" stroke="#999" stroke-width="0.7"/>
<circle cx="423.9" cy="261.71" r="0.01" fill="#999"/>
<line x1="433.18" y1="239.58" x2="433.18" y2="273.21" stroke="#999" stroke-width="0.7"/>
<line x1="431.78" y1="239.58" x2="434.58" y2="239.58" stroke="#999" stroke-width="0.7"/>
<line x1="431.78" y1="273.21" x2="434.58" y2="273.21" stroke="#999" stroke-width="0.7"/>
<circle cx="433.18" cy="256.4" r="0.01" fill="#999"/>
<line x1="433.18" y1="246.66" x2="433.18" y2="276.75" stroke="#999" stroke-width="0.7"/>
<line x1="431.78" y1="246.66" x2="434.58" y2="246.66" stroke="#999" stroke-width="0.7"/>
<line x1="431.78" y1="276.75" x2="434.58" y2="276.75" stroke="#999" stroke-width="0.7"/>
<circle cx="433.18" cy="261.71" r="0.01" fill="#999"/>
<path d="M367.9 256.4 L369.11 256.4 L370.33 256.4 L371.54 256.4 L372.75 256.4 L373.97 256.4 L375.18 256.4 L376.4 256.4 L377.61 256.4 L378.82 256.4 L380.04 256.4 L381.25 256.4 L382.46 256.4 L383.68 256.4 L384.89 256.4 L386.11 256.4 L387.32 256.4 L388.53 256.4 L389.75 256.4 L390.96 256.4 L392.17 256.4 L393.39 256.4 L394.6 256.4 L395.82 256.4 L397.03 256.4 L398.24 256.4 L399.46 256.4 L400.67 256.4 L401.88 256.4 L403.1 256.4 L404.31 256.4 L405.53 256.4 L406.74 256.4 L407.95 256.4 L409.17 256.4 L410.38 256.4 L411.59 256.4 L412.81 256.4 L414.02 256.4 L415.24 256.4 L416.45 256.4 L417.66 256.4 L418.88 256.4 L420.09 256.41 L421.31 256.41 L422.52 256.42 L423.73 256.42 L424.95 256.44 L426.16 256.46 L427.37 256.49 L428.59 256.54 L429.8 256.61 L431.01 256.73 L432.23 256.9 L433.44 257.17 L434.66 257.58 L435.87 258.2 L437.08 259.14 L438.3 260.55 L439.51 262.64 L440.73 265.64 L441.94 269.87 L443.15 275.55 L444.37 282.8 L445.58 291.4 L446.79 300.8 L448.01 310.18 L449.22 318.75 L450.44 325.94 L451.65 331.58 L452.86 335.77 L454.08 338.74 L455.29 340.8 L456.5 342.19 L457.72 343.12 L458.93 343.74 L460.14 344.14 L461.36 344.4 L462.57 344.58 L463.79 344.69 L465 344.76" stroke="#333" stroke-width="0.9" fill="none" stroke-dasharray="2,1" stroke-linejoin="round"/>
<path d="M367.9 260.83 L369.11 260.83 L370.33 260.83 L371.54 260.83 L372.75 260.83 L373.97 260.83 L375.18 260.83 L376.4 260.83 L377.61 260.83 L378.82 260.83 L380.04 260.83 L381.25 260.83 L382.46 260.83 L383.68 260.83 L384.89 260.83 L386.11 260.83 L387.32 260.83 L388.53 260.83 L389.75 260.83 L390.96 260.83 L392.17 260.83 L393.39 260.83 L394.6 260.83 L395.82 260.83 L397.03 260.83 L398.24 260.83 L399.46 260.83 L400.67 260.83 L401.88 260.83 L403.1 260.83 L404.31 260.83 L405.53 260.83 L406.74 260.83 L407.95 260.83 L409.17 260.83 L410.38 260.83 L411.59 260.83 L412.81 260.83 L414.02 260.83 L415.24 260.83 L416.45 260.83 L417.66 260.83 L418.88 260.84 L420.09 260.84 L421.31 260.85 L422.52 260.86 L423.73 260.88 L424.95 260.92 L426.16 260.97 L427.37 261.04 L428.59 261.16 L429.8 261.34 L431.01 261.61 L432.23 262.02 L433.44 262.66 L434.66 263.61 L435.87 265.04 L437.08 267.14 L438.3 270.16 L439.51 274.38 L440.73 280.02 L441.94 287.12 L443.15 295.46 L444.37 304.44 L445.58 313.28 L446.79 321.23 L448.01 327.84 L449.22 332.97 L450.44 336.74 L451.65 339.41 L452.86 341.25 L454.08 342.49 L455.29 343.32 L456.5 343.87 L457.72 344.23 L458.93 344.46 L460.14 344.61 L461.36 344.71 L462.57 344.78 L463.79 344.82 L465 344.85" stroke="#444" stroke-width="0.9" fill="none" stroke-dasharray="2.2,1" stroke-linejoin="round"/>
<path d="M367.9 256.4 L369.11 256.4 L370.33 256.4 L371.54 256.4 L372.75 256.4 L373.97 256.4 L375.18 256.4 L376.4 256.4 L377.61 256.4 L378.82 256.4 L380.04 256.4 L381.25 256.4 L382.46 256.4 L383.68 256.4 L384.89 256.4 L386.11 256.4 L387.32 256.4 L388.53 256.4 L389.75 256.4 L390.96 256.4 L392.17 256.4 L393.39 256.4 L394.6 256.4 L395.82 256.4 L397.03 256.4 L398.24 256.4 L399.46 256.4 L400.67 256.4 L401.88 256.4 L403.1 256.4 L404.31 256.4 L405.53 256.4 L406.74 256.4 L407.95 256.4 L409.17 256.4 L410.38 256.4 L411.59 256.4 L412.81 256.4 L414.02 256.4 L415.24 256.4 L416.45 256.4 L417.66 256.4 L418.88 256.4 L420.09 256.4 L421.31 256.4 L422.52 256.4 L423.73 256.4 L424.95 256.4 L426.16 256.41 L427.37 256.41 L428.59 256.42 L429.8 256.43 L431.01 256.45 L432.23 256.48 L433.44 256.53 L434.66 256.61 L435.87 256.75 L437.08 256.98 L438.3 257.35 L439.51 257.97 L440.73 258.96 L441.94 260.55 L443.15 263.06 L444.37 266.9 L445.58 272.52 L446.79 280.22 L448.01 289.89 L449.22 300.8 L450.44 311.69 L451.65 321.32 L452.86 328.96 L454.08 334.52 L455.29 338.32 L456.5 340.8 L457.72 342.37 L458.93 343.35 L460.14 343.96 L461.36 344.33 L462.57 344.55 L463.79 344.69 L465 344.77" stroke="#444" stroke-width="0.9" fill="none" stroke-dasharray="1,1" stroke-linejoin="round"/>
<path d="M367.9 252.86 L369.11 252.86 L370.33 252.86 L371.54 252.86 L372.75 252.86 L373.97 252.86 L375.18 252.86 L376.4 252.86 L377.61 252.86 L378.82 252.86 L380.04 252.86 L381.25 252.86 L382.46 252.86 L383.68 252.86 L384.89 252.86 L386.11 252.86 L387.32 252.86 L388.53 252.86 L389.75 252.86 L390.96 252.86 L392.17 252.86 L393.39 252.86 L394.6 252.86 L395.82 252.86 L397.03 252.86 L398.24 252.86 L399.46 252.86 L400.67 252.86 L401.88 252.86 L403.1 252.86 L404.31 252.86 L405.53 252.86 L406.74 252.86 L407.95 252.86 L409.17 252.86 L410.38 252.86 L411.59 252.86 L412.81 252.86 L414.02 252.86 L415.24 252.86 L416.45 252.86 L417.66 252.86 L418.88 252.86 L420.09 252.86 L421.31 252.86 L422.52 252.87 L423.73 252.87 L424.95 252.88 L426.16 252.89 L427.37 252.92 L428.59 252.95 L429.8 253.01 L431.01 253.11 L432.23 253.28 L433.44 253.55 L434.66 253.99 L435.87 254.72 L437.08 255.9 L438.3 257.78 L439.51 260.72 L440.73 265.17 L441.94 271.57 L443.15 280.17 L444.37 290.69 L445.58 302.16 L446.79 313.25 L448.01 322.75 L449.22 330.09 L450.44 335.34 L451.65 338.87 L452.86 341.16 L454.08 342.6 L455.29 343.49 L456.5 344.04 L457.72 344.38 L458.93 344.59 L460.14 344.71 L461.36 344.78 L462.57 344.83 L463.79 344.86 L465 344.87" stroke="#555" stroke-width="0.9" fill="none" stroke-dasharray="1,1" stroke-linejoin="round"/>
<path d="M378.6 277.98 L379.68 279.21 L380.76 280.49 L381.84 281.81 L382.92 283.17 L384 284.58 L385.08 286.02 L386.16 287.5 L387.24 289.01 L388.32 290.55 L389.4 292.12 L390.48 293.71 L391.56 295.32 L392.64 296.94 L393.72 298.58 L394.8 300.22 L395.88 301.86 L396.96 303.49 L398.04 305.12 L399.12 306.74 L400.2 308.34 L401.28 309.92 L402.36 311.48 L403.44 313.01 L404.52 314.5 L405.6 315.96 L406.68 317.39 L407.76 318.78 L408.84 320.12 L409.92 321.42 L411 322.68 L412.08 323.89 L413.16 325.05 L414.24 326.17 L415.32 327.24 L416.4 328.27 L417.48 329.25 L418.56 330.18 L419.64 331.07 L420.72 331.91 L421.8 332.71 L422.88 333.47 L423.96 334.19 L425.04 334.87 L426.12 335.51 L427.2 336.11 L428.28 336.68 L429.36 337.22 L430.44 337.72 L431.52 338.2 L432.6 338.64 L433.68 339.06 L434.76 339.45 L435.84 339.82 L436.92 340.16 L438 340.48 L439.08 340.79 L440.16 341.07 L441.24 341.33 L442.32 341.58 L443.4 341.8 L444.48 342.02 L445.56 342.22 L446.64 342.4 L447.72 342.58 L448.8 342.74 L449.88 342.89 L450.96 343.03 L452.04 343.16 L453.12 343.28 L454.2 343.4 L455.28 343.5 L456.36 343.6 L457.44 343.69 L458.52 343.78 L459.6 343.86 L460.68 343.93 L461.76 344 L462.84 344.06 L463.92 344.12 L465 344.18" stroke="#333" stroke-width="1.35" fill="none" stroke-linejoin="round"/>
<path d="M378.6 292.26 L379.68 293.49 L380.76 294.74 L381.84 295.99 L382.92 297.26 L384 298.52 L385.08 299.8 L386.16 301.07 L387.24 302.34 L388.32 303.61 L389.4 304.87 L390.48 306.13 L391.56 307.38 L392.64 308.62 L393.72 309.84 L394.8 311.05 L395.88 312.25 L396.96 313.42 L398.04 314.58 L399.12 315.72 L400.2 316.83 L401.28 317.92 L402.36 318.99 L403.44 320.03 L404.52 321.05 L405.6 322.04 L406.68 323 L407.76 323.93 L408.84 324.84 L409.92 325.72 L411 326.57 L412.08 327.39 L413.16 328.18 L414.24 328.95 L415.32 329.69 L416.4 330.4 L417.48 331.08 L418.56 331.74 L419.64 332.37 L420.72 332.98 L421.8 333.56 L422.88 334.12 L423.96 334.65 L425.04 335.16 L426.12 335.65 L427.2 336.11 L428.28 336.56 L429.36 336.98 L430.44 337.39 L431.52 337.77 L432.6 338.14 L433.68 338.49 L434.76 338.83 L435.84 339.14 L436.92 339.45 L438 339.73 L439.08 340.01 L440.16 340.27 L441.24 340.51 L442.32 340.75 L443.4 340.97 L444.48 341.18 L445.56 341.38 L446.64 341.57 L447.72 341.75 L448.8 341.92 L449.88 342.08 L450.96 342.23 L452.04 342.38 L453.12 342.51 L454.2 342.64 L455.28 342.77 L456.36 342.88 L457.44 342.99 L458.52 343.1 L459.6 343.2 L460.68 343.29 L461.76 343.38 L462.84 343.46 L463.92 343.54 L465 343.62" stroke="#222" stroke-width="1.35" fill="none" stroke-linejoin="round"/>
<line x1="367.8" y1="256.5" x2="373.8" y2="270.4" stroke="#333" stroke-width="1.2"/>
<line x1="368.5" y1="258.5" x2="373.5" y2="262.5" stroke="#444" stroke-width="1"/>
<line x1="385" y1="282.95" x2="385" y2="288.26" stroke="#444" stroke-width="0.85"/>
<line x1="383.2" y1="282.95" x2="386.8" y2="282.95" stroke="#444" stroke-width="0.85"/>
<line x1="383.2" y1="288.26" x2="386.8" y2="288.26" stroke="#444" stroke-width="0.85"/>
<rect x="383.55" y="284.15" width="2.9" height="2.9" fill="#444" stroke="none" stroke-width="0"/>
<line x1="394.28" y1="296.22" x2="394.28" y2="303.31" stroke="#444" stroke-width="0.85"/>
<line x1="392.48" y1="296.22" x2="396.08" y2="296.22" stroke="#444" stroke-width="0.85"/>
<line x1="392.48" y1="303.31" x2="396.08" y2="303.31" stroke="#444" stroke-width="0.85"/>
<rect x="392.83" y="298.31" width="2.9" height="2.9" fill="#444" stroke="none" stroke-width="0"/>
<line x1="404.45" y1="316.58" x2="404.45" y2="320.12" stroke="#444" stroke-width="0.85"/>
<line x1="402.65" y1="316.58" x2="406.25" y2="316.58" stroke="#444" stroke-width="0.85"/>
<line x1="402.65" y1="320.12" x2="406.25" y2="320.12" stroke="#444" stroke-width="0.85"/>
<rect x="403" y="316.9" width="2.9" height="2.9" fill="#444" stroke="none" stroke-width="0"/>
<line x1="413.73" y1="321" x2="413.73" y2="329.85" stroke="#444" stroke-width="0.85"/>
<line x1="411.93" y1="321" x2="415.53" y2="321" stroke="#444" stroke-width="0.85"/>
<line x1="411.93" y1="329.85" x2="415.53" y2="329.85" stroke="#444" stroke-width="0.85"/>
<rect x="412.28" y="323.98" width="2.9" height="2.9" fill="#444" stroke="none" stroke-width="0"/>
<line x1="423.9" y1="330.74" x2="423.9" y2="332.51" stroke="#444" stroke-width="0.85"/>
<line x1="422.1" y1="330.74" x2="425.7" y2="330.74" stroke="#444" stroke-width="0.85"/>
<line x1="422.1" y1="332.51" x2="425.7" y2="332.51" stroke="#444" stroke-width="0.85"/>
<rect x="422.45" y="330.18" width="2.9" height="2.9" fill="#444" stroke="none" stroke-width="0"/>
<line x1="433.18" y1="335.16" x2="433.18" y2="336.93" stroke="#444" stroke-width="0.85"/>
<line x1="431.38" y1="335.16" x2="434.98" y2="335.16" stroke="#444" stroke-width="0.85"/>
<line x1="431.38" y1="336.93" x2="434.98" y2="336.93" stroke="#444" stroke-width="0.85"/>
<rect x="431.73" y="334.6" width="2.9" height="2.9" fill="#444" stroke="none" stroke-width="0"/>
<line x1="443.35" y1="338.7" x2="443.35" y2="340.47" stroke="#444" stroke-width="0.85"/>
<line x1="441.55" y1="338.7" x2="445.15" y2="338.7" stroke="#444" stroke-width="0.85"/>
<line x1="441.55" y1="340.47" x2="445.15" y2="340.47" stroke="#444" stroke-width="0.85"/>
<rect x="441.9" y="338.14" width="2.9" height="2.9" fill="#444" stroke="none" stroke-width="0"/>
<rect x="451.18" y="341.68" width="2.9" height="2.9" fill="#444" stroke="none" stroke-width="0"/>
<rect x="461.35" y="343.45" width="2.9" height="2.9" fill="#444" stroke="none" stroke-width="0"/>
<line x1="385" y1="298.88" x2="385" y2="300.65" stroke="#222" stroke-width="0.85"/>
<line x1="383.2" y1="298.88" x2="386.8" y2="298.88" stroke="#222" stroke-width="0.85"/>
<line x1="383.2" y1="300.65" x2="386.8" y2="300.65" stroke="#222" stroke-width="0.85"/>
<circle cx="385" cy="299.76" r="1.45" fill="#222"/>
<line x1="394.28" y1="307.73" x2="394.28" y2="311.27" stroke="#222" stroke-width="0.85"/>
<line x1="392.48" y1="307.73" x2="396.08" y2="307.73" stroke="#222" stroke-width="0.85"/>
<line x1="392.48" y1="311.27" x2="396.08" y2="311.27" stroke="#222" stroke-width="0.85"/>
<circle cx="394.28" cy="309.5" r="1.45" fill="#222"/>
<line x1="404.45" y1="316.58" x2="404.45" y2="318.35" stroke="#222" stroke-width="0.85"/>
<line x1="402.65" y1="316.58" x2="406.25" y2="316.58" stroke="#222" stroke-width="0.85"/>
<line x1="402.65" y1="318.35" x2="406.25" y2="318.35" stroke="#222" stroke-width="0.85"/>
<circle cx="404.45" cy="317.46" r="1.45" fill="#222"/>
<line x1="413.73" y1="323.66" x2="413.73" y2="328.97" stroke="#222" stroke-width="0.85"/>
<line x1="411.93" y1="323.66" x2="415.53" y2="323.66" stroke="#222" stroke-width="0.85"/>
<line x1="411.93" y1="328.97" x2="415.53" y2="328.97" stroke="#222" stroke-width="0.85"/>
<circle cx="413.73" cy="326.31" r="1.45" fill="#222"/>
<line x1="423.9" y1="329.85" x2="423.9" y2="331.62" stroke="#222" stroke-width="0.85"/>
<line x1="422.1" y1="329.85" x2="425.7" y2="329.85" stroke="#222" stroke-width="0.85"/>
<line x1="422.1" y1="331.62" x2="425.7" y2="331.62" stroke="#222" stroke-width="0.85"/>
<circle cx="423.9" cy="330.74" r="1.45" fill="#222"/>
<line x1="433.18" y1="334.28" x2="433.18" y2="336.05" stroke="#222" stroke-width="0.85"/>
<line x1="431.38" y1="334.28" x2="434.98" y2="334.28" stroke="#222" stroke-width="0.85"/>
<line x1="431.38" y1="336.05" x2="434.98" y2="336.05" stroke="#222" stroke-width="0.85"/>
<circle cx="433.18" cy="335.16" r="1.45" fill="#222"/>
<line x1="443.35" y1="339.59" x2="443.35" y2="341.36" stroke="#222" stroke-width="0.85"/>
<line x1="441.55" y1="339.59" x2="445.15" y2="339.59" stroke="#222" stroke-width="0.85"/>
<line x1="441.55" y1="341.36" x2="445.15" y2="341.36" stroke="#222" stroke-width="0.85"/>
<circle cx="443.35" cy="340.47" r="1.45" fill="#222"/>
<circle cx="452.63" cy="344.01" r="1.45" fill="#222"/>
<circle cx="462.8" cy="344.9" r="1.45" fill="#222"/>
<path d="M385 253.73L386.7 256.75L383.3 256.75Z" stroke="#333" stroke-width="0.85" fill="#fff"/>
<path d="M394.28 256.39L395.99 259.41L392.58 259.41Z" stroke="#333" stroke-width="0.85" fill="#fff"/>
<path d="M404.45 255.5L406.15 258.52L402.75 258.52Z" stroke="#333" stroke-width="0.85" fill="#fff"/>
<path d="M413.73 256.39L415.44 259.41L412.03 259.41Z" stroke="#333" stroke-width="0.85" fill="#fff"/>
<path d="M423.9 257.27L425.6 260.29L422.19 260.29Z" stroke="#333" stroke-width="0.85" fill="#fff"/>
<path d="M433.18 262.58L434.89 265.61L431.48 265.61Z" stroke="#333" stroke-width="0.85" fill="#fff"/>
<path d="M443.35 288.25L445.06 291.27L441.65 291.27Z" stroke="#333" stroke-width="0.85" fill="#fff"/>
<path d="M452.63 323.65L454.34 326.67L450.93 326.67Z" stroke="#333" stroke-width="0.85" fill="#fff"/>
<path d="M462.8 343.12L464.5 346.14L461.1 346.14Z" stroke="#333" stroke-width="0.85" fill="#fff"/>
<circle cx="385" cy="259.94" r="1.4" fill="#fff" stroke="#333" stroke-width="0.85"/>
<circle cx="394.28" cy="268.79" r="1.4" fill="#fff" stroke="#333" stroke-width="0.85"/>
<circle cx="404.45" cy="262.59" r="1.4" fill="#fff" stroke="#333" stroke-width="0.85"/>
<circle cx="413.73" cy="259.94" r="1.4" fill="#fff" stroke="#333" stroke-width="0.85"/>
<circle cx="423.9" cy="257.28" r="1.4" fill="#fff" stroke="#333" stroke-width="0.85"/>
<circle cx="433.18" cy="269.67" r="1.4" fill="#fff" stroke="#333" stroke-width="0.85"/>
<circle cx="443.35" cy="296.22" r="1.4" fill="#fff" stroke="#333" stroke-width="0.85"/>
<circle cx="452.63" cy="343.13" r="1.4" fill="#fff" stroke="#333" stroke-width="0.85"/>
<circle cx="462.8" cy="344.9" r="1.4" fill="#fff" stroke="#333" stroke-width="0.85"/>
<path d="M385 257.3L386.7 254.27L383.3 254.27Z" stroke="#3a3a3a" stroke-width="0.85" fill="#fff"/>
<path d="M394.28 258.18L395.99 255.16L392.58 255.16Z" stroke="#3a3a3a" stroke-width="0.85" fill="#fff"/>
<path d="M404.45 258.18L406.15 255.16L402.75 255.16Z" stroke="#3a3a3a" stroke-width="0.85" fill="#fff"/>
<path d="M413.73 258.18L415.44 255.16L412.03 255.16Z" stroke="#3a3a3a" stroke-width="0.85" fill="#fff"/>
<path d="M423.9 257.3L425.6 254.27L422.19 254.27Z" stroke="#3a3a3a" stroke-width="0.85" fill="#fff"/>
<path d="M433.18 263.49L434.89 260.47L431.48 260.47Z" stroke="#3a3a3a" stroke-width="0.85" fill="#fff"/>
<path d="M443.35 275.88L445.06 272.86L441.65 272.86Z" stroke="#3a3a3a" stroke-width="0.85" fill="#fff"/>
<path d="M452.63 324.56L454.34 321.53L450.93 321.53Z" stroke="#3a3a3a" stroke-width="0.85" fill="#fff"/>
<line x1="385" y1="244.01" x2="385" y2="252.86" stroke="#222" stroke-width="0.85"/>
<line x1="383.2" y1="244.01" x2="386.8" y2="244.01" stroke="#222" stroke-width="0.85"/>
<line x1="383.2" y1="252.86" x2="386.8" y2="252.86" stroke="#222" stroke-width="0.85"/>
<path d="M385 246.35L386.76 248.43L385 250.51L383.24 248.43Z" stroke="#222" stroke-width="0.85" fill="#fff"/>
<line x1="394.28" y1="243.12" x2="394.28" y2="250.2" stroke="#222" stroke-width="0.85"/>
<line x1="392.48" y1="243.12" x2="396.08" y2="243.12" stroke="#222" stroke-width="0.85"/>
<line x1="392.48" y1="250.2" x2="396.08" y2="250.2" stroke="#222" stroke-width="0.85"/>
<path d="M394.28 244.58L396.04 246.66L394.28 248.74L392.52 246.66Z" stroke="#222" stroke-width="0.85" fill="#fff"/>
<line x1="404.45" y1="245.78" x2="404.45" y2="254.63" stroke="#222" stroke-width="0.85"/>
<line x1="402.65" y1="245.78" x2="406.25" y2="245.78" stroke="#222" stroke-width="0.85"/>
<line x1="402.65" y1="254.63" x2="406.25" y2="254.63" stroke="#222" stroke-width="0.85"/>
<path d="M404.45 248.12L406.21 250.2L404.45 252.28L402.69 250.2Z" stroke="#222" stroke-width="0.85" fill="#fff"/>
<line x1="413.73" y1="246.66" x2="413.73" y2="255.51" stroke="#222" stroke-width="0.85"/>
<line x1="411.93" y1="246.66" x2="415.53" y2="246.66" stroke="#222" stroke-width="0.85"/>
<line x1="411.93" y1="255.51" x2="415.53" y2="255.51" stroke="#222" stroke-width="0.85"/>
<path d="M413.73 249.01L415.49 251.09L413.73 253.17L411.97 251.09Z" stroke="#222" stroke-width="0.85" fill="#fff"/>
<line x1="423.9" y1="252.86" x2="423.9" y2="259.94" stroke="#222" stroke-width="0.85"/>
<line x1="422.1" y1="252.86" x2="425.7" y2="252.86" stroke="#222" stroke-width="0.85"/>
<line x1="422.1" y1="259.94" x2="425.7" y2="259.94" stroke="#222" stroke-width="0.85"/>
<path d="M423.9 254.32L425.66 256.4L423.9 258.48L422.14 256.4Z" stroke="#222" stroke-width="0.85" fill="#fff"/>
<line x1="433.18" y1="261.71" x2="433.18" y2="268.79" stroke="#222" stroke-width="0.85"/>
<line x1="431.38" y1="261.71" x2="434.98" y2="261.71" stroke="#222" stroke-width="0.85"/>
<line x1="431.38" y1="268.79" x2="434.98" y2="268.79" stroke="#222" stroke-width="0.85"/>
<path d="M433.18 263.17L434.94 265.25L433.18 267.33L431.42 265.25Z" stroke="#222" stroke-width="0.85" fill="#fff"/>
<line x1="443.35" y1="288.26" x2="443.35" y2="291.8" stroke="#222" stroke-width="0.85"/>
<line x1="441.55" y1="288.26" x2="445.15" y2="288.26" stroke="#222" stroke-width="0.85"/>
<line x1="441.55" y1="291.8" x2="445.15" y2="291.8" stroke="#222" stroke-width="0.85"/>
<path d="M443.35 287.95L445.11 290.03L443.35 292.11L441.59 290.03Z" stroke="#222" stroke-width="0.85" fill="#fff"/>
<path d="M452.63 341.94L454.39 344.01L452.63 346.09L450.87 344.01Z" stroke="#222" stroke-width="0.85" fill="#fff"/>
<circle cx="367.8" cy="256.4" r="1.6" fill="#222"/>
<line x1="446.1" y1="214.7" x2="454.7" y2="214.7" stroke="#444" stroke-width="0.9"/>
<rect x="448.75" y="213.05" width="3.3" height="3.3" fill="#444" stroke="none" stroke-width="0"/>
<text x="459.9" y="217.09" font-size="6.65" fill="#777">H3122 pt</text>
<line x1="446.1" y1="224.2" x2="454.7" y2="224.2" stroke="#333" stroke-width="0.9"/>
<circle cx="450.4" cy="224.2" r="1.65" fill="#333"/>
<text x="459.9" y="226.59" font-size="6.65" fill="#777">H3122 CHR-A1</text>
<line x1="446.1" y1="233.3" x2="454.7" y2="233.3" stroke="#444" stroke-width="0.9" stroke-dasharray="1.6,1.4"/>
<path d="M450.4 231.4L452.21 234.62L448.58 234.62Z" stroke="#444" stroke-width="0.85" fill="#fff"/>
<text x="459.9" y="235.69" font-size="6.65" fill="#777">A549</text>
<line x1="446.1" y1="242.4" x2="454.7" y2="242.4" stroke="#444" stroke-width="0.9" stroke-dasharray="1,1.2"/>
<circle cx="450.4" cy="242.4" r="1.48" fill="#fff" stroke="#444" stroke-width="0.85"/>
<text x="459.9" y="244.79" font-size="6.65" fill="#777">H460</text>
<line x1="446.1" y1="251.4" x2="454.7" y2="251.4" stroke="#555" stroke-width="0.9" stroke-dasharray="0.8,1.2"/>
<path d="M450.4 253.3L452.21 250.08L448.58 250.08Z" stroke="#555" stroke-width="0.85" fill="#fff"/>
<text x="459.9" y="253.79" font-size="6.65" fill="#777">HCC827</text>
<line x1="446.1" y1="260.5" x2="454.7" y2="260.5" stroke="#333" stroke-width="0.9" stroke-dasharray="0.8,1.4"/>
<path d="M450.4 258.36L452.21 260.5L450.4 262.64L448.58 260.5Z" stroke="#333" stroke-width="0.85" fill="#fff"/>
<text x="459.9" y="262.89" font-size="6.65" fill="#777">PC-9</text>
<text transform="translate(14.6 390.5) scale(0.86 1)" font-size="14.3" font-weight="bold" fill="#111" stroke="#111" stroke-width="0.2">C</text>
<text x="42" y="417.9" font-size="7.45" font-weight="bold" stroke="#111" stroke-width="0.3" text-anchor="end" fill="#111">nmol/L:</text>
<text x="38.4" y="430.9" font-size="7.35" font-weight="bold" stroke="#111" stroke-width="0.3" text-anchor="end" fill="#111">pALK</text>
<text x="38.4" y="449.1" font-size="7.35" font-weight="bold" stroke="#111" stroke-width="0.3" text-anchor="end" fill="#111">ALK</text>
<text x="38.4" y="466.4" font-size="7.35" font-weight="bold" stroke="#111" stroke-width="0.3" text-anchor="end" fill="#111">pAKT</text>
<text x="38.4" y="481.6" font-size="7.35" font-weight="bold" stroke="#111" stroke-width="0.3" text-anchor="end" fill="#111">AKT</text>
<text x="38.4" y="498.8" font-size="7.35" font-weight="bold" stroke="#111" stroke-width="0.3" text-anchor="end" fill="#111">pERK</text>
<text x="38.4" y="514.7" font-size="7.35" font-weight="bold" stroke="#111" stroke-width="0.3" text-anchor="end" fill="#111">ERK</text>
<text x="38.4" y="531.4" font-size="7.35" font-weight="bold" stroke="#111" stroke-width="0.3" text-anchor="end" fill="#111">pS6</text>
<text x="38.4" y="548.5" font-size="7.35" font-weight="bold" stroke="#111" stroke-width="0.3" text-anchor="end" fill="#111">S6</text>
<text x="38.4" y="563.4" font-size="7.35" font-weight="bold" stroke="#111" stroke-width="0.3" text-anchor="end" fill="#111">Actin</text>
<rect x="57.6" y="389.7" width="53.8" height="1.3" fill="#111" stroke="none" stroke-width="0"/>
<text x="83.6" y="387.9" font-size="7.45" font-weight="bold" stroke="#111" stroke-width="0.3" text-anchor="middle" fill="#111">H3122</text>
<rect x="124.2" y="389.7" width="62.6" height="1.3" fill="#111" stroke="none" stroke-width="0"/>
<text x="151" y="387.9" font-size="7.45" font-weight="bold" stroke="#111" stroke-width="0.3" text-anchor="middle" fill="#111">CHR-A1</text>
<text x="51.6" y="416.6" font-size="7.4" font-weight="bold" stroke="#111" stroke-width="0.3" fill="#111" transform="rotate(-90 51.6 416.6)">Non</text>
<text x="61.8" y="416.6" font-size="7.4" font-weight="bold" stroke="#111" stroke-width="0.3" fill="#111" transform="rotate(-90 61.8 416.6)">3</text>
<text x="72.3" y="416.6" font-size="7.4" font-weight="bold" stroke="#111" stroke-width="0.3" fill="#111" transform="rotate(-90 72.3 416.6)">10</text>
<text x="82.9" y="416.6" font-size="7.4" font-weight="bold" stroke="#111" stroke-width="0.3" fill="#111" transform="rotate(-90 82.9 416.6)">30</text>
<text x="93.1" y="416.6" font-size="7.4" font-weight="bold" stroke="#111" stroke-width="0.3" fill="#111" transform="rotate(-90 93.1 416.6)">100</text>
<text x="103.6" y="416.6" font-size="7.4" font-weight="bold" stroke="#111" stroke-width="0.3" fill="#111" transform="rotate(-90 103.6 416.6)">300</text>
<text x="114" y="416.6" font-size="7.4" font-weight="bold" stroke="#111" stroke-width="0.3" fill="#111" transform="rotate(-90 114 416.6)">1,000</text>
<text x="124.7" y="416.6" font-size="7.4" font-weight="bold" stroke="#111" stroke-width="0.3" fill="#111" transform="rotate(-90 124.7 416.6)">Non</text>
<text x="135.1" y="416.6" font-size="7.4" font-weight="bold" stroke="#111" stroke-width="0.3" fill="#111" transform="rotate(-90 135.1 416.6)">3</text>
<text x="145.5" y="416.6" font-size="7.4" font-weight="bold" stroke="#111" stroke-width="0.3" fill="#111" transform="rotate(-90 145.5 416.6)">10</text>
<text x="156.6" y="416.6" font-size="7.4" font-weight="bold" stroke="#111" stroke-width="0.3" fill="#111" transform="rotate(-90 156.6 416.6)">30</text>
<text x="167.2" y="416.6" font-size="7.4" font-weight="bold" stroke="#111" stroke-width="0.3" fill="#111" transform="rotate(-90 167.2 416.6)">100</text>
<text x="176.8" y="416.6" font-size="7.4" font-weight="bold" stroke="#111" stroke-width="0.3" fill="#111" transform="rotate(-90 176.8 416.6)">300</text>
<text x="186.7" y="416.6" font-size="7.4" font-weight="bold" stroke="#111" stroke-width="0.3" fill="#111" transform="rotate(-90 186.7 416.6)">1,000</text>
<text x="107" y="581.2" font-size="7.5" font-weight="bold" stroke="#111" stroke-width="0.3" text-anchor="middle" fill="#111">TAE684</text>
<rect x="211.6" y="389.7" width="53.1" height="1.3" fill="#111" stroke="none" stroke-width="0"/>
<text x="239.5" y="384.8" font-size="7.45" font-weight="bold" stroke="#111" stroke-width="0.3" text-anchor="middle" fill="#111">H3122</text>
<rect x="277.3" y="389.7" width="62.4" height="1.3" fill="#111" stroke="none" stroke-width="0"/>
<text x="306.4" y="384.8" font-size="7.45" font-weight="bold" stroke="#111" stroke-width="0.3" text-anchor="middle" fill="#111">CHR-A1</text>
<text x="203.9" y="416.6" font-size="7.4" font-weight="bold" stroke="#111" stroke-width="0.3" fill="#111" transform="rotate(-90 203.9 416.6)">Non</text>
<text x="216.1" y="416.6" font-size="7.4" font-weight="bold" stroke="#111" stroke-width="0.3" fill="#111" transform="rotate(-90 216.1 416.6)">10</text>
<text x="227.7" y="416.6" font-size="7.4" font-weight="bold" stroke="#111" stroke-width="0.3" fill="#111" transform="rotate(-90 227.7 416.6)">30</text>
<text x="239.6" y="416.6" font-size="7.4" font-weight="bold" stroke="#111" stroke-width="0.3" fill="#111" transform="rotate(-90 239.6 416.6)">100</text>
<text x="251.6" y="416.6" font-size="7.4" font-weight="bold" stroke="#111" stroke-width="0.3" fill="#111" transform="rotate(-90 251.6 416.6)">300</text>
<text x="263.4" y="416.6" font-size="7.4" font-weight="bold" stroke="#111" stroke-width="0.3" fill="#111" transform="rotate(-90 263.4 416.6)">1,000</text>
<text x="276.1" y="416.6" font-size="7.4" font-weight="bold" stroke="#111" stroke-width="0.3" fill="#111" transform="rotate(-90 276.1 416.6)">Non</text>
<text x="288.1" y="416.6" font-size="7.4" font-weight="bold" stroke="#111" stroke-width="0.3" fill="#111" transform="rotate(-90 288.1 416.6)">10</text>
<text x="300.3" y="416.6" font-size="7.4" font-weight="bold" stroke="#111" stroke-width="0.3" fill="#111" transform="rotate(-90 300.3 416.6)">30</text>
<text x="312.2" y="416.6" font-size="7.4" font-weight="bold" stroke="#111" stroke-width="0.3" fill="#111" transform="rotate(-90 312.2 416.6)">100</text>
<text x="324.4" y="416.6" font-size="7.4" font-weight="bold" stroke="#111" stroke-width="0.3" fill="#111" transform="rotate(-90 324.4 416.6)">300</text>
<text x="336.9" y="416.6" font-size="7.4" font-weight="bold" stroke="#111" stroke-width="0.3" fill="#111" transform="rotate(-90 336.9 416.6)">1,000</text>
<text x="258.6" y="581.2" font-size="7.5" font-weight="bold" stroke="#111" stroke-width="0.3" text-anchor="middle" fill="#111">Crizotinib</text>
<rect x="361.8" y="389.7" width="53.7" height="1.3" fill="#111" stroke="none" stroke-width="0"/>
<text x="387.9" y="386.1" font-size="7.45" font-weight="bold" stroke="#111" stroke-width="0.3" text-anchor="middle" fill="#111">H3122</text>
<rect x="428.2" y="389.7" width="63" height="1.3" fill="#111" stroke="none" stroke-width="0"/>
<text x="456.3" y="386.1" font-size="7.45" font-weight="bold" stroke="#111" stroke-width="0.3" text-anchor="middle" fill="#111">CHR-A1</text>
<text x="356.1" y="416.6" font-size="7.4" font-weight="bold" stroke="#111" stroke-width="0.3" fill="#111" transform="rotate(-90 356.1 416.6)">Non</text>
<text x="366.7" y="416.6" font-size="7.4" font-weight="bold" stroke="#111" stroke-width="0.3" fill="#111" transform="rotate(-90 366.7 416.6)">3</text>
<text x="377" y="416.6" font-size="7.4" font-weight="bold" stroke="#111" stroke-width="0.3" fill="#111" transform="rotate(-90 377 416.6)">10</text>
<text x="387.5" y="416.6" font-size="7.4" font-weight="bold" stroke="#111" stroke-width="0.3" fill="#111" transform="rotate(-90 387.5 416.6)">30</text>
<text x="397.9" y="416.6" font-size="7.4" font-weight="bold" stroke="#111" stroke-width="0.3" fill="#111" transform="rotate(-90 397.9 416.6)">100</text>
<text x="408.6" y="416.6" font-size="7.4" font-weight="bold" stroke="#111" stroke-width="0.3" fill="#111" transform="rotate(-90 408.6 416.6)">300</text>
<text x="419.3" y="416.6" font-size="7.4" font-weight="bold" stroke="#111" stroke-width="0.3" fill="#111" transform="rotate(-90 419.3 416.6)">1,000</text>
<text x="429.8" y="416.6" font-size="7.4" font-weight="bold" stroke="#111" stroke-width="0.3" fill="#111" transform="rotate(-90 429.8 416.6)">Non</text>
<text x="440.2" y="416.6" font-size="7.4" font-weight="bold" stroke="#111" stroke-width="0.3" fill="#111" transform="rotate(-90 440.2 416.6)">3</text>
<text x="450.9" y="416.6" font-size="7.4" font-weight="bold" stroke="#111" stroke-width="0.3" fill="#111" transform="rotate(-90 450.9 416.6)">10</text>
<text x="461.3" y="416.6" font-size="7.4" font-weight="bold" stroke="#111" stroke-width="0.3" fill="#111" transform="rotate(-90 461.3 416.6)">30</text>
<text x="471.7" y="416.6" font-size="7.4" font-weight="bold" stroke="#111" stroke-width="0.3" fill="#111" transform="rotate(-90 471.7 416.6)">100</text>
<text x="482.1" y="416.6" font-size="7.4" font-weight="bold" stroke="#111" stroke-width="0.3" fill="#111" transform="rotate(-90 482.1 416.6)">300</text>
<text x="492.6" y="416.6" font-size="7.4" font-weight="bold" stroke="#111" stroke-width="0.3" fill="#111" transform="rotate(-90 492.6 416.6)">1,000</text>
<text x="418.9" y="581.2" font-size="7.5" font-weight="bold" stroke="#111" stroke-width="0.3" text-anchor="middle" fill="#111">Ceritinib (LDK378)</text>
<rect x="43.4" y="502.8" width="146.9" height="1.8" fill="#808080" stroke="none" stroke-width="0"/>
<rect x="43.4" y="519.4" width="146.9" height="2.1" fill="#808080" stroke="none" stroke-width="0"/>
<rect x="43.4" y="536.3" width="146.9" height="1.5" fill="#808080" stroke="none" stroke-width="0"/>
<rect x="43.4" y="551.5" width="146.9" height="1.8" fill="#808080" stroke="none" stroke-width="0"/>
<linearGradient id="g347712782" x1="0" y1="0" x2="0" y2="1"><stop offset="0" stop-color="#dcdcdc"/><stop offset="0.15" stop-color="#eeeeee"/><stop offset="0.85" stop-color="#f0f0f0"/><stop offset="1" stop-color="#d8d8d8"/></linearGradient>
<rect x="43.4" y="418.3" width="146.9" height="16.8" fill="url(#g347712782)" stroke="none" stroke-width="0"/>
<rect x="43.47" y="424.29" width="10.85" height="4.62" rx="2.31" fill="#000" fill-opacity="1" filter="url(#bl)"/>
<rect x="53.67" y="424.33" width="10.85" height="4.54" rx="2.27" fill="#000" fill-opacity="1" filter="url(#bl)"/>
<rect x="65.31" y="424.74" width="8.58" height="3.73" rx="1.86" fill="#000" fill-opacity="0.6" filter="url(#bl)"/>
<rect x="76.79" y="425.03" width="6.82" height="3.14" rx="1.57" fill="#000" fill-opacity="0.04" filter="url(#bl)"/>
<rect x="86.99" y="425.03" width="6.82" height="3.14" rx="1.57" fill="#000" fill-opacity="0.04" filter="url(#bl)"/>
<rect x="97.49" y="425.03" width="6.82" height="3.14" rx="1.57" fill="#000" fill-opacity="0.04" filter="url(#bl)"/>
<rect x="107.89" y="425.03" width="6.82" height="3.14" rx="1.57" fill="#000" fill-opacity="0.04" filter="url(#bl)"/>
<rect x="116.57" y="424.29" width="10.85" height="4.62" rx="2.31" fill="#000" fill-opacity="1" filter="url(#bl)"/>
<rect x="127.11" y="424.41" width="10.58" height="4.39" rx="2.19" fill="#000" fill-opacity="1" filter="url(#bl)"/>
<rect x="138.6" y="424.77" width="8.4" height="3.67" rx="1.83" fill="#000" fill-opacity="0.55" filter="url(#bl)"/>
<rect x="150.51" y="425.04" width="6.77" height="3.13" rx="1.56" fill="#000" fill-opacity="0.03" filter="url(#bl)"/>
<rect x="161.11" y="425.04" width="6.77" height="3.13" rx="1.56" fill="#000" fill-opacity="0.03" filter="url(#bl)"/>
<rect x="170.71" y="425.04" width="6.77" height="3.13" rx="1.56" fill="#000" fill-opacity="0.03" filter="url(#bl)"/>
<rect x="180.61" y="425.04" width="6.77" height="3.13" rx="1.56" fill="#000" fill-opacity="0.03" filter="url(#bl)"/>
<linearGradient id="g161973069" x1="0" y1="0" x2="0" y2="1"><stop offset="0" stop-color="#dadada"/><stop offset="0.2" stop-color="#ebebeb"/><stop offset="0.85" stop-color="#efefef"/><stop offset="1" stop-color="#d5d5d5"/></linearGradient>
<rect x="43.4" y="437.3" width="146.9" height="14.3" fill="url(#g161973069)" stroke="none" stroke-width="0"/>
<rect x="43.61" y="443.3" width="10.58" height="2.59" rx="1.3" fill="#000" fill-opacity="1" filter="url(#bl)"/>
<rect x="53.93" y="443.33" width="10.35" height="2.55" rx="1.27" fill="#000" fill-opacity="1" filter="url(#bl)"/>
<rect x="64.54" y="443.35" width="10.11" height="2.5" rx="1.25" fill="#000" fill-opacity="0.98" filter="url(#bl)"/>
<rect x="75.72" y="443.46" width="8.95" height="2.27" rx="1.14" fill="#000" fill-opacity="0.69" filter="url(#bl)"/>
<rect x="85.92" y="443.46" width="8.95" height="2.27" rx="1.14" fill="#000" fill-opacity="0.69" filter="url(#bl)"/>
<rect x="96.42" y="443.46" width="8.95" height="2.27" rx="1.14" fill="#000" fill-opacity="0.69" filter="url(#bl)"/>
<rect x="106.71" y="443.44" width="9.19" height="2.32" rx="1.16" fill="#000" fill-opacity="0.75" filter="url(#bl)"/>
<rect x="116.94" y="443.35" width="10.11" height="2.5" rx="1.25" fill="#000" fill-opacity="0.98" filter="url(#bl)"/>
<rect x="127.11" y="443.3" width="10.58" height="2.59" rx="1.3" fill="#000" fill-opacity="1" filter="url(#bl)"/>
<rect x="137.51" y="443.3" width="10.58" height="2.59" rx="1.3" fill="#000" fill-opacity="1" filter="url(#bl)"/>
<rect x="149.19" y="443.42" width="9.42" height="2.37" rx="1.18" fill="#000" fill-opacity="0.81" filter="url(#bl)"/>
<rect x="159.51" y="443.36" width="9.98" height="2.48" rx="1.24" fill="#000" fill-opacity="0.95" filter="url(#bl)"/>
<rect x="169.16" y="443.37" width="9.88" height="2.46" rx="1.23" fill="#000" fill-opacity="0.92" filter="url(#bl)"/>
<rect x="179.11" y="443.38" width="9.79" height="2.44" rx="1.22" fill="#000" fill-opacity="0.9" filter="url(#bl)"/>
<linearGradient id="g423938499" x1="0" y1="0" x2="0" y2="1"><stop offset="0" stop-color="#e2e2e2"/><stop offset="0.2" stop-color="#f3f3f3"/><stop offset="0.85" stop-color="#f4f4f4"/><stop offset="1" stop-color="#dedede"/></linearGradient>
<rect x="43.4" y="453.6" width="146.9" height="14.3" fill="url(#g423938499)" stroke="none" stroke-width="0"/>
<rect x="44.54" y="459.83" width="8.72" height="2.74" rx="1.37" fill="#000" fill-opacity="0.63" filter="url(#bl)"/>
<rect x="54.51" y="459.77" width="9.19" height="2.86" rx="1.43" fill="#000" fill-opacity="0.75" filter="url(#bl)"/>
<rect x="65.59" y="459.91" width="8.03" height="2.58" rx="1.29" fill="#000" fill-opacity="0.45" filter="url(#bl)"/>
<rect x="76.79" y="460.06" width="6.82" height="2.28" rx="1.14" fill="#000" fill-opacity="0.04" filter="url(#bl)"/>
<rect x="87.01" y="460.06" width="6.77" height="2.27" rx="1.14" fill="#000" fill-opacity="0.03" filter="url(#bl)"/>
<rect x="97.51" y="460.06" width="6.77" height="2.27" rx="1.14" fill="#000" fill-opacity="0.03" filter="url(#bl)"/>
<rect x="107.91" y="460.06" width="6.77" height="2.27" rx="1.14" fill="#000" fill-opacity="0.03" filter="url(#bl)"/>
<rect x="117.06" y="459.69" width="9.88" height="3.02" rx="1.51" fill="#000" fill-opacity="0.92" filter="url(#bl)"/>
<rect x="126.97" y="459.52" width="10.85" height="3.36" rx="1.68" fill="#000" fill-opacity="1" filter="url(#bl)"/>
<rect x="137.37" y="459.52" width="10.85" height="3.36" rx="1.68" fill="#000" fill-opacity="1" filter="url(#bl)"/>
<rect x="149.89" y="459.91" width="8.03" height="2.58" rx="1.29" fill="#000" fill-opacity="0.45" filter="url(#bl)"/>
<rect x="160.6" y="459.94" width="7.79" height="2.52" rx="1.26" fill="#000" fill-opacity="0.38" filter="url(#bl)"/>
<rect x="170.55" y="460.02" width="7.1" height="2.35" rx="1.18" fill="#000" fill-opacity="0.09" filter="url(#bl)"/>
<rect x="180.5" y="460.04" width="7" height="2.33" rx="1.16" fill="#000" fill-opacity="0.07" filter="url(#bl)"/>
<linearGradient id="g698935572" x1="0" y1="0" x2="0" y2="1"><stop offset="0" stop-color="#e4e4e4"/><stop offset="0.2" stop-color="#f4f4f4"/><stop offset="0.85" stop-color="#f4f4f4"/><stop offset="1" stop-color="#dddddd"/></linearGradient>
<rect x="43.4" y="470.5" width="146.9" height="14.4" fill="url(#g698935572)" stroke="none" stroke-width="0"/>
<rect x="43.47" y="476.06" width="10.85" height="3.67" rx="1.84" fill="#000" fill-opacity="1" filter="url(#bl)"/>
<rect x="53.67" y="476.06" width="10.85" height="3.67" rx="1.84" fill="#000" fill-opacity="1" filter="url(#bl)"/>
<rect x="64.17" y="476.06" width="10.85" height="3.67" rx="1.84" fill="#000" fill-opacity="1" filter="url(#bl)"/>
<rect x="74.77" y="476.06" width="10.85" height="3.67" rx="1.84" fill="#000" fill-opacity="1" filter="url(#bl)"/>
<rect x="84.97" y="476.06" width="10.85" height="3.67" rx="1.84" fill="#000" fill-opacity="1" filter="url(#bl)"/>
<rect x="95.47" y="476.06" width="10.85" height="3.67" rx="1.84" fill="#000" fill-opacity="1" filter="url(#bl)"/>
<rect x="105.87" y="476.06" width="10.85" height="3.67" rx="1.84" fill="#000" fill-opacity="1" filter="url(#bl)"/>
<rect x="116.57" y="476.06" width="10.85" height="3.67" rx="1.84" fill="#000" fill-opacity="1" filter="url(#bl)"/>
<rect x="126.97" y="476.06" width="10.85" height="3.67" rx="1.84" fill="#000" fill-opacity="1" filter="url(#bl)"/>
<rect x="137.37" y="476.06" width="10.85" height="3.67" rx="1.84" fill="#000" fill-opacity="1" filter="url(#bl)"/>
<rect x="148.47" y="476.06" width="10.85" height="3.67" rx="1.84" fill="#000" fill-opacity="1" filter="url(#bl)"/>
<rect x="159.07" y="476.06" width="10.85" height="3.67" rx="1.84" fill="#000" fill-opacity="1" filter="url(#bl)"/>
<rect x="168.67" y="476.06" width="10.85" height="3.67" rx="1.84" fill="#000" fill-opacity="1" filter="url(#bl)"/>
<rect x="178.57" y="476.06" width="10.85" height="3.67" rx="1.84" fill="#000" fill-opacity="1" filter="url(#bl)"/>
<linearGradient id="g51847156" x1="0" y1="0" x2="0" y2="1"><stop offset="0" stop-color="#e6e6e6"/><stop offset="0.15" stop-color="#f6f6f6"/><stop offset="0.75" stop-color="#f3f3f3"/><stop offset="0.86" stop-color="#b8b8b8"/><stop offset="1" stop-color="#a8a8a8"/></linearGradient>
<rect x="43.4" y="487.3" width="146.9" height="15.5" fill="url(#g51847156)" stroke="none" stroke-width="0"/>
<rect x="44.54" y="495.39" width="8.72" height="2.23" rx="1.11" fill="#000" fill-opacity="0.63" filter="url(#bl)"/>
<rect x="53.93" y="495.23" width="10.35" height="2.55" rx="1.27" fill="#000" fill-opacity="1" filter="url(#bl)"/>
<rect x="64.84" y="495.31" width="9.51" height="2.38" rx="1.19" fill="#000" fill-opacity="0.83" filter="url(#bl)"/>
<rect x="76.42" y="495.5" width="7.56" height="2" rx="1" fill="#000" fill-opacity="0.32" filter="url(#bl)"/>
<rect x="86.9" y="495.55" width="7" height="1.89" rx="0.95" fill="#000" fill-opacity="0.07" filter="url(#bl)"/>
<rect x="97.47" y="495.57" width="6.86" height="1.87" rx="0.93" fill="#000" fill-opacity="0.05" filter="url(#bl)"/>
<rect x="107.87" y="495.57" width="6.86" height="1.87" rx="0.93" fill="#000" fill-opacity="0.05" filter="url(#bl)"/>
<rect x="116.57" y="496.26" width="10.85" height="2.68" rx="1.34" fill="#000" fill-opacity="1" filter="url(#bl)"/>
<rect x="127.92" y="496.46" width="8.95" height="2.27" rx="1.14" fill="#000" fill-opacity="0.69" filter="url(#bl)"/>
<rect x="138.44" y="496.49" width="8.72" height="2.23" rx="1.11" fill="#000" fill-opacity="0.63" filter="url(#bl)"/>
<rect x="150.24" y="496.62" width="7.33" height="1.96" rx="0.98" fill="#000" fill-opacity="0.25" filter="url(#bl)"/>
<rect x="160.91" y="496.64" width="7.19" height="1.93" rx="0.96" fill="#000" fill-opacity="0.11" filter="url(#bl)"/>
<rect x="170.55" y="496.64" width="7.1" height="1.91" rx="0.96" fill="#000" fill-opacity="0.09" filter="url(#bl)"/>
<rect x="180.45" y="496.64" width="7.1" height="1.91" rx="0.96" fill="#000" fill-opacity="0.09" filter="url(#bl)"/>
<rect x="116.98" y="493.99" width="10.05" height="2.02" rx="1.01" fill="#000" fill-opacity="0.55" filter="url(#bl)"/>
<rect x="127.38" y="494.14" width="10.05" height="1.72" rx="0.86" fill="#000" fill-opacity="0.2" filter="url(#bl)"/>
<rect x="137.78" y="494.16" width="10.05" height="1.67" rx="0.84" fill="#000" fill-opacity="0.15" filter="url(#bl)"/>
<linearGradient id="g77777868" x1="0" y1="0" x2="0" y2="1"><stop offset="0" stop-color="#dedede"/><stop offset="0.5" stop-color="#eeeeee"/><stop offset="0.8" stop-color="#f0f0f0"/><stop offset="0.9" stop-color="#b8b8b8"/><stop offset="1" stop-color="#a8a8a8"/></linearGradient>
<rect x="43.4" y="504.6" width="146.9" height="14.8" fill="url(#g77777868)" stroke="none" stroke-width="0"/>
<rect x="43.47" y="512.16" width="10.85" height="2.27" rx="1.14" fill="#000" fill-opacity="1" filter="url(#bl)"/>
<rect x="53.67" y="512.16" width="10.85" height="2.27" rx="1.14" fill="#000" fill-opacity="1" filter="url(#bl)"/>
<rect x="64.17" y="512.16" width="10.85" height="2.27" rx="1.14" fill="#000" fill-opacity="1" filter="url(#bl)"/>
<rect x="74.77" y="512.16" width="10.85" height="2.27" rx="1.14" fill="#000" fill-opacity="1" filter="url(#bl)"/>
<rect x="84.97" y="512.16" width="10.85" height="2.27" rx="1.14" fill="#000" fill-opacity="1" filter="url(#bl)"/>
<rect x="95.47" y="512.16" width="10.85" height="2.27" rx="1.14" fill="#000" fill-opacity="1" filter="url(#bl)"/>
<rect x="105.87" y="512.16" width="10.85" height="2.27" rx="1.14" fill="#000" fill-opacity="1" filter="url(#bl)"/>
<rect x="116.57" y="512.16" width="10.85" height="2.27" rx="1.14" fill="#000" fill-opacity="1" filter="url(#bl)"/>
<rect x="126.97" y="512.16" width="10.85" height="2.27" rx="1.14" fill="#000" fill-opacity="1" filter="url(#bl)"/>
<rect x="137.37" y="512.16" width="10.85" height="2.27" rx="1.14" fill="#000" fill-opacity="1" filter="url(#bl)"/>
<rect x="148.47" y="512.16" width="10.85" height="2.27" rx="1.14" fill="#000" fill-opacity="1" filter="url(#bl)"/>
<rect x="159.07" y="512.16" width="10.85" height="2.27" rx="1.14" fill="#000" fill-opacity="1" filter="url(#bl)"/>
<rect x="168.67" y="512.16" width="10.85" height="2.27" rx="1.14" fill="#000" fill-opacity="1" filter="url(#bl)"/>
<rect x="178.57" y="512.16" width="10.85" height="2.27" rx="1.14" fill="#000" fill-opacity="1" filter="url(#bl)"/>
<rect x="43.88" y="509.2" width="10.05" height="1.41" rx="0.7" fill="#000" fill-opacity="0.45" filter="url(#bl)"/>
<rect x="54.08" y="509.2" width="10.05" height="1.41" rx="0.7" fill="#000" fill-opacity="0.45" filter="url(#bl)"/>
<rect x="64.58" y="509.2" width="10.05" height="1.41" rx="0.7" fill="#000" fill-opacity="0.45" filter="url(#bl)"/>
<rect x="75.18" y="509.2" width="10.05" height="1.41" rx="0.7" fill="#000" fill-opacity="0.45" filter="url(#bl)"/>
<rect x="85.38" y="509.2" width="10.05" height="1.41" rx="0.7" fill="#000" fill-opacity="0.45" filter="url(#bl)"/>
<rect x="95.88" y="509.2" width="10.05" height="1.41" rx="0.7" fill="#000" fill-opacity="0.45" filter="url(#bl)"/>
<rect x="106.28" y="509.2" width="10.05" height="1.41" rx="0.7" fill="#000" fill-opacity="0.45" filter="url(#bl)"/>
<rect x="116.98" y="509.2" width="10.05" height="1.41" rx="0.7" fill="#000" fill-opacity="0.45" filter="url(#bl)"/>
<rect x="127.38" y="509.2" width="10.05" height="1.41" rx="0.7" fill="#000" fill-opacity="0.45" filter="url(#bl)"/>
<rect x="137.78" y="509.2" width="10.05" height="1.41" rx="0.7" fill="#000" fill-opacity="0.45" filter="url(#bl)"/>
<rect x="148.88" y="509.2" width="10.05" height="1.41" rx="0.7" fill="#000" fill-opacity="0.45" filter="url(#bl)"/>
<rect x="159.48" y="509.2" width="10.05" height="1.41" rx="0.7" fill="#000" fill-opacity="0.45" filter="url(#bl)"/>
<rect x="169.08" y="509.2" width="10.05" height="1.41" rx="0.7" fill="#000" fill-opacity="0.45" filter="url(#bl)"/>
<rect x="178.98" y="509.2" width="10.05" height="1.41" rx="0.7" fill="#000" fill-opacity="0.45" filter="url(#bl)"/>
<linearGradient id="g881836553" x1="0" y1="0" x2="0" y2="1"><stop offset="0" stop-color="#e8e8e8"/><stop offset="0.2" stop-color="#f6f6f6"/><stop offset="0.85" stop-color="#f4f4f4"/><stop offset="1" stop-color="#d0d0d0"/></linearGradient>
<rect x="43.4" y="521.5" width="146.9" height="14.8" fill="url(#g881836553)" stroke="none" stroke-width="0"/>
<rect x="43.47" y="526.4" width="10.85" height="3.99" rx="1.99" fill="#000" fill-opacity="1" filter="url(#bl)"/>
<rect x="53.67" y="526.4" width="10.85" height="3.99" rx="1.99" fill="#000" fill-opacity="1" filter="url(#bl)"/>
<rect x="64.17" y="526.44" width="10.85" height="3.92" rx="1.96" fill="#000" fill-opacity="1" filter="url(#bl)"/>
<rect x="76.7" y="527.02" width="7" height="2.77" rx="1.38" fill="#000" fill-opacity="0.07" filter="url(#bl)"/>
<rect x="86.97" y="527.04" width="6.86" height="2.73" rx="1.36" fill="#000" fill-opacity="0.05" filter="url(#bl)"/>
<rect x="97.47" y="527.04" width="6.86" height="2.73" rx="1.36" fill="#000" fill-opacity="0.05" filter="url(#bl)"/>
<rect x="107.87" y="527.04" width="6.86" height="2.73" rx="1.36" fill="#000" fill-opacity="0.05" filter="url(#bl)"/>
<rect x="116.57" y="526.4" width="10.85" height="3.99" rx="1.99" fill="#000" fill-opacity="1" filter="url(#bl)"/>
<rect x="126.97" y="526.44" width="10.85" height="3.92" rx="1.96" fill="#000" fill-opacity="1" filter="url(#bl)"/>
<rect x="137.37" y="526.44" width="10.85" height="3.92" rx="1.96" fill="#000" fill-opacity="1" filter="url(#bl)"/>
<rect x="149.89" y="526.87" width="8.03" height="3.06" rx="1.53" fill="#000" fill-opacity="0.45" filter="url(#bl)"/>
<rect x="160.91" y="526.99" width="7.19" height="2.82" rx="1.41" fill="#000" fill-opacity="0.11" filter="url(#bl)"/>
<rect x="170.6" y="527.02" width="7" height="2.77" rx="1.38" fill="#000" fill-opacity="0.07" filter="url(#bl)"/>
<rect x="180.5" y="527.02" width="7" height="2.77" rx="1.38" fill="#000" fill-opacity="0.07" filter="url(#bl)"/>
<linearGradient id="g575398922" x1="0" y1="0" x2="0" y2="1"><stop offset="0" stop-color="#cfcfcf"/><stop offset="0.4" stop-color="#dddddd"/><stop offset="0.7" stop-color="#ececec"/><stop offset="0.9" stop-color="#c0c0c0"/><stop offset="1" stop-color="#a8a8a8"/></linearGradient>
<rect x="43.4" y="537.8" width="146.9" height="13.7" fill="url(#g575398922)" stroke="none" stroke-width="0"/>
<rect x="43.73" y="544.22" width="10.35" height="1.96" rx="0.98" fill="#000" fill-opacity="1" filter="url(#bl)"/>
<rect x="53.81" y="544.2" width="10.58" height="1.99" rx="1" fill="#000" fill-opacity="1" filter="url(#bl)"/>
<rect x="64.31" y="544.2" width="10.58" height="1.99" rx="1" fill="#000" fill-opacity="1" filter="url(#bl)"/>
<rect x="75.03" y="544.22" width="10.35" height="1.96" rx="0.98" fill="#000" fill-opacity="1" filter="url(#bl)"/>
<rect x="85.23" y="544.22" width="10.35" height="1.96" rx="0.98" fill="#000" fill-opacity="1" filter="url(#bl)"/>
<rect x="95.73" y="544.22" width="10.35" height="1.96" rx="0.98" fill="#000" fill-opacity="1" filter="url(#bl)"/>
<rect x="106.13" y="544.22" width="10.35" height="1.96" rx="0.98" fill="#000" fill-opacity="1" filter="url(#bl)"/>
<rect x="116.59" y="544.19" width="10.81" height="2.03" rx="1.01" fill="#000" fill-opacity="1" filter="url(#bl)"/>
<rect x="126.99" y="544.19" width="10.81" height="2.03" rx="1.01" fill="#000" fill-opacity="1" filter="url(#bl)"/>
<rect x="137.39" y="544.19" width="10.81" height="2.03" rx="1.01" fill="#000" fill-opacity="1" filter="url(#bl)"/>
<rect x="149.07" y="544.27" width="9.65" height="1.85" rx="0.93" fill="#000" fill-opacity="0.87" filter="url(#bl)"/>
<rect x="159.79" y="544.29" width="9.42" height="1.82" rx="0.91" fill="#000" fill-opacity="0.81" filter="url(#bl)"/>
<rect x="169.51" y="544.31" width="9.19" height="1.78" rx="0.89" fill="#000" fill-opacity="0.75" filter="url(#bl)"/>
<rect x="179.41" y="544.31" width="9.19" height="1.78" rx="0.89" fill="#000" fill-opacity="0.75" filter="url(#bl)"/>
<rect x="43.88" y="539.86" width="10.05" height="2.28" rx="1.14" fill="#000" fill-opacity="0.15" filter="url(#bl)"/>
<rect x="54.08" y="539.86" width="10.05" height="2.28" rx="1.14" fill="#000" fill-opacity="0.15" filter="url(#bl)"/>
<rect x="64.58" y="539.86" width="10.05" height="2.28" rx="1.14" fill="#000" fill-opacity="0.15" filter="url(#bl)"/>
<rect x="75.18" y="539.86" width="10.05" height="2.28" rx="1.14" fill="#000" fill-opacity="0.15" filter="url(#bl)"/>
<rect x="85.38" y="539.86" width="10.05" height="2.28" rx="1.14" fill="#000" fill-opacity="0.15" filter="url(#bl)"/>
<rect x="95.88" y="539.86" width="10.05" height="2.28" rx="1.14" fill="#000" fill-opacity="0.15" filter="url(#bl)"/>
<rect x="106.28" y="539.86" width="10.05" height="2.28" rx="1.14" fill="#000" fill-opacity="0.15" filter="url(#bl)"/>
<rect x="116.98" y="539.86" width="10.05" height="2.28" rx="1.14" fill="#000" fill-opacity="0.15" filter="url(#bl)"/>
<rect x="127.38" y="539.86" width="10.05" height="2.28" rx="1.14" fill="#000" fill-opacity="0.15" filter="url(#bl)"/>
<rect x="137.78" y="539.86" width="10.05" height="2.28" rx="1.14" fill="#000" fill-opacity="0.15" filter="url(#bl)"/>
<rect x="148.88" y="539.86" width="10.05" height="2.28" rx="1.14" fill="#000" fill-opacity="0.15" filter="url(#bl)"/>
<rect x="159.48" y="539.86" width="10.05" height="2.28" rx="1.14" fill="#000" fill-opacity="0.15" filter="url(#bl)"/>
<rect x="169.08" y="539.86" width="10.05" height="2.28" rx="1.14" fill="#000" fill-opacity="0.15" filter="url(#bl)"/>
<rect x="178.98" y="539.86" width="10.05" height="2.28" rx="1.14" fill="#000" fill-opacity="0.15" filter="url(#bl)"/>
<linearGradient id="g101071364" x1="0" y1="0" x2="0" y2="1"><stop offset="0" stop-color="#f4f4f4"/><stop offset="1" stop-color="#f4f4f4"/></linearGradient>
<rect x="43.4" y="553.3" width="146.9" height="15" fill="url(#g101071364)" stroke="none" stroke-width="0"/>
<rect x="43.47" y="559.82" width="10.85" height="3.57" rx="1.78" fill="#000" fill-opacity="1" filter="url(#bl)"/>
<rect x="53.67" y="559.82" width="10.85" height="3.57" rx="1.78" fill="#000" fill-opacity="1" filter="url(#bl)"/>
<rect x="64.17" y="559.82" width="10.85" height="3.57" rx="1.78" fill="#000" fill-opacity="1" filter="url(#bl)"/>
<rect x="74.77" y="559.82" width="10.85" height="3.57" rx="1.78" fill="#000" fill-opacity="1" filter="url(#bl)"/>
<rect x="84.97" y="559.82" width="10.85" height="3.57" rx="1.78" fill="#000" fill-opacity="1" filter="url(#bl)"/>
<rect x="95.47" y="559.82" width="10.85" height="3.57" rx="1.78" fill="#000" fill-opacity="1" filter="url(#bl)"/>
<rect x="105.87" y="559.82" width="10.85" height="3.57" rx="1.78" fill="#000" fill-opacity="1" filter="url(#bl)"/>
<rect x="117.06" y="559.99" width="9.88" height="3.21" rx="1.61" fill="#000" fill-opacity="0.92" filter="url(#bl)"/>
<rect x="126.97" y="559.82" width="10.85" height="3.57" rx="1.78" fill="#000" fill-opacity="1" filter="url(#bl)"/>
<rect x="137.37" y="559.82" width="10.85" height="3.57" rx="1.78" fill="#000" fill-opacity="1" filter="url(#bl)"/>
<rect x="148.47" y="559.82" width="10.85" height="3.57" rx="1.78" fill="#000" fill-opacity="1" filter="url(#bl)"/>
<rect x="159.07" y="559.82" width="10.85" height="3.57" rx="1.78" fill="#000" fill-opacity="1" filter="url(#bl)"/>
<rect x="168.67" y="559.82" width="10.85" height="3.57" rx="1.78" fill="#000" fill-opacity="1" filter="url(#bl)"/>
<rect x="178.57" y="559.82" width="10.85" height="3.57" rx="1.78" fill="#000" fill-opacity="1" filter="url(#bl)"/>
<rect x="43.4" y="418.3" width="146.9" height="16.8" fill="none" stroke="#2a2a2a" stroke-width="1.2"/>
<rect x="43.4" y="437.3" width="146.9" height="14.3" fill="none" stroke="#2a2a2a" stroke-width="1.2"/>
<rect x="43.4" y="453.6" width="146.9" height="14.3" fill="none" stroke="#2a2a2a" stroke-width="1.2"/>
<rect x="43.4" y="470.5" width="146.9" height="14.4" fill="none" stroke="#2a2a2a" stroke-width="1.2"/>
<rect x="43.4" y="487.3" width="146.9" height="15.5" fill="none" stroke="#2a2a2a" stroke-width="1.2"/>
<rect x="43.4" y="504.6" width="146.9" height="14.8" fill="none" stroke="#2a2a2a" stroke-width="1.2"/>
<rect x="43.4" y="521.5" width="146.9" height="14.8" fill="none" stroke="#2a2a2a" stroke-width="1.2"/>
<rect x="43.4" y="537.8" width="146.9" height="13.7" fill="none" stroke="#2a2a2a" stroke-width="1.2"/>
<rect x="43.4" y="553.3" width="146.9" height="15" fill="none" stroke="#2a2a2a" stroke-width="1.2"/>
<linearGradient id="g392655486" x1="0" y1="0" x2="0" y2="1"><stop offset="0" stop-color="#dcdcdc"/><stop offset="0.15" stop-color="#ececec"/><stop offset="0.85" stop-color="#eeeeee"/><stop offset="1" stop-color="#d8d8d8"/></linearGradient>
<rect x="194.5" y="418.3" width="145.5" height="16.8" fill="url(#g392655486)" stroke="none" stroke-width="0"/>
<rect x="195.71" y="424.35" width="10.98" height="3.3" rx="1.65" fill="#000" fill-opacity="1" filter="url(#bl)"/>
<rect x="207.93" y="424.38" width="10.93" height="3.25" rx="1.62" fill="#000" fill-opacity="1" filter="url(#bl)"/>
<rect x="219.77" y="424.43" width="10.46" height="3.14" rx="1.57" fill="#000" fill-opacity="1" filter="url(#bl)"/>
<rect x="232.49" y="424.63" width="8.82" height="2.74" rx="1.37" fill="#000" fill-opacity="0.63" filter="url(#bl)"/>
<rect x="245.31" y="424.82" width="7.18" height="2.35" rx="1.18" fill="#000" fill-opacity="0.09" filter="url(#bl)"/>
<rect x="257.3" y="424.87" width="6.8" height="2.26" rx="1.13" fill="#000" fill-opacity="0.02" filter="url(#bl)"/>
<rect x="267.91" y="424.35" width="10.98" height="3.3" rx="1.65" fill="#000" fill-opacity="1" filter="url(#bl)"/>
<rect x="279.91" y="424.35" width="10.98" height="3.3" rx="1.65" fill="#000" fill-opacity="1" filter="url(#bl)"/>
<rect x="292.11" y="424.35" width="10.98" height="3.3" rx="1.65" fill="#000" fill-opacity="1" filter="url(#bl)"/>
<rect x="304.15" y="424.4" width="10.7" height="3.19" rx="1.6" fill="#000" fill-opacity="1" filter="url(#bl)"/>
<rect x="317.29" y="424.63" width="8.82" height="2.74" rx="1.37" fill="#000" fill-opacity="0.63" filter="url(#bl)"/>
<rect x="330.75" y="424.86" width="6.9" height="2.28" rx="1.14" fill="#000" fill-opacity="0.04" filter="url(#bl)"/>
<linearGradient id="g625763863" x1="0" y1="0" x2="0" y2="1"><stop offset="0" stop-color="#d6d6d6"/><stop offset="0.3" stop-color="#e6e6e6"/><stop offset="0.8" stop-color="#eaeaea"/><stop offset="1" stop-color="#d0d0d0"/></linearGradient>
<rect x="194.5" y="437.3" width="145.5" height="14.3" fill="url(#g625763863)" stroke="none" stroke-width="0"/>
<rect x="196.44" y="443.02" width="9.53" height="2.37" rx="1.18" fill="#000" fill-opacity="0.81" filter="url(#bl)"/>
<rect x="208.4" y="442.97" width="10" height="2.46" rx="1.23" fill="#000" fill-opacity="0.92" filter="url(#bl)"/>
<rect x="220.12" y="442.99" width="9.76" height="2.41" rx="1.21" fill="#000" fill-opacity="0.87" filter="url(#bl)"/>
<rect x="232.25" y="443.04" width="9.29" height="2.32" rx="1.16" fill="#000" fill-opacity="0.75" filter="url(#bl)"/>
<rect x="244.09" y="443.01" width="9.62" height="2.38" rx="1.19" fill="#000" fill-opacity="0.83" filter="url(#bl)"/>
<rect x="255.66" y="442.96" width="10.09" height="2.48" rx="1.24" fill="#000" fill-opacity="0.95" filter="url(#bl)"/>
<rect x="268.59" y="443.01" width="9.62" height="2.38" rx="1.19" fill="#000" fill-opacity="0.83" filter="url(#bl)"/>
<rect x="280.28" y="442.95" width="10.23" height="2.5" rx="1.25" fill="#000" fill-opacity="0.98" filter="url(#bl)"/>
<rect x="293.07" y="443.06" width="9.06" height="2.27" rx="1.14" fill="#000" fill-opacity="0.69" filter="url(#bl)"/>
<rect x="304.62" y="442.99" width="9.76" height="2.41" rx="1.21" fill="#000" fill-opacity="0.87" filter="url(#bl)"/>
<rect x="316.42" y="442.92" width="10.56" height="2.57" rx="1.28" fill="#000" fill-opacity="1" filter="url(#bl)"/>
<rect x="328.71" y="442.86" width="10.98" height="2.68" rx="1.34" fill="#000" fill-opacity="1" filter="url(#bl)"/>
<linearGradient id="g62275869" x1="0" y1="0" x2="0" y2="1"><stop offset="0" stop-color="#e2e2e2"/><stop offset="0.2" stop-color="#f2f2f2"/><stop offset="0.85" stop-color="#f2f2f2"/><stop offset="1" stop-color="#dddddd"/></linearGradient>
<rect x="194.5" y="453.6" width="145.5" height="14.3" fill="url(#g62275869)" stroke="none" stroke-width="0"/>
<rect x="196.91" y="459.82" width="8.59" height="2.35" rx="1.18" fill="#000" fill-opacity="0.57" filter="url(#bl)"/>
<rect x="208.05" y="459.6" width="10.7" height="2.79" rx="1.4" fill="#000" fill-opacity="1" filter="url(#bl)"/>
<rect x="219.53" y="459.58" width="10.93" height="2.84" rx="1.42" fill="#000" fill-opacity="1" filter="url(#bl)"/>
<rect x="232.02" y="459.7" width="9.76" height="2.6" rx="1.3" fill="#000" fill-opacity="0.87" filter="url(#bl)"/>
<rect x="244.61" y="459.82" width="8.59" height="2.35" rx="1.18" fill="#000" fill-opacity="0.57" filter="url(#bl)"/>
<rect x="257.16" y="459.98" width="7.08" height="2.04" rx="1.02" fill="#000" fill-opacity="0.07" filter="url(#bl)"/>
<rect x="268.05" y="459.6" width="10.7" height="2.79" rx="1.4" fill="#000" fill-opacity="1" filter="url(#bl)"/>
<rect x="279.91" y="459.55" width="10.98" height="2.89" rx="1.45" fill="#000" fill-opacity="1" filter="url(#bl)"/>
<rect x="292.11" y="459.57" width="10.98" height="2.86" rx="1.43" fill="#000" fill-opacity="1" filter="url(#bl)"/>
<rect x="304.08" y="459.59" width="10.84" height="2.82" rx="1.41" fill="#000" fill-opacity="1" filter="url(#bl)"/>
<rect x="316.21" y="459.57" width="10.98" height="2.86" rx="1.43" fill="#000" fill-opacity="1" filter="url(#bl)"/>
<rect x="330.14" y="459.87" width="8.12" height="2.25" rx="1.13" fill="#000" fill-opacity="0.45" filter="url(#bl)"/>
<linearGradient id="g976787301" x1="0" y1="0" x2="0" y2="1"><stop offset="0" stop-color="#e4e4e4"/><stop offset="0.2" stop-color="#f4f4f4"/><stop offset="0.85" stop-color="#f4f4f4"/><stop offset="1" stop-color="#dddddd"/></linearGradient>
<rect x="194.5" y="470.5" width="145.5" height="14.4" fill="url(#g976787301)" stroke="none" stroke-width="0"/>
<rect x="195.71" y="476.01" width="10.98" height="3.57" rx="1.78" fill="#000" fill-opacity="1" filter="url(#bl)"/>
<rect x="207.91" y="476.01" width="10.98" height="3.57" rx="1.78" fill="#000" fill-opacity="1" filter="url(#bl)"/>
<rect x="219.51" y="476.01" width="10.98" height="3.57" rx="1.78" fill="#000" fill-opacity="1" filter="url(#bl)"/>
<rect x="231.41" y="476.01" width="10.98" height="3.57" rx="1.78" fill="#000" fill-opacity="1" filter="url(#bl)"/>
<rect x="243.41" y="476.01" width="10.98" height="3.57" rx="1.78" fill="#000" fill-opacity="1" filter="url(#bl)"/>
<rect x="255.21" y="476.01" width="10.98" height="3.57" rx="1.78" fill="#000" fill-opacity="1" filter="url(#bl)"/>
<rect x="267.91" y="476.01" width="10.98" height="3.57" rx="1.78" fill="#000" fill-opacity="1" filter="url(#bl)"/>
<rect x="279.91" y="476.01" width="10.98" height="3.57" rx="1.78" fill="#000" fill-opacity="1" filter="url(#bl)"/>
<rect x="292.11" y="476.01" width="10.98" height="3.57" rx="1.78" fill="#000" fill-opacity="1" filter="url(#bl)"/>
<rect x="304.01" y="476.01" width="10.98" height="3.57" rx="1.78" fill="#000" fill-opacity="1" filter="url(#bl)"/>
<rect x="316.21" y="476.01" width="10.98" height="3.57" rx="1.78" fill="#000" fill-opacity="1" filter="url(#bl)"/>
<rect x="328.71" y="476.01" width="10.98" height="3.57" rx="1.78" fill="#000" fill-opacity="1" filter="url(#bl)"/>
<linearGradient id="g544854973" x1="0" y1="0" x2="0" y2="1"><stop offset="0" stop-color="#e4e4e4"/><stop offset="0.2" stop-color="#f4f4f4"/><stop offset="0.85" stop-color="#f2f2f2"/><stop offset="1" stop-color="#d4d4d4"/></linearGradient>
<rect x="194.5" y="487.3" width="145.5" height="15.5" fill="url(#g544854973)" stroke="none" stroke-width="0"/>
<rect x="195.97" y="494.83" width="10.46" height="2.74" rx="1.37" fill="#000" fill-opacity="1" filter="url(#bl)"/>
<rect x="208.75" y="494.95" width="9.29" height="2.5" rx="1.25" fill="#000" fill-opacity="0.75" filter="url(#bl)"/>
<rect x="220.35" y="494.95" width="9.29" height="2.5" rx="1.25" fill="#000" fill-opacity="0.75" filter="url(#bl)"/>
<rect x="232.25" y="494.95" width="9.29" height="2.5" rx="1.25" fill="#000" fill-opacity="0.75" filter="url(#bl)"/>
<rect x="244.56" y="495.01" width="8.68" height="2.37" rx="1.19" fill="#000" fill-opacity="0.6" filter="url(#bl)"/>
<rect x="257.28" y="495.21" width="6.85" height="1.99" rx="0.99" fill="#000" fill-opacity="0.03" filter="url(#bl)"/>
<rect x="267.91" y="494.73" width="10.98" height="2.94" rx="1.47" fill="#000" fill-opacity="1" filter="url(#bl)"/>
<rect x="280.28" y="494.85" width="10.23" height="2.69" rx="1.35" fill="#000" fill-opacity="0.98" filter="url(#bl)"/>
<rect x="292.48" y="494.85" width="10.23" height="2.69" rx="1.35" fill="#000" fill-opacity="0.98" filter="url(#bl)"/>
<rect x="304.27" y="494.83" width="10.46" height="2.74" rx="1.37" fill="#000" fill-opacity="1" filter="url(#bl)"/>
<rect x="317.29" y="495" width="8.82" height="2.4" rx="1.2" fill="#000" fill-opacity="0.63" filter="url(#bl)"/>
<rect x="330.02" y="495.05" width="8.35" height="2.3" rx="1.15" fill="#000" fill-opacity="0.51" filter="url(#bl)"/>
<rect x="268.32" y="492.17" width="10.16" height="2.86" rx="1.43" fill="#000" fill-opacity="1" filter="url(#bl)"/>
<rect x="280.32" y="492.46" width="10.16" height="2.29" rx="1.14" fill="#000" fill-opacity="0.45" filter="url(#bl)"/>
<rect x="292.52" y="492.51" width="10.16" height="2.18" rx="1.09" fill="#000" fill-opacity="0.35" filter="url(#bl)"/>
<rect x="304.42" y="492.46" width="10.16" height="2.29" rx="1.14" fill="#000" fill-opacity="0.45" filter="url(#bl)"/>
<rect x="316.62" y="492.59" width="10.16" height="2.03" rx="1.01" fill="#000" fill-opacity="0.2" filter="url(#bl)"/>
<rect x="329.12" y="492.59" width="10.16" height="2.03" rx="1.01" fill="#000" fill-opacity="0.2" filter="url(#bl)"/>
<linearGradient id="g230530419" x1="0" y1="0" x2="0" y2="1"><stop offset="0" stop-color="#e0e0e0"/><stop offset="0.5" stop-color="#efefef"/><stop offset="0.85" stop-color="#f0f0f0"/><stop offset="1" stop-color="#d8d8d8"/></linearGradient>
<rect x="194.5" y="504.6" width="145.5" height="14.8" fill="url(#g230530419)" stroke="none" stroke-width="0"/>
<rect x="195.73" y="512.43" width="10.93" height="2.33" rx="1.17" fill="#000" fill-opacity="1" filter="url(#bl)"/>
<rect x="207.93" y="512.43" width="10.93" height="2.33" rx="1.17" fill="#000" fill-opacity="1" filter="url(#bl)"/>
<rect x="219.53" y="512.43" width="10.93" height="2.33" rx="1.17" fill="#000" fill-opacity="1" filter="url(#bl)"/>
<rect x="231.43" y="512.43" width="10.93" height="2.33" rx="1.17" fill="#000" fill-opacity="1" filter="url(#bl)"/>
<rect x="243.43" y="512.43" width="10.93" height="2.33" rx="1.17" fill="#000" fill-opacity="1" filter="url(#bl)"/>
<rect x="255.23" y="512.43" width="10.93" height="2.33" rx="1.17" fill="#000" fill-opacity="1" filter="url(#bl)"/>
<rect x="268.75" y="512.57" width="9.29" height="2.05" rx="1.03" fill="#000" fill-opacity="0.75" filter="url(#bl)"/>
<rect x="280.52" y="512.53" width="9.76" height="2.13" rx="1.07" fill="#000" fill-opacity="0.87" filter="url(#bl)"/>
<rect x="292.72" y="512.53" width="9.76" height="2.13" rx="1.07" fill="#000" fill-opacity="0.87" filter="url(#bl)"/>
<rect x="304.38" y="512.49" width="10.23" height="2.21" rx="1.11" fill="#000" fill-opacity="0.98" filter="url(#bl)"/>
<rect x="316.47" y="512.47" width="10.46" height="2.25" rx="1.13" fill="#000" fill-opacity="1" filter="url(#bl)"/>
<rect x="329.08" y="512.49" width="10.23" height="2.21" rx="1.11" fill="#000" fill-opacity="0.98" filter="url(#bl)"/>
<rect x="196.12" y="508.41" width="10.16" height="1.58" rx="0.79" fill="#000" fill-opacity="0.45" filter="url(#bl)"/>
<rect x="208.32" y="508.41" width="10.16" height="1.58" rx="0.79" fill="#000" fill-opacity="0.45" filter="url(#bl)"/>
<rect x="219.92" y="508.41" width="10.16" height="1.58" rx="0.79" fill="#000" fill-opacity="0.45" filter="url(#bl)"/>
<rect x="231.82" y="508.41" width="10.16" height="1.58" rx="0.79" fill="#000" fill-opacity="0.45" filter="url(#bl)"/>
<rect x="243.82" y="508.41" width="10.16" height="1.58" rx="0.79" fill="#000" fill-opacity="0.45" filter="url(#bl)"/>
<rect x="255.62" y="508.41" width="10.16" height="1.58" rx="0.79" fill="#000" fill-opacity="0.45" filter="url(#bl)"/>
<rect x="268.32" y="508.41" width="10.16" height="1.58" rx="0.79" fill="#000" fill-opacity="0.45" filter="url(#bl)"/>
<rect x="280.32" y="508.41" width="10.16" height="1.58" rx="0.79" fill="#000" fill-opacity="0.45" filter="url(#bl)"/>
<rect x="292.52" y="508.41" width="10.16" height="1.58" rx="0.79" fill="#000" fill-opacity="0.45" filter="url(#bl)"/>
<rect x="304.42" y="508.41" width="10.16" height="1.58" rx="0.79" fill="#000" fill-opacity="0.45" filter="url(#bl)"/>
<rect x="316.62" y="508.41" width="10.16" height="1.58" rx="0.79" fill="#000" fill-opacity="0.45" filter="url(#bl)"/>
<rect x="329.12" y="508.41" width="10.16" height="1.58" rx="0.79" fill="#000" fill-opacity="0.45" filter="url(#bl)"/>
<linearGradient id="g40260662" x1="0" y1="0" x2="0" y2="1"><stop offset="0" stop-color="#e6e6e6"/><stop offset="0.2" stop-color="#f4f4f4"/><stop offset="0.85" stop-color="#f4f4f4"/><stop offset="1" stop-color="#d8d8d8"/></linearGradient>
<rect x="194.5" y="521.5" width="145.5" height="14.8" fill="url(#g40260662)" stroke="none" stroke-width="0"/>
<rect x="195.71" y="527.42" width="10.98" height="3.57" rx="1.78" fill="#000" fill-opacity="1" filter="url(#bl)"/>
<rect x="207.91" y="527.42" width="10.98" height="3.57" rx="1.78" fill="#000" fill-opacity="1" filter="url(#bl)"/>
<rect x="219.51" y="527.42" width="10.98" height="3.57" rx="1.78" fill="#000" fill-opacity="1" filter="url(#bl)"/>
<rect x="231.41" y="527.44" width="10.98" height="3.51" rx="1.76" fill="#000" fill-opacity="1" filter="url(#bl)"/>
<rect x="244.84" y="527.83" width="8.12" height="2.74" rx="1.37" fill="#000" fill-opacity="0.45" filter="url(#bl)"/>
<rect x="267.91" y="527.42" width="10.98" height="3.57" rx="1.78" fill="#000" fill-opacity="1" filter="url(#bl)"/>
<rect x="279.91" y="527.42" width="10.98" height="3.57" rx="1.78" fill="#000" fill-opacity="1" filter="url(#bl)"/>
<rect x="292.11" y="527.42" width="10.98" height="3.57" rx="1.78" fill="#000" fill-opacity="1" filter="url(#bl)"/>
<rect x="304.01" y="527.42" width="10.98" height="3.57" rx="1.78" fill="#000" fill-opacity="1" filter="url(#bl)"/>
<rect x="316.21" y="527.42" width="10.98" height="3.57" rx="1.78" fill="#000" fill-opacity="1" filter="url(#bl)"/>
<rect x="329.91" y="527.77" width="8.59" height="2.86" rx="1.43" fill="#000" fill-opacity="0.57" filter="url(#bl)"/>
<linearGradient id="g92285142" x1="0" y1="0" x2="0" y2="1"><stop offset="0" stop-color="#c8c8c8"/><stop offset="0.45" stop-color="#dadada"/><stop offset="0.75" stop-color="#ececec"/><stop offset="1" stop-color="#d8d8d8"/></linearGradient>
<rect x="194.5" y="537.8" width="145.5" height="13.7" fill="url(#g92285142)" stroke="none" stroke-width="0"/>
<rect x="195.97" y="543.33" width="10.46" height="2.55" rx="1.27" fill="#000" fill-opacity="1" filter="url(#bl)"/>
<rect x="208.05" y="543.3" width="10.7" height="2.59" rx="1.3" fill="#000" fill-opacity="1" filter="url(#bl)"/>
<rect x="219.65" y="543.3" width="10.7" height="2.59" rx="1.3" fill="#000" fill-opacity="1" filter="url(#bl)"/>
<rect x="231.9" y="543.37" width="10" height="2.46" rx="1.23" fill="#000" fill-opacity="0.92" filter="url(#bl)"/>
<rect x="244.02" y="543.39" width="9.76" height="2.41" rx="1.21" fill="#000" fill-opacity="0.87" filter="url(#bl)"/>
<rect x="255.94" y="543.42" width="9.53" height="2.37" rx="1.18" fill="#000" fill-opacity="0.81" filter="url(#bl)"/>
<rect x="268.87" y="543.46" width="9.06" height="2.27" rx="1.14" fill="#000" fill-opacity="0.69" filter="url(#bl)"/>
<rect x="280.17" y="543.33" width="10.46" height="2.55" rx="1.27" fill="#000" fill-opacity="1" filter="url(#bl)"/>
<rect x="292.48" y="543.35" width="10.23" height="2.5" rx="1.25" fill="#000" fill-opacity="0.98" filter="url(#bl)"/>
<rect x="304.38" y="543.35" width="10.23" height="2.5" rx="1.25" fill="#000" fill-opacity="0.98" filter="url(#bl)"/>
<rect x="316.47" y="543.33" width="10.46" height="2.55" rx="1.27" fill="#000" fill-opacity="1" filter="url(#bl)"/>
<rect x="329.16" y="543.36" width="10.09" height="2.48" rx="1.24" fill="#000" fill-opacity="0.95" filter="url(#bl)"/>
<rect x="196.12" y="539.23" width="10.16" height="2.34" rx="1.17" fill="#000" fill-opacity="0.2" filter="url(#bl)"/>
<rect x="208.32" y="539.23" width="10.16" height="2.34" rx="1.17" fill="#000" fill-opacity="0.2" filter="url(#bl)"/>
<rect x="219.92" y="539.23" width="10.16" height="2.34" rx="1.17" fill="#000" fill-opacity="0.2" filter="url(#bl)"/>
<rect x="231.82" y="539.23" width="10.16" height="2.34" rx="1.17" fill="#000" fill-opacity="0.2" filter="url(#bl)"/>
<rect x="243.82" y="539.23" width="10.16" height="2.34" rx="1.17" fill="#000" fill-opacity="0.2" filter="url(#bl)"/>
<rect x="255.62" y="539.23" width="10.16" height="2.34" rx="1.17" fill="#000" fill-opacity="0.2" filter="url(#bl)"/>
<rect x="268.32" y="539.23" width="10.16" height="2.34" rx="1.17" fill="#000" fill-opacity="0.2" filter="url(#bl)"/>
<rect x="280.32" y="539.23" width="10.16" height="2.34" rx="1.17" fill="#000" fill-opacity="0.2" filter="url(#bl)"/>
<rect x="292.52" y="539.23" width="10.16" height="2.34" rx="1.17" fill="#000" fill-opacity="0.2" filter="url(#bl)"/>
<rect x="304.42" y="539.23" width="10.16" height="2.34" rx="1.17" fill="#000" fill-opacity="0.2" filter="url(#bl)"/>
<rect x="316.62" y="539.23" width="10.16" height="2.34" rx="1.17" fill="#000" fill-opacity="0.2" filter="url(#bl)"/>
<rect x="329.12" y="539.23" width="10.16" height="2.34" rx="1.17" fill="#000" fill-opacity="0.2" filter="url(#bl)"/>
<linearGradient id="g465623510" x1="0" y1="0" x2="0" y2="1"><stop offset="0" stop-color="#f4f4f4"/><stop offset="1" stop-color="#f2f2f2"/></linearGradient>
<rect x="194.5" y="553.3" width="145.5" height="15" fill="url(#g465623510)" stroke="none" stroke-width="0"/>
<rect x="195.71" y="557.71" width="10.98" height="3.78" rx="1.89" fill="#000" fill-opacity="1" filter="url(#bl)"/>
<rect x="207.91" y="557.71" width="10.98" height="3.78" rx="1.89" fill="#000" fill-opacity="1" filter="url(#bl)"/>
<rect x="219.51" y="557.71" width="10.98" height="3.78" rx="1.89" fill="#000" fill-opacity="1" filter="url(#bl)"/>
<rect x="231.41" y="557.71" width="10.98" height="3.78" rx="1.89" fill="#000" fill-opacity="1" filter="url(#bl)"/>
<rect x="243.41" y="557.71" width="10.98" height="3.78" rx="1.89" fill="#000" fill-opacity="1" filter="url(#bl)"/>
<rect x="255.21" y="557.71" width="10.98" height="3.78" rx="1.89" fill="#000" fill-opacity="1" filter="url(#bl)"/>
<rect x="268.28" y="557.87" width="10.23" height="3.46" rx="1.73" fill="#000" fill-opacity="0.98" filter="url(#bl)"/>
<rect x="279.91" y="557.71" width="10.98" height="3.78" rx="1.89" fill="#000" fill-opacity="1" filter="url(#bl)"/>
<rect x="292.11" y="557.71" width="10.98" height="3.78" rx="1.89" fill="#000" fill-opacity="1" filter="url(#bl)"/>
<rect x="304.01" y="557.71" width="10.98" height="3.78" rx="1.89" fill="#000" fill-opacity="1" filter="url(#bl)"/>
<rect x="316.21" y="557.71" width="10.98" height="3.78" rx="1.89" fill="#000" fill-opacity="1" filter="url(#bl)"/>
<rect x="328.71" y="557.71" width="10.98" height="3.78" rx="1.89" fill="#000" fill-opacity="1" filter="url(#bl)"/>
<rect x="194.5" y="418.3" width="145.5" height="16.8" fill="none" stroke="#2a2a2a" stroke-width="1.2"/>
<rect x="194.5" y="437.3" width="145.5" height="14.3" fill="none" stroke="#2a2a2a" stroke-width="1.2"/>
<rect x="194.5" y="453.6" width="145.5" height="14.3" fill="none" stroke="#2a2a2a" stroke-width="1.2"/>
<rect x="194.5" y="470.5" width="145.5" height="14.4" fill="none" stroke="#2a2a2a" stroke-width="1.2"/>
<rect x="194.5" y="487.3" width="145.5" height="15.5" fill="none" stroke="#2a2a2a" stroke-width="1.2"/>
<rect x="194.5" y="504.6" width="145.5" height="14.8" fill="none" stroke="#2a2a2a" stroke-width="1.2"/>
<rect x="194.5" y="521.5" width="145.5" height="14.8" fill="none" stroke="#2a2a2a" stroke-width="1.2"/>
<rect x="194.5" y="537.8" width="145.5" height="13.7" fill="none" stroke="#2a2a2a" stroke-width="1.2"/>
<rect x="194.5" y="553.3" width="145.5" height="15" fill="none" stroke="#2a2a2a" stroke-width="1.2"/>
<linearGradient id="g449008934" x1="0" y1="0" x2="0" y2="1"><stop offset="0" stop-color="#dcdcdc"/><stop offset="0.15" stop-color="#ececec"/><stop offset="0.85" stop-color="#eeeeee"/><stop offset="1" stop-color="#d8d8d8"/></linearGradient>
<rect x="346.4" y="418.3" width="150.5" height="16.8" fill="url(#g449008934)" stroke="none" stroke-width="0"/>
<rect x="347.9" y="424.64" width="11" height="3.51" rx="1.76" fill="#000" fill-opacity="1" filter="url(#bl)"/>
<rect x="358.52" y="424.67" width="10.96" height="3.45" rx="1.73" fill="#000" fill-opacity="1" filter="url(#bl)"/>
<rect x="368.82" y="424.67" width="10.96" height="3.45" rx="1.73" fill="#000" fill-opacity="1" filter="url(#bl)"/>
<rect x="379.44" y="424.7" width="10.72" height="3.39" rx="1.7" fill="#000" fill-opacity="1" filter="url(#bl)"/>
<rect x="391.49" y="425.12" width="7.43" height="2.56" rx="1.28" fill="#000" fill-opacity="0.25" filter="url(#bl)"/>
<rect x="402.42" y="425.18" width="6.96" height="2.44" rx="1.22" fill="#000" fill-opacity="0.05" filter="url(#bl)"/>
<rect x="413.17" y="425.19" width="6.86" height="2.42" rx="1.21" fill="#000" fill-opacity="0.03" filter="url(#bl)"/>
<rect x="421.6" y="424.61" width="11" height="3.57" rx="1.78" fill="#000" fill-opacity="1" filter="url(#bl)"/>
<rect x="432" y="424.64" width="11" height="3.51" rx="1.76" fill="#000" fill-opacity="1" filter="url(#bl)"/>
<rect x="442.72" y="424.67" width="10.96" height="3.45" rx="1.73" fill="#000" fill-opacity="1" filter="url(#bl)"/>
<rect x="453.59" y="424.79" width="10.02" height="3.21" rx="1.61" fill="#000" fill-opacity="0.92" filter="url(#bl)"/>
<rect x="464.7" y="424.97" width="8.6" height="2.86" rx="1.43" fill="#000" fill-opacity="0.57" filter="url(#bl)"/>
<rect x="475.92" y="425.18" width="6.96" height="2.44" rx="1.22" fill="#000" fill-opacity="0.05" filter="url(#bl)"/>
<rect x="486.42" y="425.18" width="6.96" height="2.44" rx="1.22" fill="#000" fill-opacity="0.05" filter="url(#bl)"/>
<circle cx="418" cy="422" r="1.1" fill="#111"/>
<linearGradient id="g75006691" x1="0" y1="0" x2="0" y2="1"><stop offset="0" stop-color="#cfcfcf"/><stop offset="0.3" stop-color="#dedede"/><stop offset="0.8" stop-color="#e4e4e4"/><stop offset="1" stop-color="#cccccc"/></linearGradient>
<rect x="346.4" y="437.3" width="150.5" height="14.3" fill="url(#g75006691)" stroke="none" stroke-width="0"/>
<rect x="348.86" y="442.77" width="9.07" height="2.45" rx="1.22" fill="#000" fill-opacity="0.69" filter="url(#bl)"/>
<rect x="359.23" y="442.73" width="9.55" height="2.55" rx="1.27" fill="#000" fill-opacity="0.81" filter="url(#bl)"/>
<rect x="368.8" y="442.53" width="11" height="2.94" rx="1.47" fill="#000" fill-opacity="1" filter="url(#bl)"/>
<rect x="379.3" y="442.55" width="11" height="2.89" rx="1.45" fill="#000" fill-opacity="1" filter="url(#bl)"/>
<rect x="391.02" y="442.85" width="8.37" height="2.3" rx="1.15" fill="#000" fill-opacity="0.51" filter="url(#bl)"/>
<rect x="401.83" y="442.87" width="8.13" height="2.25" rx="1.13" fill="#000" fill-opacity="0.45" filter="url(#bl)"/>
<rect x="412.65" y="442.9" width="7.9" height="2.2" rx="1.1" fill="#000" fill-opacity="0.38" filter="url(#bl)"/>
<rect x="423.15" y="442.9" width="7.9" height="2.2" rx="1.1" fill="#000" fill-opacity="0.38" filter="url(#bl)"/>
<rect x="433.43" y="442.87" width="8.13" height="2.25" rx="1.13" fill="#000" fill-opacity="0.45" filter="url(#bl)"/>
<rect x="444.25" y="442.9" width="7.9" height="2.2" rx="1.1" fill="#000" fill-opacity="0.38" filter="url(#bl)"/>
<rect x="454.3" y="442.82" width="8.6" height="2.35" rx="1.18" fill="#000" fill-opacity="0.57" filter="url(#bl)"/>
<rect x="464.34" y="442.75" width="9.31" height="2.5" rx="1.25" fill="#000" fill-opacity="0.75" filter="url(#bl)"/>
<rect x="475.45" y="442.9" width="7.9" height="2.2" rx="1.1" fill="#000" fill-opacity="0.38" filter="url(#bl)"/>
<rect x="485.95" y="442.9" width="7.9" height="2.2" rx="1.1" fill="#000" fill-opacity="0.38" filter="url(#bl)"/>
<ellipse cx="374.5" cy="446" rx="5.5" ry="2.6" fill="#000" filter="url(#bl)"/>
<ellipse cx="383.5" cy="447" rx="5" ry="2.4" fill="#000" filter="url(#bl)"/>
<linearGradient id="g258409929" x1="0" y1="0" x2="0" y2="1"><stop offset="0" stop-color="#dedede"/><stop offset="0.2" stop-color="#ececec"/><stop offset="0.85" stop-color="#ededed"/><stop offset="1" stop-color="#d8d8d8"/></linearGradient>
<rect x="346.4" y="453.6" width="150.5" height="14.3" fill="url(#g258409929)" stroke="none" stroke-width="0"/>
<rect x="348.98" y="459.31" width="8.84" height="2.57" rx="1.29" fill="#000" fill-opacity="0.63" filter="url(#bl)"/>
<rect x="359.23" y="459.24" width="9.55" height="2.73" rx="1.36" fill="#000" fill-opacity="0.81" filter="url(#bl)"/>
<rect x="369.53" y="459.24" width="9.55" height="2.73" rx="1.36" fill="#000" fill-opacity="0.81" filter="url(#bl)"/>
<rect x="380.26" y="459.29" width="9.07" height="2.62" rx="1.31" fill="#000" fill-opacity="0.69" filter="url(#bl)"/>
<rect x="391.02" y="459.37" width="8.37" height="2.47" rx="1.23" fill="#000" fill-opacity="0.51" filter="url(#bl)"/>
<rect x="402.35" y="459.51" width="7.1" height="2.18" rx="1.09" fill="#000" fill-opacity="0.07" filter="url(#bl)"/>
<rect x="413.05" y="459.51" width="7.1" height="2.18" rx="1.09" fill="#000" fill-opacity="0.07" filter="url(#bl)"/>
<rect x="421.6" y="459.05" width="11" height="3.1" rx="1.55" fill="#000" fill-opacity="1" filter="url(#bl)"/>
<rect x="432" y="459.03" width="11" height="3.15" rx="1.57" fill="#000" fill-opacity="1" filter="url(#bl)"/>
<rect x="442.7" y="459.03" width="11" height="3.15" rx="1.57" fill="#000" fill-opacity="1" filter="url(#bl)"/>
<rect x="453.1" y="459.05" width="11" height="3.1" rx="1.55" fill="#000" fill-opacity="1" filter="url(#bl)"/>
<rect x="463.5" y="459.05" width="11" height="3.1" rx="1.55" fill="#000" fill-opacity="1" filter="url(#bl)"/>
<rect x="473.92" y="459.08" width="10.96" height="3.04" rx="1.52" fill="#000" fill-opacity="1" filter="url(#bl)"/>
<rect x="486.07" y="459.45" width="7.66" height="2.31" rx="1.15" fill="#000" fill-opacity="0.32" filter="url(#bl)"/>
<linearGradient id="g97402358" x1="0" y1="0" x2="0" y2="1"><stop offset="0" stop-color="#e4e4e4"/><stop offset="0.2" stop-color="#f4f4f4"/><stop offset="0.85" stop-color="#f4f4f4"/><stop offset="1" stop-color="#dddddd"/></linearGradient>
<rect x="346.4" y="470.5" width="150.5" height="14.4" fill="url(#g97402358)" stroke="none" stroke-width="0"/>
<rect x="347.9" y="475.85" width="11" height="3.1" rx="1.55" fill="#000" fill-opacity="1" filter="url(#bl)"/>
<rect x="358.5" y="475.85" width="11" height="3.1" rx="1.55" fill="#000" fill-opacity="1" filter="url(#bl)"/>
<rect x="368.8" y="475.85" width="11" height="3.1" rx="1.55" fill="#000" fill-opacity="1" filter="url(#bl)"/>
<rect x="379.3" y="475.85" width="11" height="3.1" rx="1.55" fill="#000" fill-opacity="1" filter="url(#bl)"/>
<rect x="389.7" y="475.85" width="11" height="3.1" rx="1.55" fill="#000" fill-opacity="1" filter="url(#bl)"/>
<rect x="400.4" y="475.85" width="11" height="3.1" rx="1.55" fill="#000" fill-opacity="1" filter="url(#bl)"/>
<rect x="411.1" y="475.85" width="11" height="3.1" rx="1.55" fill="#000" fill-opacity="1" filter="url(#bl)"/>
<rect x="421.6" y="475.85" width="11" height="3.1" rx="1.55" fill="#000" fill-opacity="1" filter="url(#bl)"/>
<rect x="432" y="475.85" width="11" height="3.1" rx="1.55" fill="#000" fill-opacity="1" filter="url(#bl)"/>
<rect x="442.7" y="475.85" width="11" height="3.1" rx="1.55" fill="#000" fill-opacity="1" filter="url(#bl)"/>
<rect x="453.1" y="475.85" width="11" height="3.1" rx="1.55" fill="#000" fill-opacity="1" filter="url(#bl)"/>
<rect x="463.5" y="475.85" width="11" height="3.1" rx="1.55" fill="#000" fill-opacity="1" filter="url(#bl)"/>
<rect x="473.9" y="475.85" width="11" height="3.1" rx="1.55" fill="#000" fill-opacity="1" filter="url(#bl)"/>
<rect x="484.4" y="475.85" width="11" height="3.1" rx="1.55" fill="#000" fill-opacity="1" filter="url(#bl)"/>
<linearGradient id="g591682483" x1="0" y1="0" x2="0" y2="1"><stop offset="0" stop-color="#e0e0e0"/><stop offset="0.3" stop-color="#ececec"/><stop offset="0.7" stop-color="#e4e4e4"/><stop offset="1" stop-color="#cfcfcf"/></linearGradient>
<rect x="346.4" y="487.3" width="150.5" height="15.5" fill="url(#g591682483)" stroke="none" stroke-width="0"/>
<rect x="348.86" y="492.86" width="9.07" height="2.27" rx="1.14" fill="#000" fill-opacity="0.69" filter="url(#bl)"/>
<rect x="359.34" y="492.84" width="9.31" height="2.32" rx="1.16" fill="#000" fill-opacity="0.75" filter="url(#bl)"/>
<rect x="369.76" y="492.86" width="9.07" height="2.27" rx="1.14" fill="#000" fill-opacity="0.69" filter="url(#bl)"/>
<rect x="380.14" y="492.84" width="9.31" height="2.32" rx="1.16" fill="#000" fill-opacity="0.75" filter="url(#bl)"/>
<rect x="391.25" y="492.98" width="7.9" height="2.05" rx="1.02" fill="#000" fill-opacity="0.38" filter="url(#bl)"/>
<rect x="402.07" y="493" width="7.66" height="2" rx="1" fill="#000" fill-opacity="0.32" filter="url(#bl)"/>
<rect x="413.14" y="493.07" width="6.91" height="1.86" rx="0.93" fill="#000" fill-opacity="0.04" filter="url(#bl)"/>
<rect x="421.62" y="494.28" width="10.96" height="2.64" rx="1.32" fill="#000" fill-opacity="1" filter="url(#bl)"/>
<rect x="432.26" y="494.33" width="10.49" height="2.55" rx="1.27" fill="#000" fill-opacity="1" filter="url(#bl)"/>
<rect x="443.19" y="494.37" width="10.02" height="2.46" rx="1.23" fill="#000" fill-opacity="0.92" filter="url(#bl)"/>
<rect x="453.83" y="494.42" width="9.55" height="2.37" rx="1.18" fill="#000" fill-opacity="0.81" filter="url(#bl)"/>
<rect x="464.23" y="494.42" width="9.55" height="2.37" rx="1.18" fill="#000" fill-opacity="0.81" filter="url(#bl)"/>
<rect x="474.63" y="494.42" width="9.55" height="2.37" rx="1.18" fill="#000" fill-opacity="0.81" filter="url(#bl)"/>
<rect x="485.13" y="494.42" width="9.55" height="2.37" rx="1.18" fill="#000" fill-opacity="0.81" filter="url(#bl)"/>
<rect x="422.01" y="491.65" width="10.19" height="1.89" rx="0.95" fill="#000" fill-opacity="0.4" filter="url(#bl)"/>
<rect x="432.41" y="491.7" width="10.19" height="1.8" rx="0.9" fill="#000" fill-opacity="0.3" filter="url(#bl)"/>
<rect x="443.11" y="491.74" width="10.19" height="1.72" rx="0.86" fill="#000" fill-opacity="0.2" filter="url(#bl)"/>
<rect x="453.51" y="491.74" width="10.19" height="1.72" rx="0.86" fill="#000" fill-opacity="0.2" filter="url(#bl)"/>
<rect x="463.91" y="491.74" width="10.19" height="1.72" rx="0.86" fill="#000" fill-opacity="0.2" filter="url(#bl)"/>
<rect x="474.31" y="491.74" width="10.19" height="1.72" rx="0.86" fill="#000" fill-opacity="0.2" filter="url(#bl)"/>
<rect x="484.81" y="491.74" width="10.19" height="1.72" rx="0.86" fill="#000" fill-opacity="0.2" filter="url(#bl)"/>
<linearGradient id="g455824009" x1="0" y1="0" x2="0" y2="1"><stop offset="0" stop-color="#dcdcdc"/><stop offset="0.5" stop-color="#eaeaea"/><stop offset="0.85" stop-color="#eeeeee"/><stop offset="1" stop-color="#d8d8d8"/></linearGradient>
<rect x="346.4" y="504.6" width="150.5" height="14.8" fill="url(#g455824009)" stroke="none" stroke-width="0"/>
<rect x="347.9" y="510.82" width="11" height="2.35" rx="1.18" fill="#000" fill-opacity="1" filter="url(#bl)"/>
<rect x="358.5" y="510.82" width="11" height="2.35" rx="1.18" fill="#000" fill-opacity="1" filter="url(#bl)"/>
<rect x="368.8" y="510.82" width="11" height="2.35" rx="1.18" fill="#000" fill-opacity="1" filter="url(#bl)"/>
<rect x="379.3" y="510.82" width="11" height="2.35" rx="1.18" fill="#000" fill-opacity="1" filter="url(#bl)"/>
<rect x="389.7" y="510.82" width="11" height="2.35" rx="1.18" fill="#000" fill-opacity="1" filter="url(#bl)"/>
<rect x="400.4" y="510.82" width="11" height="2.35" rx="1.18" fill="#000" fill-opacity="1" filter="url(#bl)"/>
<rect x="411.1" y="510.82" width="11" height="2.35" rx="1.18" fill="#000" fill-opacity="1" filter="url(#bl)"/>
<rect x="421.6" y="510.82" width="11" height="2.35" rx="1.18" fill="#000" fill-opacity="1" filter="url(#bl)"/>
<rect x="432" y="510.82" width="11" height="2.35" rx="1.18" fill="#000" fill-opacity="1" filter="url(#bl)"/>
<rect x="442.7" y="510.82" width="11" height="2.35" rx="1.18" fill="#000" fill-opacity="1" filter="url(#bl)"/>
<rect x="453.1" y="510.82" width="11" height="2.35" rx="1.18" fill="#000" fill-opacity="1" filter="url(#bl)"/>
<rect x="463.5" y="510.82" width="11" height="2.35" rx="1.18" fill="#000" fill-opacity="1" filter="url(#bl)"/>
<rect x="473.9" y="510.82" width="11" height="2.35" rx="1.18" fill="#000" fill-opacity="1" filter="url(#bl)"/>
<rect x="484.4" y="510.82" width="11" height="2.35" rx="1.18" fill="#000" fill-opacity="1" filter="url(#bl)"/>
<rect x="348.31" y="507.23" width="10.19" height="1.55" rx="0.77" fill="#000" fill-opacity="0.4" filter="url(#bl)"/>
<rect x="358.91" y="507.23" width="10.19" height="1.55" rx="0.77" fill="#000" fill-opacity="0.4" filter="url(#bl)"/>
<rect x="369.21" y="507.23" width="10.19" height="1.55" rx="0.77" fill="#000" fill-opacity="0.4" filter="url(#bl)"/>
<rect x="379.71" y="507.23" width="10.19" height="1.55" rx="0.77" fill="#000" fill-opacity="0.4" filter="url(#bl)"/>
<rect x="390.11" y="507.23" width="10.19" height="1.55" rx="0.77" fill="#000" fill-opacity="0.4" filter="url(#bl)"/>
<rect x="400.81" y="507.23" width="10.19" height="1.55" rx="0.77" fill="#000" fill-opacity="0.4" filter="url(#bl)"/>
<rect x="411.51" y="507.23" width="10.19" height="1.55" rx="0.77" fill="#000" fill-opacity="0.4" filter="url(#bl)"/>
<rect x="422.01" y="507.23" width="10.19" height="1.55" rx="0.77" fill="#000" fill-opacity="0.4" filter="url(#bl)"/>
<rect x="432.41" y="507.23" width="10.19" height="1.55" rx="0.77" fill="#000" fill-opacity="0.4" filter="url(#bl)"/>
<rect x="443.11" y="507.23" width="10.19" height="1.55" rx="0.77" fill="#000" fill-opacity="0.4" filter="url(#bl)"/>
<rect x="453.51" y="507.23" width="10.19" height="1.55" rx="0.77" fill="#000" fill-opacity="0.4" filter="url(#bl)"/>
<rect x="463.91" y="507.23" width="10.19" height="1.55" rx="0.77" fill="#000" fill-opacity="0.4" filter="url(#bl)"/>
<rect x="474.31" y="507.23" width="10.19" height="1.55" rx="0.77" fill="#000" fill-opacity="0.4" filter="url(#bl)"/>
<rect x="484.81" y="507.23" width="10.19" height="1.55" rx="0.77" fill="#000" fill-opacity="0.4" filter="url(#bl)"/>
<linearGradient id="g63469421" x1="0" y1="0" x2="0" y2="1"><stop offset="0" stop-color="#e4e4e4"/><stop offset="0.2" stop-color="#f4f4f4"/><stop offset="0.85" stop-color="#f4f4f4"/><stop offset="1" stop-color="#dcdcdc"/></linearGradient>
<rect x="346.4" y="521.5" width="150.5" height="14.8" fill="url(#g63469421)" stroke="none" stroke-width="0"/>
<rect x="347.9" y="525.92" width="11" height="3.36" rx="1.68" fill="#000" fill-opacity="1" filter="url(#bl)"/>
<rect x="358.5" y="525.92" width="11" height="3.36" rx="1.68" fill="#000" fill-opacity="1" filter="url(#bl)"/>
<rect x="368.8" y="525.92" width="11" height="3.36" rx="1.68" fill="#000" fill-opacity="1" filter="url(#bl)"/>
<rect x="379.3" y="525.92" width="11" height="3.36" rx="1.68" fill="#000" fill-opacity="1" filter="url(#bl)"/>
<rect x="391.25" y="526.34" width="7.9" height="2.52" rx="1.26" fill="#000" fill-opacity="0.38" filter="url(#bl)"/>
<rect x="402.3" y="526.42" width="7.19" height="2.35" rx="1.18" fill="#000" fill-opacity="0.09" filter="url(#bl)"/>
<rect x="413.19" y="526.47" width="6.82" height="2.26" rx="1.13" fill="#000" fill-opacity="0.02" filter="url(#bl)"/>
<rect x="421.6" y="525.92" width="11" height="3.36" rx="1.68" fill="#000" fill-opacity="1" filter="url(#bl)"/>
<rect x="432" y="525.92" width="11" height="3.36" rx="1.68" fill="#000" fill-opacity="1" filter="url(#bl)"/>
<rect x="442.7" y="525.92" width="11" height="3.36" rx="1.68" fill="#000" fill-opacity="1" filter="url(#bl)"/>
<rect x="453.1" y="525.95" width="11" height="3.3" rx="1.65" fill="#000" fill-opacity="1" filter="url(#bl)"/>
<rect x="464.82" y="526.28" width="8.37" height="2.63" rx="1.32" fill="#000" fill-opacity="0.51" filter="url(#bl)"/>
<rect x="475.1" y="526.26" width="8.6" height="2.69" rx="1.34" fill="#000" fill-opacity="0.57" filter="url(#bl)"/>
<rect x="485.36" y="526.2" width="9.07" height="2.8" rx="1.4" fill="#000" fill-opacity="0.69" filter="url(#bl)"/>
<linearGradient id="g887825707" x1="0" y1="0" x2="0" y2="1"><stop offset="0" stop-color="#d6d6d6"/><stop offset="0.4" stop-color="#e2e2e2"/><stop offset="0.8" stop-color="#ececec"/><stop offset="1" stop-color="#d8d8d8"/></linearGradient>
<rect x="346.4" y="537.8" width="150.5" height="13.7" fill="url(#g887825707)" stroke="none" stroke-width="0"/>
<rect x="348.74" y="542.64" width="9.31" height="2.32" rx="1.16" fill="#000" fill-opacity="0.75" filter="url(#bl)"/>
<rect x="359.34" y="542.64" width="9.31" height="2.32" rx="1.16" fill="#000" fill-opacity="0.75" filter="url(#bl)"/>
<rect x="369.88" y="542.69" width="8.84" height="2.23" rx="1.11" fill="#000" fill-opacity="0.63" filter="url(#bl)"/>
<rect x="380.38" y="542.69" width="8.84" height="2.23" rx="1.11" fill="#000" fill-opacity="0.63" filter="url(#bl)"/>
<rect x="391.02" y="542.73" width="8.37" height="2.14" rx="1.07" fill="#000" fill-opacity="0.51" filter="url(#bl)"/>
<rect x="401.36" y="542.66" width="9.07" height="2.27" rx="1.14" fill="#000" fill-opacity="0.69" filter="url(#bl)"/>
<rect x="411.83" y="542.62" width="9.55" height="2.37" rx="1.18" fill="#000" fill-opacity="0.81" filter="url(#bl)"/>
<rect x="422.56" y="542.66" width="9.07" height="2.27" rx="1.14" fill="#000" fill-opacity="0.69" filter="url(#bl)"/>
<rect x="432.84" y="542.64" width="9.31" height="2.32" rx="1.16" fill="#000" fill-opacity="0.75" filter="url(#bl)"/>
<rect x="443.43" y="542.62" width="9.55" height="2.37" rx="1.18" fill="#000" fill-opacity="0.81" filter="url(#bl)"/>
<rect x="453.94" y="542.64" width="9.31" height="2.32" rx="1.16" fill="#000" fill-opacity="0.75" filter="url(#bl)"/>
<rect x="464.58" y="542.69" width="8.84" height="2.23" rx="1.11" fill="#000" fill-opacity="0.63" filter="url(#bl)"/>
<rect x="475.33" y="542.75" width="8.13" height="2.09" rx="1.05" fill="#000" fill-opacity="0.45" filter="url(#bl)"/>
<rect x="486.42" y="542.87" width="6.96" height="1.87" rx="0.93" fill="#000" fill-opacity="0.05" filter="url(#bl)"/>
<linearGradient id="g607151283" x1="0" y1="0" x2="0" y2="1"><stop offset="0" stop-color="#e0e0e0"/><stop offset="0.5" stop-color="#e8e8e8"/><stop offset="1" stop-color="#dcdcdc"/></linearGradient>
<rect x="346.4" y="553.3" width="150.5" height="15" fill="url(#g607151283)" stroke="none" stroke-width="0"/>
<rect x="347.9" y="558.95" width="11" height="3.3" rx="1.65" fill="#000" fill-opacity="1" filter="url(#bl)"/>
<rect x="358.5" y="558.95" width="11" height="3.3" rx="1.65" fill="#000" fill-opacity="1" filter="url(#bl)"/>
<rect x="368.8" y="558.95" width="11" height="3.3" rx="1.65" fill="#000" fill-opacity="1" filter="url(#bl)"/>
<rect x="379.3" y="558.95" width="11" height="3.3" rx="1.65" fill="#000" fill-opacity="1" filter="url(#bl)"/>
<rect x="389.7" y="558.95" width="11" height="3.3" rx="1.65" fill="#000" fill-opacity="1" filter="url(#bl)"/>
<rect x="400.4" y="558.95" width="11" height="3.3" rx="1.65" fill="#000" fill-opacity="1" filter="url(#bl)"/>
<rect x="411.1" y="558.95" width="11" height="3.3" rx="1.65" fill="#000" fill-opacity="1" filter="url(#bl)"/>
<rect x="421.6" y="558.95" width="11" height="3.3" rx="1.65" fill="#000" fill-opacity="1" filter="url(#bl)"/>
<rect x="432" y="558.95" width="11" height="3.3" rx="1.65" fill="#000" fill-opacity="1" filter="url(#bl)"/>
<rect x="442.7" y="558.95" width="11" height="3.3" rx="1.65" fill="#000" fill-opacity="1" filter="url(#bl)"/>
<rect x="453.1" y="558.95" width="11" height="3.3" rx="1.65" fill="#000" fill-opacity="1" filter="url(#bl)"/>
<rect x="463.5" y="558.95" width="11" height="3.3" rx="1.65" fill="#000" fill-opacity="1" filter="url(#bl)"/>
<rect x="473.9" y="558.95" width="11" height="3.3" rx="1.65" fill="#000" fill-opacity="1" filter="url(#bl)"/>
<rect x="484.4" y="558.95" width="11" height="3.3" rx="1.65" fill="#000" fill-opacity="1" filter="url(#bl)"/>
<rect x="346.4" y="418.3" width="150.5" height="16.8" fill="none" stroke="#2a2a2a" stroke-width="1.2"/>
<rect x="346.4" y="437.3" width="150.5" height="14.3" fill="none" stroke="#2a2a2a" stroke-width="1.2"/>
<rect x="346.4" y="453.6" width="150.5" height="14.3" fill="none" stroke="#2a2a2a" stroke-width="1.2"/>
<rect x="346.4" y="470.5" width="150.5" height="14.4" fill="none" stroke="#2a2a2a" stroke-width="1.2"/>
<rect x="346.4" y="487.3" width="150.5" height="15.5" fill="none" stroke="#2a2a2a" stroke-width="1.2"/>
<rect x="346.4" y="504.6" width="150.5" height="14.8" fill="none" stroke="#2a2a2a" stroke-width="1.2"/>
<rect x="346.4" y="521.5" width="150.5" height="14.8" fill="none" stroke="#2a2a2a" stroke-width="1.2"/>
<rect x="346.4" y="537.8" width="150.5" height="13.7" fill="none" stroke="#2a2a2a" stroke-width="1.2"/>
<rect x="346.4" y="553.3" width="150.5" height="15" fill="none" stroke="#2a2a2a" stroke-width="1.2"/>
<rect x="0.5" y="0.5" width="519" height="594" fill="none" stroke="#505050" stroke-width="1.2"/>
</g>
</svg>
</body></html>
